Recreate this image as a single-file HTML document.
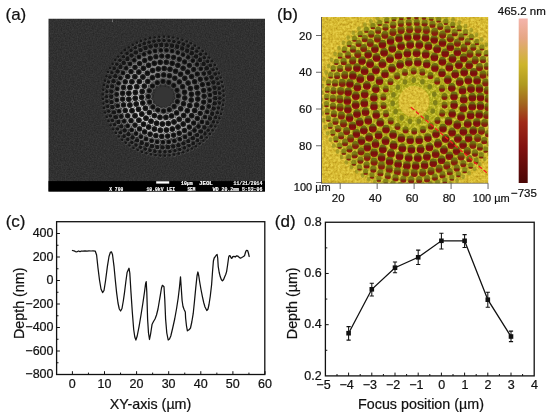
<!DOCTYPE html>
<html><head><meta charset="utf-8"><title>Figure</title>
<style>html,body{margin:0;padding:0;background:#fff;overflow:hidden}svg{display:block}text{font-family:"Liberation Sans",Arial,sans-serif;fill:#111;stroke:#111;stroke-width:0.22px}</style></head><body>
<svg width="550" height="418" viewBox="0 0 550 418">
<defs>
<linearGradient id="cb" x1="0" y1="0" x2="0" y2="1"><stop offset="0" stop-color="#f4b4ac"/><stop offset="0.12" stop-color="#e6a684"/><stop offset="0.28" stop-color="#cdb52c"/><stop offset="0.40" stop-color="#b09a20"/><stop offset="0.52" stop-color="#a2641e"/><stop offset="0.63" stop-color="#a02a18"/><stop offset="0.78" stop-color="#821210"/><stop offset="1" stop-color="#4a0706"/></linearGradient>
<linearGradient id="dot" x1="0" y1="0" x2="0" y2="1"><stop offset="0" stop-color="#6c640e"/><stop offset="0.15" stop-color="#6a3a0a"/><stop offset="0.32" stop-color="#741408"/><stop offset="0.7" stop-color="#820e08"/><stop offset="1" stop-color="#a0200e"/></linearGradient>
<linearGradient id="dot3" x1="0" y1="0" x2="0" y2="1"><stop offset="0" stop-color="#74700f"/><stop offset="0.25" stop-color="#72480c"/><stop offset="0.55" stop-color="#80200a"/><stop offset="1" stop-color="#9c1e0c"/></linearGradient>
<linearGradient id="dot2" x1="0" y1="0" x2="0" y2="1"><stop offset="0" stop-color="#86841a"/><stop offset="0.6" stop-color="#7c6e14"/><stop offset="1" stop-color="#8a5012"/></linearGradient>
<radialGradient id="hole" cx="0.5" cy="0.5" r="0.5"><stop offset="0" stop-color="#0b0b0b"/><stop offset="0.6" stop-color="#141414"/><stop offset="0.85" stop-color="#262626"/><stop offset="1" stop-color="#444"/></radialGradient>
<radialGradient id="afmbg" cx="0.56" cy="0.515" r="0.62"><stop offset="0" stop-color="#d8c450"/><stop offset="0.16" stop-color="#d6c24c"/><stop offset="0.24" stop-color="#bfb030"/><stop offset="0.78" stop-color="#b4a62a"/><stop offset="0.9" stop-color="#cdb840"/><stop offset="1" stop-color="#d9c350"/></radialGradient>
<clipPath id="afmclip"><rect x="321.1" y="17" width="167.1" height="166.3"/></clipPath>
<clipPath id="semclip"><rect x="48.5" y="18.7" width="216.5" height="172.8"/></clipPath>
<filter id="semn" color-interpolation-filters="sRGB" x="0" y="0" width="1" height="1"><feTurbulence type="fractalNoise" baseFrequency="0.75" numOctaves="2" seed="3"/><feColorMatrix type="matrix" values="0.12 0 0 0 0.132  0.12 0 0 0 0.132  0.12 0 0 0 0.132  0 0 0 0 1"/></filter>
<filter id="afml" color-interpolation-filters="sRGB" x="0" y="0" width="1" height="1"><feTurbulence type="fractalNoise" baseFrequency="0.42" numOctaves="2" seed="11"/><feColorMatrix type="matrix" values="0 0 0 0 0.98  0 0 0 0 0.9  0 0 0 0 0.38  3.6 0 0 0 -1.62"/></filter>
<filter id="afmd" color-interpolation-filters="sRGB" x="0" y="0" width="1" height="1"><feTurbulence type="fractalNoise" baseFrequency="0.42" numOctaves="2" seed="11"/><feColorMatrix type="matrix" values="0 0 0 0 0.62  0 0 0 0 0.45  0 0 0 0 0.03  -3.6 0 0 0 1.55"/></filter>
<filter id="b1"><feGaussianBlur stdDeviation="0.45"/></filter>
<filter id="b3"><feGaussianBlur stdDeviation="1.6"/></filter>
<filter id="b2"><feGaussianBlur stdDeviation="0.6"/></filter>
</defs>
<g clip-path="url(#semclip)">
<rect x="48" y="18" width="218" height="175" fill="#3b3b3b" filter="url(#semn)"/>
<g filter="url(#b1)">
<circle cx="163.3" cy="96.2" r="29" fill="none" stroke="#4e4e4e" stroke-width="30" opacity="0.9"/>
<circle cx="161.3" cy="98.2" r="27" fill="none" stroke="#808080" stroke-width="17" opacity="0.4"/>
<circle cx="157.8" cy="110.0" r="3.05" fill="none" stroke="rgb(123,123,123)" stroke-width="1.0"/>
<circle cx="152.9" cy="106.9" r="3.05" fill="none" stroke="rgb(125,125,125)" stroke-width="1.0"/>
<circle cx="149.6" cy="102.1" r="3.05" fill="none" stroke="rgb(124,124,124)" stroke-width="1.0"/>
<circle cx="148.3" cy="96.5" r="3.05" fill="none" stroke="rgb(120,120,120)" stroke-width="1.0"/>
<circle cx="149.3" cy="90.8" r="3.05" fill="none" stroke="rgb(114,114,114)" stroke-width="1.0"/>
<circle cx="152.5" cy="86.0" r="3.05" fill="none" stroke="rgb(107,107,107)" stroke-width="1.0"/>
<circle cx="157.3" cy="82.7" r="3.05" fill="none" stroke="rgb(99,99,99)" stroke-width="1.0"/>
<circle cx="163.0" cy="81.4" r="3.05" fill="none" stroke="rgb(93,93,93)" stroke-width="1.0"/>
<circle cx="168.8" cy="82.4" r="3.05" fill="none" stroke="rgb(89,89,89)" stroke-width="1.0"/>
<circle cx="173.7" cy="85.5" r="3.05" fill="none" stroke="rgb(87,87,87)" stroke-width="1.0"/>
<circle cx="177.0" cy="90.3" r="3.05" fill="none" stroke="rgb(89,89,89)" stroke-width="1.0"/>
<circle cx="178.3" cy="95.9" r="3.05" fill="none" stroke="rgb(93,93,93)" stroke-width="1.0"/>
<circle cx="177.3" cy="101.6" r="3.05" fill="none" stroke="rgb(99,99,99)" stroke-width="1.0"/>
<circle cx="174.1" cy="106.4" r="3.05" fill="none" stroke="rgb(106,106,106)" stroke-width="1.0"/>
<circle cx="169.3" cy="109.7" r="3.05" fill="none" stroke="rgb(113,113,113)" stroke-width="1.0"/>
<circle cx="163.6" cy="111.0" r="3.05" fill="none" stroke="rgb(119,119,119)" stroke-width="1.0"/>
<circle cx="176.6" cy="112.9" r="3.20" fill="none" stroke="rgb(173,173,173)" stroke-width="1.0"/>
<circle cx="171.6" cy="115.9" r="3.20" fill="none" stroke="rgb(186,186,186)" stroke-width="1.0"/>
<circle cx="165.9" cy="117.3" r="3.20" fill="none" stroke="rgb(198,198,198)" stroke-width="1.0"/>
<circle cx="160.0" cy="117.2" r="3.20" fill="none" stroke="rgb(208,208,208)" stroke-width="1.0"/>
<circle cx="154.4" cy="115.6" r="3.20" fill="none" stroke="rgb(214,214,214)" stroke-width="1.0"/>
<circle cx="149.4" cy="112.5" r="3.20" fill="none" stroke="rgb(217,217,217)" stroke-width="1.0"/>
<circle cx="145.4" cy="108.2" r="3.20" fill="none" stroke="rgb(217,217,217)" stroke-width="1.0"/>
<circle cx="142.8" cy="103.0" r="3.20" fill="none" stroke="rgb(212,212,212)" stroke-width="1.0"/>
<circle cx="141.7" cy="97.3" r="3.20" fill="none" stroke="rgb(205,205,205)" stroke-width="1.0"/>
<circle cx="142.2" cy="91.5" r="3.20" fill="none" stroke="rgb(194,194,194)" stroke-width="1.0"/>
<circle cx="144.3" cy="86.1" r="3.20" fill="none" stroke="rgb(182,182,182)" stroke-width="1.0"/>
<circle cx="147.8" cy="81.4" r="3.20" fill="none" stroke="rgb(168,168,168)" stroke-width="1.0"/>
<circle cx="152.4" cy="77.8" r="3.20" fill="none" stroke="rgb(154,154,154)" stroke-width="1.0"/>
<circle cx="157.8" cy="75.6" r="3.20" fill="none" stroke="rgb(142,142,142)" stroke-width="1.0"/>
<circle cx="163.7" cy="74.9" r="3.20" fill="none" stroke="rgb(131,131,131)" stroke-width="1.0"/>
<circle cx="169.5" cy="75.8" r="3.20" fill="none" stroke="rgb(123,123,123)" stroke-width="1.0"/>
<circle cx="174.8" cy="78.2" r="3.20" fill="none" stroke="rgb(118,118,118)" stroke-width="1.0"/>
<circle cx="179.3" cy="81.9" r="3.20" fill="none" stroke="rgb(117,117,117)" stroke-width="1.0"/>
<circle cx="182.6" cy="86.7" r="3.20" fill="none" stroke="rgb(119,119,119)" stroke-width="1.0"/>
<circle cx="184.5" cy="92.2" r="3.20" fill="none" stroke="rgb(126,126,126)" stroke-width="1.0"/>
<circle cx="184.8" cy="98.0" r="3.20" fill="none" stroke="rgb(135,135,135)" stroke-width="1.0"/>
<circle cx="183.5" cy="103.7" r="3.20" fill="none" stroke="rgb(146,146,146)" stroke-width="1.0"/>
<circle cx="180.7" cy="108.8" r="3.20" fill="none" stroke="rgb(159,159,159)" stroke-width="1.0"/>
<circle cx="142.9" cy="77.0" r="3.25" fill="none" stroke="rgb(187,187,187)" stroke-width="1.0"/>
<circle cx="147.4" cy="73.2" r="3.25" fill="none" stroke="rgb(174,174,174)" stroke-width="1.0"/>
<circle cx="152.6" cy="70.5" r="3.25" fill="none" stroke="rgb(162,162,162)" stroke-width="1.0"/>
<circle cx="158.3" cy="68.9" r="3.25" fill="none" stroke="rgb(151,151,151)" stroke-width="1.0"/>
<circle cx="164.2" cy="68.4" r="3.25" fill="none" stroke="rgb(142,142,142)" stroke-width="1.0"/>
<circle cx="170.0" cy="69.2" r="3.25" fill="none" stroke="rgb(134,134,134)" stroke-width="1.0"/>
<circle cx="175.6" cy="71.2" r="3.25" fill="none" stroke="rgb(129,129,129)" stroke-width="1.0"/>
<circle cx="180.6" cy="74.2" r="3.25" fill="none" stroke="rgb(126,126,126)" stroke-width="1.0"/>
<circle cx="184.8" cy="78.3" r="3.25" fill="none" stroke="rgb(126,126,126)" stroke-width="1.0"/>
<circle cx="188.1" cy="83.1" r="3.25" fill="none" stroke="rgb(128,128,128)" stroke-width="1.0"/>
<circle cx="190.4" cy="88.4" r="3.25" fill="none" stroke="rgb(133,133,133)" stroke-width="1.0"/>
<circle cx="191.4" cy="94.2" r="3.25" fill="none" stroke="rgb(140,140,140)" stroke-width="1.0"/>
<circle cx="191.2" cy="100.0" r="3.25" fill="none" stroke="rgb(149,149,149)" stroke-width="1.0"/>
<circle cx="189.8" cy="105.6" r="3.25" fill="none" stroke="rgb(160,160,160)" stroke-width="1.0"/>
<circle cx="187.3" cy="110.8" r="3.25" fill="none" stroke="rgb(172,172,172)" stroke-width="1.0"/>
<circle cx="183.7" cy="115.4" r="3.25" fill="none" stroke="rgb(184,184,184)" stroke-width="1.0"/>
<circle cx="179.2" cy="119.2" r="3.25" fill="none" stroke="rgb(197,197,197)" stroke-width="1.0"/>
<circle cx="174.0" cy="121.9" r="3.25" fill="none" stroke="rgb(209,209,209)" stroke-width="1.0"/>
<circle cx="168.3" cy="123.5" r="3.25" fill="none" stroke="rgb(220,220,220)" stroke-width="1.0"/>
<circle cx="162.4" cy="124.0" r="3.25" fill="none" stroke="rgb(229,229,229)" stroke-width="1.0"/>
<circle cx="156.6" cy="123.2" r="3.25" fill="none" stroke="rgb(237,237,237)" stroke-width="1.0"/>
<circle cx="151.0" cy="121.2" r="3.25" fill="none" stroke="rgb(242,242,242)" stroke-width="1.0"/>
<circle cx="146.0" cy="118.2" r="3.25" fill="none" stroke="rgb(245,245,245)" stroke-width="1.0"/>
<circle cx="141.8" cy="114.1" r="3.25" fill="none" stroke="rgb(245,245,245)" stroke-width="1.0"/>
<circle cx="138.5" cy="109.3" r="3.25" fill="none" stroke="rgb(243,243,243)" stroke-width="1.0"/>
<circle cx="136.2" cy="104.0" r="3.25" fill="none" stroke="rgb(238,238,238)" stroke-width="1.0"/>
<circle cx="135.2" cy="98.2" r="3.25" fill="none" stroke="rgb(231,231,231)" stroke-width="1.0"/>
<circle cx="135.4" cy="92.4" r="3.25" fill="none" stroke="rgb(222,222,222)" stroke-width="1.0"/>
<circle cx="136.8" cy="86.8" r="3.25" fill="none" stroke="rgb(211,211,211)" stroke-width="1.0"/>
<circle cx="139.3" cy="81.6" r="3.25" fill="none" stroke="rgb(199,199,199)" stroke-width="1.0"/>
<circle cx="194.7" cy="110.6" r="3.25" fill="none" stroke="rgb(160,160,160)" stroke-width="1.0"/>
<circle cx="191.7" cy="115.7" r="3.25" fill="none" stroke="rgb(169,169,169)" stroke-width="1.0"/>
<circle cx="187.8" cy="120.3" r="3.25" fill="none" stroke="rgb(179,179,179)" stroke-width="1.0"/>
<circle cx="183.2" cy="124.1" r="3.25" fill="none" stroke="rgb(189,189,189)" stroke-width="1.0"/>
<circle cx="178.0" cy="127.1" r="3.25" fill="none" stroke="rgb(199,199,199)" stroke-width="1.0"/>
<circle cx="172.3" cy="129.1" r="3.25" fill="none" stroke="rgb(208,208,208)" stroke-width="1.0"/>
<circle cx="166.4" cy="130.1" r="3.25" fill="none" stroke="rgb(216,216,216)" stroke-width="1.0"/>
<circle cx="160.3" cy="130.2" r="3.25" fill="none" stroke="rgb(223,223,223)" stroke-width="1.0"/>
<circle cx="154.4" cy="129.1" r="3.25" fill="none" stroke="rgb(228,228,228)" stroke-width="1.0"/>
<circle cx="148.7" cy="127.1" r="3.25" fill="none" stroke="rgb(233,233,233)" stroke-width="1.0"/>
<circle cx="143.5" cy="124.2" r="3.25" fill="none" stroke="rgb(235,235,235)" stroke-width="1.0"/>
<circle cx="138.9" cy="120.3" r="3.25" fill="none" stroke="rgb(236,236,236)" stroke-width="1.0"/>
<circle cx="135.0" cy="115.8" r="3.25" fill="none" stroke="rgb(235,235,235)" stroke-width="1.0"/>
<circle cx="132.0" cy="110.7" r="3.25" fill="none" stroke="rgb(233,233,233)" stroke-width="1.0"/>
<circle cx="129.9" cy="105.1" r="3.25" fill="none" stroke="rgb(228,228,228)" stroke-width="1.0"/>
<circle cx="128.8" cy="99.2" r="3.25" fill="none" stroke="rgb(223,223,223)" stroke-width="1.0"/>
<circle cx="128.8" cy="93.3" r="3.25" fill="none" stroke="rgb(216,216,216)" stroke-width="1.0"/>
<circle cx="129.9" cy="87.4" r="3.25" fill="none" stroke="rgb(208,208,208)" stroke-width="1.0"/>
<circle cx="131.9" cy="81.8" r="3.25" fill="none" stroke="rgb(199,199,199)" stroke-width="1.0"/>
<circle cx="134.9" cy="76.7" r="3.25" fill="none" stroke="rgb(189,189,189)" stroke-width="1.0"/>
<circle cx="138.8" cy="72.1" r="3.25" fill="none" stroke="rgb(179,179,179)" stroke-width="1.0"/>
<circle cx="143.4" cy="68.3" r="3.25" fill="none" stroke="rgb(170,170,170)" stroke-width="1.0"/>
<circle cx="148.6" cy="65.3" r="3.25" fill="none" stroke="rgb(160,160,160)" stroke-width="1.0"/>
<circle cx="154.3" cy="63.3" r="3.25" fill="none" stroke="rgb(151,151,151)" stroke-width="1.0"/>
<circle cx="160.2" cy="62.3" r="3.25" fill="none" stroke="rgb(143,143,143)" stroke-width="1.0"/>
<circle cx="166.3" cy="62.2" r="3.25" fill="none" stroke="rgb(136,136,136)" stroke-width="1.0"/>
<circle cx="172.2" cy="63.3" r="3.25" fill="none" stroke="rgb(130,130,130)" stroke-width="1.0"/>
<circle cx="177.9" cy="65.3" r="3.25" fill="none" stroke="rgb(126,126,126)" stroke-width="1.0"/>
<circle cx="183.1" cy="68.2" r="3.25" fill="none" stroke="rgb(124,124,124)" stroke-width="1.0"/>
<circle cx="187.7" cy="72.1" r="3.25" fill="none" stroke="rgb(123,123,123)" stroke-width="1.0"/>
<circle cx="191.6" cy="76.6" r="3.25" fill="none" stroke="rgb(124,124,124)" stroke-width="1.0"/>
<circle cx="194.6" cy="81.7" r="3.25" fill="none" stroke="rgb(126,126,126)" stroke-width="1.0"/>
<circle cx="196.7" cy="87.3" r="3.25" fill="none" stroke="rgb(130,130,130)" stroke-width="1.0"/>
<circle cx="197.8" cy="93.2" r="3.25" fill="none" stroke="rgb(136,136,136)" stroke-width="1.0"/>
<circle cx="197.8" cy="99.1" r="3.25" fill="none" stroke="rgb(143,143,143)" stroke-width="1.0"/>
<circle cx="196.7" cy="105.0" r="3.25" fill="none" stroke="rgb(151,151,151)" stroke-width="1.0"/>
<circle cx="122.6" cy="93.2" r="3.10" fill="none" stroke="rgb(184,184,184)" stroke-width="1.0"/>
<circle cx="123.5" cy="87.4" r="3.10" fill="none" stroke="rgb(179,179,179)" stroke-width="1.0"/>
<circle cx="125.2" cy="81.8" r="3.10" fill="none" stroke="rgb(173,173,173)" stroke-width="1.0"/>
<circle cx="127.7" cy="76.5" r="3.10" fill="none" stroke="rgb(167,167,167)" stroke-width="1.0"/>
<circle cx="131.0" cy="71.6" r="3.10" fill="none" stroke="rgb(161,161,161)" stroke-width="1.0"/>
<circle cx="135.0" cy="67.3" r="3.10" fill="none" stroke="rgb(154,154,154)" stroke-width="1.0"/>
<circle cx="139.6" cy="63.5" r="3.10" fill="none" stroke="rgb(148,148,148)" stroke-width="1.0"/>
<circle cx="144.7" cy="60.4" r="3.10" fill="none" stroke="rgb(141,141,141)" stroke-width="1.0"/>
<circle cx="150.2" cy="58.2" r="3.10" fill="none" stroke="rgb(136,136,136)" stroke-width="1.0"/>
<circle cx="155.9" cy="56.7" r="3.10" fill="none" stroke="rgb(130,130,130)" stroke-width="1.0"/>
<circle cx="161.8" cy="56.0" r="3.10" fill="none" stroke="rgb(125,125,125)" stroke-width="1.0"/>
<circle cx="167.8" cy="56.3" r="3.10" fill="none" stroke="rgb(121,121,121)" stroke-width="1.0"/>
<circle cx="173.6" cy="57.3" r="3.10" fill="none" stroke="rgb(117,117,117)" stroke-width="1.0"/>
<circle cx="179.3" cy="59.2" r="3.10" fill="none" stroke="rgb(114,114,114)" stroke-width="1.0"/>
<circle cx="184.6" cy="61.9" r="3.10" fill="none" stroke="rgb(112,112,112)" stroke-width="1.0"/>
<circle cx="189.4" cy="65.3" r="3.10" fill="none" stroke="rgb(111,111,111)" stroke-width="1.0"/>
<circle cx="193.7" cy="69.4" r="3.10" fill="none" stroke="rgb(111,111,111)" stroke-width="1.0"/>
<circle cx="197.3" cy="74.0" r="3.10" fill="none" stroke="rgb(112,112,112)" stroke-width="1.0"/>
<circle cx="200.3" cy="79.2" r="3.10" fill="none" stroke="rgb(114,114,114)" stroke-width="1.0"/>
<circle cx="202.4" cy="84.6" r="3.10" fill="none" stroke="rgb(116,116,116)" stroke-width="1.0"/>
<circle cx="203.7" cy="90.4" r="3.10" fill="none" stroke="rgb(120,120,120)" stroke-width="1.0"/>
<circle cx="204.1" cy="96.2" r="3.10" fill="none" stroke="rgb(124,124,124)" stroke-width="1.0"/>
<circle cx="203.7" cy="102.1" r="3.10" fill="none" stroke="rgb(129,129,129)" stroke-width="1.0"/>
<circle cx="202.4" cy="107.8" r="3.10" fill="none" stroke="rgb(134,134,134)" stroke-width="1.0"/>
<circle cx="200.2" cy="113.3" r="3.10" fill="none" stroke="rgb(140,140,140)" stroke-width="1.0"/>
<circle cx="197.3" cy="118.4" r="3.10" fill="none" stroke="rgb(146,146,146)" stroke-width="1.0"/>
<circle cx="193.7" cy="123.0" r="3.10" fill="none" stroke="rgb(153,153,153)" stroke-width="1.0"/>
<circle cx="189.4" cy="127.1" r="3.10" fill="none" stroke="rgb(159,159,159)" stroke-width="1.0"/>
<circle cx="184.5" cy="130.5" r="3.10" fill="none" stroke="rgb(165,165,165)" stroke-width="1.0"/>
<circle cx="179.2" cy="133.2" r="3.10" fill="none" stroke="rgb(171,171,171)" stroke-width="1.0"/>
<circle cx="173.6" cy="135.1" r="3.10" fill="none" stroke="rgb(177,177,177)" stroke-width="1.0"/>
<circle cx="167.7" cy="136.1" r="3.10" fill="none" stroke="rgb(183,183,183)" stroke-width="1.0"/>
<circle cx="161.8" cy="136.4" r="3.10" fill="none" stroke="rgb(187,187,187)" stroke-width="1.0"/>
<circle cx="155.9" cy="135.7" r="3.10" fill="none" stroke="rgb(191,191,191)" stroke-width="1.0"/>
<circle cx="150.1" cy="134.2" r="3.10" fill="none" stroke="rgb(195,195,195)" stroke-width="1.0"/>
<circle cx="144.6" cy="131.9" r="3.10" fill="none" stroke="rgb(197,197,197)" stroke-width="1.0"/>
<circle cx="139.5" cy="128.9" r="3.10" fill="none" stroke="rgb(198,198,198)" stroke-width="1.0"/>
<circle cx="135.0" cy="125.1" r="3.10" fill="none" stroke="rgb(199,199,199)" stroke-width="1.0"/>
<circle cx="131.0" cy="120.7" r="3.10" fill="none" stroke="rgb(199,199,199)" stroke-width="1.0"/>
<circle cx="127.7" cy="115.8" r="3.10" fill="none" stroke="rgb(197,197,197)" stroke-width="1.0"/>
<circle cx="125.2" cy="110.5" r="3.10" fill="none" stroke="rgb(195,195,195)" stroke-width="1.0"/>
<circle cx="123.5" cy="104.9" r="3.10" fill="none" stroke="rgb(192,192,192)" stroke-width="1.0"/>
<circle cx="122.6" cy="99.1" r="3.10" fill="none" stroke="rgb(188,188,188)" stroke-width="1.0"/>
<circle cx="136.5" cy="134.0" r="2.90" fill="rgb(153,153,153)" opacity="0.8"/>
<circle cx="132.0" cy="130.4" r="2.90" fill="rgb(153,153,153)" opacity="0.8"/>
<circle cx="128.1" cy="126.3" r="2.90" fill="rgb(153,153,153)" opacity="0.8"/>
<circle cx="124.6" cy="121.8" r="2.90" fill="rgb(153,153,153)" opacity="0.8"/>
<circle cx="121.8" cy="116.9" r="2.90" fill="rgb(152,152,152)" opacity="0.8"/>
<circle cx="119.6" cy="111.6" r="2.90" fill="rgb(151,151,151)" opacity="0.8"/>
<circle cx="118.1" cy="106.2" r="2.90" fill="rgb(149,149,149)" opacity="0.8"/>
<circle cx="117.2" cy="100.6" r="2.90" fill="rgb(148,148,148)" opacity="0.8"/>
<circle cx="117.1" cy="94.9" r="2.90" fill="rgb(145,145,145)" opacity="0.8"/>
<circle cx="117.7" cy="89.3" r="2.90" fill="rgb(143,143,143)" opacity="0.8"/>
<circle cx="118.9" cy="83.7" r="2.90" fill="rgb(140,140,140)" opacity="0.8"/>
<circle cx="120.9" cy="78.4" r="2.90" fill="rgb(138,138,138)" opacity="0.8"/>
<circle cx="123.5" cy="73.4" r="2.90" fill="rgb(135,135,135)" opacity="0.8"/>
<circle cx="126.7" cy="68.7" r="2.90" fill="rgb(132,132,132)" opacity="0.8"/>
<circle cx="130.5" cy="64.4" r="2.90" fill="rgb(129,129,129)" opacity="0.8"/>
<circle cx="134.7" cy="60.6" r="2.90" fill="rgb(125,125,125)" opacity="0.8"/>
<circle cx="139.5" cy="57.4" r="2.90" fill="rgb(122,122,122)" opacity="0.8"/>
<circle cx="144.5" cy="54.7" r="2.90" fill="rgb(119,119,119)" opacity="0.8"/>
<circle cx="149.9" cy="52.7" r="2.90" fill="rgb(117,117,117)" opacity="0.8"/>
<circle cx="155.5" cy="51.4" r="2.90" fill="rgb(114,114,114)" opacity="0.8"/>
<circle cx="161.2" cy="50.7" r="2.90" fill="rgb(112,112,112)" opacity="0.8"/>
<circle cx="167.0" cy="50.8" r="2.90" fill="rgb(109,109,109)" opacity="0.8"/>
<circle cx="172.7" cy="51.5" r="2.90" fill="rgb(107,107,107)" opacity="0.8"/>
<circle cx="178.2" cy="52.9" r="2.90" fill="rgb(106,106,106)" opacity="0.8"/>
<circle cx="183.6" cy="55.0" r="2.90" fill="rgb(105,105,105)" opacity="0.8"/>
<circle cx="188.6" cy="57.7" r="2.90" fill="rgb(104,104,104)" opacity="0.8"/>
<circle cx="193.3" cy="61.0" r="2.90" fill="rgb(103,103,103)" opacity="0.8"/>
<circle cx="197.5" cy="64.9" r="2.90" fill="rgb(103,103,103)" opacity="0.8"/>
<circle cx="201.2" cy="69.2" r="2.90" fill="rgb(103,103,103)" opacity="0.8"/>
<circle cx="204.4" cy="73.9" r="2.90" fill="rgb(104,104,104)" opacity="0.8"/>
<circle cx="206.9" cy="79.0" r="2.90" fill="rgb(105,105,105)" opacity="0.8"/>
<circle cx="208.8" cy="84.4" r="2.90" fill="rgb(106,106,106)" opacity="0.8"/>
<circle cx="209.9" cy="89.9" r="2.90" fill="rgb(108,108,108)" opacity="0.8"/>
<circle cx="210.4" cy="95.6" r="2.90" fill="rgb(110,110,110)" opacity="0.8"/>
<circle cx="210.2" cy="101.2" r="2.90" fill="rgb(112,112,112)" opacity="0.8"/>
<circle cx="209.3" cy="106.8" r="2.90" fill="rgb(115,115,115)" opacity="0.8"/>
<circle cx="207.7" cy="112.3" r="2.90" fill="rgb(118,118,118)" opacity="0.8"/>
<circle cx="205.4" cy="117.5" r="2.90" fill="rgb(121,121,121)" opacity="0.8"/>
<circle cx="202.5" cy="122.3" r="2.90" fill="rgb(124,124,124)" opacity="0.8"/>
<circle cx="199.0" cy="126.8" r="2.90" fill="rgb(127,127,127)" opacity="0.8"/>
<circle cx="195.0" cy="130.9" r="2.90" fill="rgb(130,130,130)" opacity="0.8"/>
<circle cx="190.5" cy="134.4" r="2.90" fill="rgb(133,133,133)" opacity="0.8"/>
<circle cx="185.5" cy="137.3" r="2.90" fill="rgb(136,136,136)" opacity="0.8"/>
<circle cx="180.3" cy="139.7" r="2.90" fill="rgb(139,139,139)" opacity="0.8"/>
<circle cx="174.8" cy="141.3" r="2.90" fill="rgb(141,141,141)" opacity="0.8"/>
<circle cx="169.1" cy="142.3" r="2.90" fill="rgb(144,144,144)" opacity="0.8"/>
<circle cx="163.4" cy="142.6" r="2.90" fill="rgb(146,146,146)" opacity="0.8"/>
<circle cx="157.7" cy="142.3" r="2.90" fill="rgb(148,148,148)" opacity="0.8"/>
<circle cx="152.0" cy="141.2" r="2.90" fill="rgb(150,150,150)" opacity="0.8"/>
<circle cx="146.6" cy="139.4" r="2.90" fill="rgb(151,151,151)" opacity="0.8"/>
<circle cx="141.4" cy="137.0" r="2.90" fill="rgb(152,152,152)" opacity="0.8"/>
<circle cx="212.6" cy="114.1" r="2.55" fill="rgb(101,101,101)" opacity="0.8"/>
<circle cx="210.6" cy="119.0" r="2.55" fill="rgb(102,102,102)" opacity="0.8"/>
<circle cx="208.0" cy="123.6" r="2.55" fill="rgb(103,103,103)" opacity="0.8"/>
<circle cx="204.9" cy="127.9" r="2.55" fill="rgb(105,105,105)" opacity="0.8"/>
<circle cx="201.4" cy="131.9" r="2.55" fill="rgb(106,106,106)" opacity="0.8"/>
<circle cx="197.6" cy="135.6" r="2.55" fill="rgb(107,107,107)" opacity="0.8"/>
<circle cx="193.3" cy="138.8" r="2.55" fill="rgb(109,109,109)" opacity="0.8"/>
<circle cx="188.8" cy="141.6" r="2.55" fill="rgb(110,110,110)" opacity="0.8"/>
<circle cx="183.9" cy="143.9" r="2.55" fill="rgb(112,112,112)" opacity="0.8"/>
<circle cx="178.9" cy="145.6" r="2.55" fill="rgb(113,113,113)" opacity="0.8"/>
<circle cx="173.7" cy="146.9" r="2.55" fill="rgb(114,114,114)" opacity="0.8"/>
<circle cx="168.4" cy="147.7" r="2.55" fill="rgb(115,115,115)" opacity="0.8"/>
<circle cx="163.1" cy="147.9" r="2.55" fill="rgb(116,116,116)" opacity="0.8"/>
<circle cx="157.7" cy="147.5" r="2.55" fill="rgb(117,117,117)" opacity="0.8"/>
<circle cx="152.4" cy="146.6" r="2.55" fill="rgb(118,118,118)" opacity="0.8"/>
<circle cx="147.3" cy="145.2" r="2.55" fill="rgb(119,119,119)" opacity="0.8"/>
<circle cx="142.3" cy="143.3" r="2.55" fill="rgb(119,119,119)" opacity="0.8"/>
<circle cx="137.5" cy="140.9" r="2.55" fill="rgb(120,120,120)" opacity="0.8"/>
<circle cx="133.1" cy="138.0" r="2.55" fill="rgb(120,120,120)" opacity="0.8"/>
<circle cx="128.9" cy="134.7" r="2.55" fill="rgb(120,120,120)" opacity="0.8"/>
<circle cx="125.1" cy="130.9" r="2.55" fill="rgb(120,120,120)" opacity="0.8"/>
<circle cx="121.7" cy="126.8" r="2.55" fill="rgb(120,120,120)" opacity="0.8"/>
<circle cx="118.8" cy="122.4" r="2.55" fill="rgb(120,120,120)" opacity="0.8"/>
<circle cx="116.4" cy="117.7" r="2.55" fill="rgb(119,119,119)" opacity="0.8"/>
<circle cx="114.4" cy="112.8" r="2.55" fill="rgb(119,119,119)" opacity="0.8"/>
<circle cx="113.0" cy="107.8" r="2.55" fill="rgb(118,118,118)" opacity="0.8"/>
<circle cx="112.1" cy="102.6" r="2.55" fill="rgb(117,117,117)" opacity="0.8"/>
<circle cx="111.8" cy="97.3" r="2.55" fill="rgb(116,116,116)" opacity="0.8"/>
<circle cx="112.0" cy="92.0" r="2.55" fill="rgb(115,115,115)" opacity="0.8"/>
<circle cx="112.7" cy="86.8" r="2.55" fill="rgb(114,114,114)" opacity="0.8"/>
<circle cx="114.0" cy="81.7" r="2.55" fill="rgb(113,113,113)" opacity="0.8"/>
<circle cx="115.8" cy="76.7" r="2.55" fill="rgb(112,112,112)" opacity="0.8"/>
<circle cx="118.2" cy="72.0" r="2.55" fill="rgb(110,110,110)" opacity="0.8"/>
<circle cx="121.0" cy="67.5" r="2.55" fill="rgb(109,109,109)" opacity="0.8"/>
<circle cx="124.3" cy="63.3" r="2.55" fill="rgb(107,107,107)" opacity="0.8"/>
<circle cx="128.0" cy="59.5" r="2.55" fill="rgb(106,106,106)" opacity="0.8"/>
<circle cx="132.0" cy="56.1" r="2.55" fill="rgb(105,105,105)" opacity="0.8"/>
<circle cx="136.4" cy="53.1" r="2.55" fill="rgb(103,103,103)" opacity="0.8"/>
<circle cx="141.1" cy="50.5" r="2.55" fill="rgb(102,102,102)" opacity="0.8"/>
<circle cx="146.1" cy="48.5" r="2.55" fill="rgb(100,100,100)" opacity="0.8"/>
<circle cx="151.2" cy="47.0" r="2.55" fill="rgb(99,99,99)" opacity="0.8"/>
<circle cx="156.4" cy="45.9" r="2.55" fill="rgb(98,98,98)" opacity="0.8"/>
<circle cx="161.8" cy="45.5" r="2.55" fill="rgb(97,97,97)" opacity="0.8"/>
<circle cx="167.1" cy="45.5" r="2.55" fill="rgb(96,96,96)" opacity="0.8"/>
<circle cx="172.4" cy="46.1" r="2.55" fill="rgb(95,95,95)" opacity="0.8"/>
<circle cx="177.7" cy="47.3" r="2.55" fill="rgb(94,94,94)" opacity="0.8"/>
<circle cx="182.7" cy="49.0" r="2.55" fill="rgb(94,94,94)" opacity="0.8"/>
<circle cx="187.6" cy="51.1" r="2.55" fill="rgb(93,93,93)" opacity="0.8"/>
<circle cx="192.2" cy="53.8" r="2.55" fill="rgb(93,93,93)" opacity="0.8"/>
<circle cx="196.6" cy="56.9" r="2.55" fill="rgb(93,93,93)" opacity="0.8"/>
<circle cx="200.5" cy="60.4" r="2.55" fill="rgb(93,93,93)" opacity="0.8"/>
<circle cx="204.1" cy="64.4" r="2.55" fill="rgb(93,93,93)" opacity="0.8"/>
<circle cx="207.3" cy="68.6" r="2.55" fill="rgb(93,93,93)" opacity="0.8"/>
<circle cx="210.0" cy="73.2" r="2.55" fill="rgb(93,93,93)" opacity="0.8"/>
<circle cx="212.2" cy="78.0" r="2.55" fill="rgb(94,94,94)" opacity="0.8"/>
<circle cx="213.9" cy="83.0" r="2.55" fill="rgb(94,94,94)" opacity="0.8"/>
<circle cx="215.0" cy="88.1" r="2.55" fill="rgb(95,95,95)" opacity="0.8"/>
<circle cx="215.6" cy="93.4" r="2.55" fill="rgb(96,96,96)" opacity="0.8"/>
<circle cx="215.7" cy="98.6" r="2.55" fill="rgb(97,97,97)" opacity="0.8"/>
<circle cx="215.2" cy="103.9" r="2.55" fill="rgb(98,98,98)" opacity="0.8"/>
<circle cx="214.2" cy="109.1" r="2.55" fill="rgb(99,99,99)" opacity="0.8"/>
<circle cx="107.4" cy="102.0" r="2.15" fill="rgb(100,100,100)" opacity="0.8"/>
<circle cx="107.2" cy="97.1" r="2.15" fill="rgb(100,100,100)" opacity="0.8"/>
<circle cx="107.3" cy="92.2" r="2.15" fill="rgb(99,99,99)" opacity="0.8"/>
<circle cx="108.0" cy="87.3" r="2.15" fill="rgb(99,99,99)" opacity="0.8"/>
<circle cx="109.0" cy="82.5" r="2.15" fill="rgb(98,98,98)" opacity="0.8"/>
<circle cx="110.5" cy="77.8" r="2.15" fill="rgb(97,97,97)" opacity="0.8"/>
<circle cx="112.4" cy="73.2" r="2.15" fill="rgb(97,97,97)" opacity="0.8"/>
<circle cx="114.7" cy="68.8" r="2.15" fill="rgb(96,96,96)" opacity="0.8"/>
<circle cx="117.4" cy="64.7" r="2.15" fill="rgb(95,95,95)" opacity="0.8"/>
<circle cx="120.4" cy="60.8" r="2.15" fill="rgb(95,95,95)" opacity="0.8"/>
<circle cx="123.8" cy="57.1" r="2.15" fill="rgb(94,94,94)" opacity="0.8"/>
<circle cx="127.5" cy="53.8" r="2.15" fill="rgb(93,93,93)" opacity="0.8"/>
<circle cx="131.5" cy="50.8" r="2.15" fill="rgb(93,93,93)" opacity="0.8"/>
<circle cx="135.8" cy="48.2" r="2.15" fill="rgb(92,92,92)" opacity="0.8"/>
<circle cx="140.2" cy="45.9" r="2.15" fill="rgb(92,92,92)" opacity="0.8"/>
<circle cx="144.9" cy="44.1" r="2.15" fill="rgb(91,91,91)" opacity="0.8"/>
<circle cx="149.6" cy="42.7" r="2.15" fill="rgb(90,90,90)" opacity="0.8"/>
<circle cx="154.5" cy="41.6" r="2.15" fill="rgb(90,90,90)" opacity="0.8"/>
<circle cx="159.5" cy="41.1" r="2.15" fill="rgb(89,89,89)" opacity="0.8"/>
<circle cx="164.5" cy="40.9" r="2.15" fill="rgb(89,89,89)" opacity="0.8"/>
<circle cx="169.5" cy="41.2" r="2.15" fill="rgb(88,88,88)" opacity="0.8"/>
<circle cx="174.5" cy="41.9" r="2.15" fill="rgb(88,88,88)" opacity="0.8"/>
<circle cx="179.3" cy="43.1" r="2.15" fill="rgb(88,88,88)" opacity="0.8"/>
<circle cx="184.1" cy="44.6" r="2.15" fill="rgb(87,87,87)" opacity="0.8"/>
<circle cx="188.7" cy="46.6" r="2.15" fill="rgb(87,87,87)" opacity="0.8"/>
<circle cx="193.1" cy="49.0" r="2.15" fill="rgb(87,87,87)" opacity="0.8"/>
<circle cx="197.2" cy="51.7" r="2.15" fill="rgb(87,87,87)" opacity="0.8"/>
<circle cx="201.1" cy="54.8" r="2.15" fill="rgb(87,87,87)" opacity="0.8"/>
<circle cx="204.7" cy="58.2" r="2.15" fill="rgb(87,87,87)" opacity="0.8"/>
<circle cx="208.0" cy="61.9" r="2.15" fill="rgb(87,87,87)" opacity="0.8"/>
<circle cx="211.0" cy="65.9" r="2.15" fill="rgb(87,87,87)" opacity="0.8"/>
<circle cx="213.6" cy="70.2" r="2.15" fill="rgb(87,87,87)" opacity="0.8"/>
<circle cx="215.7" cy="74.6" r="2.15" fill="rgb(87,87,87)" opacity="0.8"/>
<circle cx="217.5" cy="79.2" r="2.15" fill="rgb(87,87,87)" opacity="0.8"/>
<circle cx="218.9" cy="84.0" r="2.15" fill="rgb(88,88,88)" opacity="0.8"/>
<circle cx="219.8" cy="88.8" r="2.15" fill="rgb(88,88,88)" opacity="0.8"/>
<circle cx="220.3" cy="93.7" r="2.15" fill="rgb(89,89,89)" opacity="0.8"/>
<circle cx="220.3" cy="98.6" r="2.15" fill="rgb(89,89,89)" opacity="0.8"/>
<circle cx="219.9" cy="103.6" r="2.15" fill="rgb(90,90,90)" opacity="0.8"/>
<circle cx="219.1" cy="108.4" r="2.15" fill="rgb(90,90,90)" opacity="0.8"/>
<circle cx="217.8" cy="113.2" r="2.15" fill="rgb(91,91,91)" opacity="0.8"/>
<circle cx="216.1" cy="117.8" r="2.15" fill="rgb(91,91,91)" opacity="0.8"/>
<circle cx="214.0" cy="122.3" r="2.15" fill="rgb(92,92,92)" opacity="0.8"/>
<circle cx="211.5" cy="126.6" r="2.15" fill="rgb(93,93,93)" opacity="0.8"/>
<circle cx="208.6" cy="130.6" r="2.15" fill="rgb(93,93,93)" opacity="0.8"/>
<circle cx="205.4" cy="134.4" r="2.15" fill="rgb(94,94,94)" opacity="0.8"/>
<circle cx="201.9" cy="137.9" r="2.15" fill="rgb(95,95,95)" opacity="0.8"/>
<circle cx="198.0" cy="141.0" r="2.15" fill="rgb(95,95,95)" opacity="0.8"/>
<circle cx="193.9" cy="143.8" r="2.15" fill="rgb(96,96,96)" opacity="0.8"/>
<circle cx="189.5" cy="146.3" r="2.15" fill="rgb(96,96,96)" opacity="0.8"/>
<circle cx="185.0" cy="148.3" r="2.15" fill="rgb(97,97,97)" opacity="0.8"/>
<circle cx="180.3" cy="150.0" r="2.15" fill="rgb(98,98,98)" opacity="0.8"/>
<circle cx="175.4" cy="151.2" r="2.15" fill="rgb(98,98,98)" opacity="0.8"/>
<circle cx="170.5" cy="152.0" r="2.15" fill="rgb(99,99,99)" opacity="0.8"/>
<circle cx="165.5" cy="152.4" r="2.15" fill="rgb(99,99,99)" opacity="0.8"/>
<circle cx="160.5" cy="152.3" r="2.15" fill="rgb(100,100,100)" opacity="0.8"/>
<circle cx="155.5" cy="151.8" r="2.15" fill="rgb(100,100,100)" opacity="0.8"/>
<circle cx="150.6" cy="150.9" r="2.15" fill="rgb(101,101,101)" opacity="0.8"/>
<circle cx="145.8" cy="149.5" r="2.15" fill="rgb(101,101,101)" opacity="0.8"/>
<circle cx="141.1" cy="147.7" r="2.15" fill="rgb(101,101,101)" opacity="0.8"/>
<circle cx="136.6" cy="145.6" r="2.15" fill="rgb(101,101,101)" opacity="0.8"/>
<circle cx="132.3" cy="143.0" r="2.15" fill="rgb(102,102,102)" opacity="0.8"/>
<circle cx="128.3" cy="140.1" r="2.15" fill="rgb(102,102,102)" opacity="0.8"/>
<circle cx="124.5" cy="136.8" r="2.15" fill="rgb(102,102,102)" opacity="0.8"/>
<circle cx="121.1" cy="133.3" r="2.15" fill="rgb(102,102,102)" opacity="0.8"/>
<circle cx="117.9" cy="129.4" r="2.15" fill="rgb(102,102,102)" opacity="0.8"/>
<circle cx="115.2" cy="125.3" r="2.15" fill="rgb(101,101,101)" opacity="0.8"/>
<circle cx="112.8" cy="120.9" r="2.15" fill="rgb(101,101,101)" opacity="0.8"/>
<circle cx="110.8" cy="116.4" r="2.15" fill="rgb(101,101,101)" opacity="0.8"/>
<circle cx="109.3" cy="111.7" r="2.15" fill="rgb(101,101,101)" opacity="0.8"/>
<circle cx="108.1" cy="106.9" r="2.15" fill="rgb(100,100,100)" opacity="0.8"/>
<circle cx="222.6" cy="109.9" r="1.70" fill="rgb(84,84,84)" opacity="0.8"/>
<circle cx="221.4" cy="114.4" r="1.70" fill="rgb(84,84,84)" opacity="0.8"/>
<circle cx="219.8" cy="118.7" r="1.70" fill="rgb(84,84,84)" opacity="0.8"/>
<circle cx="217.9" cy="122.9" r="1.70" fill="rgb(85,85,85)" opacity="0.8"/>
<circle cx="215.7" cy="127.0" r="1.70" fill="rgb(85,85,85)" opacity="0.8"/>
<circle cx="213.2" cy="130.9" r="1.70" fill="rgb(85,85,85)" opacity="0.8"/>
<circle cx="210.3" cy="134.5" r="1.70" fill="rgb(85,85,85)" opacity="0.8"/>
<circle cx="207.2" cy="138.0" r="1.70" fill="rgb(86,86,86)" opacity="0.8"/>
<circle cx="203.8" cy="141.2" r="1.70" fill="rgb(86,86,86)" opacity="0.8"/>
<circle cx="200.2" cy="144.1" r="1.70" fill="rgb(86,86,86)" opacity="0.8"/>
<circle cx="196.3" cy="146.7" r="1.70" fill="rgb(86,86,86)" opacity="0.8"/>
<circle cx="192.3" cy="149.1" r="1.70" fill="rgb(87,87,87)" opacity="0.8"/>
<circle cx="188.1" cy="151.1" r="1.70" fill="rgb(87,87,87)" opacity="0.8"/>
<circle cx="183.7" cy="152.8" r="1.70" fill="rgb(87,87,87)" opacity="0.8"/>
<circle cx="179.3" cy="154.1" r="1.70" fill="rgb(87,87,87)" opacity="0.8"/>
<circle cx="174.7" cy="155.2" r="1.70" fill="rgb(87,87,87)" opacity="0.8"/>
<circle cx="170.1" cy="155.8" r="1.70" fill="rgb(88,88,88)" opacity="0.8"/>
<circle cx="165.4" cy="156.1" r="1.70" fill="rgb(88,88,88)" opacity="0.8"/>
<circle cx="160.7" cy="156.1" r="1.70" fill="rgb(88,88,88)" opacity="0.8"/>
<circle cx="156.0" cy="155.7" r="1.70" fill="rgb(88,88,88)" opacity="0.8"/>
<circle cx="151.4" cy="154.9" r="1.70" fill="rgb(88,88,88)" opacity="0.8"/>
<circle cx="146.9" cy="153.8" r="1.70" fill="rgb(88,88,88)" opacity="0.8"/>
<circle cx="142.4" cy="152.3" r="1.70" fill="rgb(88,88,88)" opacity="0.8"/>
<circle cx="138.1" cy="150.5" r="1.70" fill="rgb(89,89,89)" opacity="0.8"/>
<circle cx="134.0" cy="148.4" r="1.70" fill="rgb(89,89,89)" opacity="0.8"/>
<circle cx="130.0" cy="146.0" r="1.70" fill="rgb(89,89,89)" opacity="0.8"/>
<circle cx="126.2" cy="143.2" r="1.70" fill="rgb(89,89,89)" opacity="0.8"/>
<circle cx="122.6" cy="140.2" r="1.70" fill="rgb(89,89,89)" opacity="0.8"/>
<circle cx="119.3" cy="137.0" r="1.70" fill="rgb(89,89,89)" opacity="0.8"/>
<circle cx="116.3" cy="133.5" r="1.70" fill="rgb(89,89,89)" opacity="0.8"/>
<circle cx="113.5" cy="129.7" r="1.70" fill="rgb(89,89,89)" opacity="0.8"/>
<circle cx="111.1" cy="125.8" r="1.70" fill="rgb(89,89,89)" opacity="0.8"/>
<circle cx="109.0" cy="121.7" r="1.70" fill="rgb(89,89,89)" opacity="0.8"/>
<circle cx="107.2" cy="117.4" r="1.70" fill="rgb(88,88,88)" opacity="0.8"/>
<circle cx="105.7" cy="113.0" r="1.70" fill="rgb(88,88,88)" opacity="0.8"/>
<circle cx="104.6" cy="108.6" r="1.70" fill="rgb(88,88,88)" opacity="0.8"/>
<circle cx="103.8" cy="104.0" r="1.70" fill="rgb(88,88,88)" opacity="0.8"/>
<circle cx="103.4" cy="99.4" r="1.70" fill="rgb(88,88,88)" opacity="0.8"/>
<circle cx="103.4" cy="94.8" r="1.70" fill="rgb(88,88,88)" opacity="0.8"/>
<circle cx="103.7" cy="90.2" r="1.70" fill="rgb(88,88,88)" opacity="0.8"/>
<circle cx="104.4" cy="85.6" r="1.70" fill="rgb(87,87,87)" opacity="0.8"/>
<circle cx="105.4" cy="81.1" r="1.70" fill="rgb(87,87,87)" opacity="0.8"/>
<circle cx="106.8" cy="76.7" r="1.70" fill="rgb(87,87,87)" opacity="0.8"/>
<circle cx="108.6" cy="72.5" r="1.70" fill="rgb(87,87,87)" opacity="0.8"/>
<circle cx="110.6" cy="68.3" r="1.70" fill="rgb(87,87,87)" opacity="0.8"/>
<circle cx="113.0" cy="64.3" r="1.70" fill="rgb(86,86,86)" opacity="0.8"/>
<circle cx="115.7" cy="60.6" r="1.70" fill="rgb(86,86,86)" opacity="0.8"/>
<circle cx="118.7" cy="57.0" r="1.70" fill="rgb(86,86,86)" opacity="0.8"/>
<circle cx="122.0" cy="53.7" r="1.70" fill="rgb(86,86,86)" opacity="0.8"/>
<circle cx="125.5" cy="50.6" r="1.70" fill="rgb(85,85,85)" opacity="0.8"/>
<circle cx="129.2" cy="47.8" r="1.70" fill="rgb(85,85,85)" opacity="0.8"/>
<circle cx="133.1" cy="45.4" r="1.70" fill="rgb(85,85,85)" opacity="0.8"/>
<circle cx="137.3" cy="43.2" r="1.70" fill="rgb(85,85,85)" opacity="0.8"/>
<circle cx="141.6" cy="41.3" r="1.70" fill="rgb(84,84,84)" opacity="0.8"/>
<circle cx="146.0" cy="39.8" r="1.70" fill="rgb(84,84,84)" opacity="0.8"/>
<circle cx="150.5" cy="38.6" r="1.70" fill="rgb(84,84,84)" opacity="0.8"/>
<circle cx="155.1" cy="37.8" r="1.70" fill="rgb(84,84,84)" opacity="0.8"/>
<circle cx="159.8" cy="37.3" r="1.70" fill="rgb(84,84,84)" opacity="0.8"/>
<circle cx="164.5" cy="37.2" r="1.70" fill="rgb(83,83,83)" opacity="0.8"/>
<circle cx="169.1" cy="37.4" r="1.70" fill="rgb(83,83,83)" opacity="0.8"/>
<circle cx="173.8" cy="38.0" r="1.70" fill="rgb(83,83,83)" opacity="0.8"/>
<circle cx="178.4" cy="38.9" r="1.70" fill="rgb(83,83,83)" opacity="0.8"/>
<circle cx="182.9" cy="40.2" r="1.70" fill="rgb(83,83,83)" opacity="0.8"/>
<circle cx="187.2" cy="41.8" r="1.70" fill="rgb(83,83,83)" opacity="0.8"/>
<circle cx="191.5" cy="43.8" r="1.70" fill="rgb(83,83,83)" opacity="0.8"/>
<circle cx="195.6" cy="46.1" r="1.70" fill="rgb(83,83,83)" opacity="0.8"/>
<circle cx="199.4" cy="48.7" r="1.70" fill="rgb(82,82,82)" opacity="0.8"/>
<circle cx="203.1" cy="51.5" r="1.70" fill="rgb(82,82,82)" opacity="0.8"/>
<circle cx="206.5" cy="54.7" r="1.70" fill="rgb(82,82,82)" opacity="0.8"/>
<circle cx="209.7" cy="58.1" r="1.70" fill="rgb(82,82,82)" opacity="0.8"/>
<circle cx="212.6" cy="61.7" r="1.70" fill="rgb(82,82,82)" opacity="0.8"/>
<circle cx="215.2" cy="65.5" r="1.70" fill="rgb(83,83,83)" opacity="0.8"/>
<circle cx="217.5" cy="69.5" r="1.70" fill="rgb(83,83,83)" opacity="0.8"/>
<circle cx="219.5" cy="73.7" r="1.70" fill="rgb(83,83,83)" opacity="0.8"/>
<circle cx="221.1" cy="78.0" r="1.70" fill="rgb(83,83,83)" opacity="0.8"/>
<circle cx="222.4" cy="82.5" r="1.70" fill="rgb(83,83,83)" opacity="0.8"/>
<circle cx="223.4" cy="87.0" r="1.70" fill="rgb(83,83,83)" opacity="0.8"/>
<circle cx="223.9" cy="91.6" r="1.70" fill="rgb(83,83,83)" opacity="0.8"/>
<circle cx="224.1" cy="96.2" r="1.70" fill="rgb(83,83,83)" opacity="0.8"/>
<circle cx="224.0" cy="100.8" r="1.70" fill="rgb(84,84,84)" opacity="0.8"/>
<circle cx="223.5" cy="105.4" r="1.70" fill="rgb(84,84,84)" opacity="0.8"/>
<circle cx="157.8" cy="110.0" r="2.80" fill="url(#hole)"/>
<circle cx="152.9" cy="106.9" r="2.80" fill="url(#hole)"/>
<circle cx="149.6" cy="102.1" r="2.80" fill="url(#hole)"/>
<circle cx="148.3" cy="96.5" r="2.80" fill="url(#hole)"/>
<circle cx="149.3" cy="90.8" r="2.80" fill="url(#hole)"/>
<circle cx="152.5" cy="86.0" r="2.80" fill="url(#hole)"/>
<circle cx="157.3" cy="82.7" r="2.80" fill="url(#hole)"/>
<circle cx="163.0" cy="81.4" r="2.80" fill="url(#hole)"/>
<circle cx="168.8" cy="82.4" r="2.80" fill="url(#hole)"/>
<circle cx="173.7" cy="85.5" r="2.80" fill="url(#hole)"/>
<circle cx="177.0" cy="90.3" r="2.80" fill="url(#hole)"/>
<circle cx="178.3" cy="95.9" r="2.80" fill="url(#hole)"/>
<circle cx="177.3" cy="101.6" r="2.80" fill="url(#hole)"/>
<circle cx="174.1" cy="106.4" r="2.80" fill="url(#hole)"/>
<circle cx="169.3" cy="109.7" r="2.80" fill="url(#hole)"/>
<circle cx="163.6" cy="111.0" r="2.80" fill="url(#hole)"/>
<circle cx="176.6" cy="112.9" r="2.95" fill="url(#hole)"/>
<circle cx="171.6" cy="115.9" r="2.95" fill="url(#hole)"/>
<circle cx="165.9" cy="117.3" r="2.95" fill="url(#hole)"/>
<circle cx="160.0" cy="117.2" r="2.95" fill="url(#hole)"/>
<circle cx="154.4" cy="115.6" r="2.95" fill="url(#hole)"/>
<circle cx="149.4" cy="112.5" r="2.95" fill="url(#hole)"/>
<circle cx="145.4" cy="108.2" r="2.95" fill="url(#hole)"/>
<circle cx="142.8" cy="103.0" r="2.95" fill="url(#hole)"/>
<circle cx="141.7" cy="97.3" r="2.95" fill="url(#hole)"/>
<circle cx="142.2" cy="91.5" r="2.95" fill="url(#hole)"/>
<circle cx="144.3" cy="86.1" r="2.95" fill="url(#hole)"/>
<circle cx="147.8" cy="81.4" r="2.95" fill="url(#hole)"/>
<circle cx="152.4" cy="77.8" r="2.95" fill="url(#hole)"/>
<circle cx="157.8" cy="75.6" r="2.95" fill="url(#hole)"/>
<circle cx="163.7" cy="74.9" r="2.95" fill="url(#hole)"/>
<circle cx="169.5" cy="75.8" r="2.95" fill="url(#hole)"/>
<circle cx="174.8" cy="78.2" r="2.95" fill="url(#hole)"/>
<circle cx="179.3" cy="81.9" r="2.95" fill="url(#hole)"/>
<circle cx="182.6" cy="86.7" r="2.95" fill="url(#hole)"/>
<circle cx="184.5" cy="92.2" r="2.95" fill="url(#hole)"/>
<circle cx="184.8" cy="98.0" r="2.95" fill="url(#hole)"/>
<circle cx="183.5" cy="103.7" r="2.95" fill="url(#hole)"/>
<circle cx="180.7" cy="108.8" r="2.95" fill="url(#hole)"/>
<circle cx="142.9" cy="77.0" r="3.00" fill="url(#hole)"/>
<circle cx="147.4" cy="73.2" r="3.00" fill="url(#hole)"/>
<circle cx="152.6" cy="70.5" r="3.00" fill="url(#hole)"/>
<circle cx="158.3" cy="68.9" r="3.00" fill="url(#hole)"/>
<circle cx="164.2" cy="68.4" r="3.00" fill="url(#hole)"/>
<circle cx="170.0" cy="69.2" r="3.00" fill="url(#hole)"/>
<circle cx="175.6" cy="71.2" r="3.00" fill="url(#hole)"/>
<circle cx="180.6" cy="74.2" r="3.00" fill="url(#hole)"/>
<circle cx="184.8" cy="78.3" r="3.00" fill="url(#hole)"/>
<circle cx="188.1" cy="83.1" r="3.00" fill="url(#hole)"/>
<circle cx="190.4" cy="88.4" r="3.00" fill="url(#hole)"/>
<circle cx="191.4" cy="94.2" r="3.00" fill="url(#hole)"/>
<circle cx="191.2" cy="100.0" r="3.00" fill="url(#hole)"/>
<circle cx="189.8" cy="105.6" r="3.00" fill="url(#hole)"/>
<circle cx="187.3" cy="110.8" r="3.00" fill="url(#hole)"/>
<circle cx="183.7" cy="115.4" r="3.00" fill="url(#hole)"/>
<circle cx="179.2" cy="119.2" r="3.00" fill="url(#hole)"/>
<circle cx="174.0" cy="121.9" r="3.00" fill="url(#hole)"/>
<circle cx="168.3" cy="123.5" r="3.00" fill="url(#hole)"/>
<circle cx="162.4" cy="124.0" r="3.00" fill="url(#hole)"/>
<circle cx="156.6" cy="123.2" r="3.00" fill="url(#hole)"/>
<circle cx="151.0" cy="121.2" r="3.00" fill="url(#hole)"/>
<circle cx="146.0" cy="118.2" r="3.00" fill="url(#hole)"/>
<circle cx="141.8" cy="114.1" r="3.00" fill="url(#hole)"/>
<circle cx="138.5" cy="109.3" r="3.00" fill="url(#hole)"/>
<circle cx="136.2" cy="104.0" r="3.00" fill="url(#hole)"/>
<circle cx="135.2" cy="98.2" r="3.00" fill="url(#hole)"/>
<circle cx="135.4" cy="92.4" r="3.00" fill="url(#hole)"/>
<circle cx="136.8" cy="86.8" r="3.00" fill="url(#hole)"/>
<circle cx="139.3" cy="81.6" r="3.00" fill="url(#hole)"/>
<circle cx="194.7" cy="110.6" r="3.00" fill="url(#hole)"/>
<circle cx="191.7" cy="115.7" r="3.00" fill="url(#hole)"/>
<circle cx="187.8" cy="120.3" r="3.00" fill="url(#hole)"/>
<circle cx="183.2" cy="124.1" r="3.00" fill="url(#hole)"/>
<circle cx="178.0" cy="127.1" r="3.00" fill="url(#hole)"/>
<circle cx="172.3" cy="129.1" r="3.00" fill="url(#hole)"/>
<circle cx="166.4" cy="130.1" r="3.00" fill="url(#hole)"/>
<circle cx="160.3" cy="130.2" r="3.00" fill="url(#hole)"/>
<circle cx="154.4" cy="129.1" r="3.00" fill="url(#hole)"/>
<circle cx="148.7" cy="127.1" r="3.00" fill="url(#hole)"/>
<circle cx="143.5" cy="124.2" r="3.00" fill="url(#hole)"/>
<circle cx="138.9" cy="120.3" r="3.00" fill="url(#hole)"/>
<circle cx="135.0" cy="115.8" r="3.00" fill="url(#hole)"/>
<circle cx="132.0" cy="110.7" r="3.00" fill="url(#hole)"/>
<circle cx="129.9" cy="105.1" r="3.00" fill="url(#hole)"/>
<circle cx="128.8" cy="99.2" r="3.00" fill="url(#hole)"/>
<circle cx="128.8" cy="93.3" r="3.00" fill="url(#hole)"/>
<circle cx="129.9" cy="87.4" r="3.00" fill="url(#hole)"/>
<circle cx="131.9" cy="81.8" r="3.00" fill="url(#hole)"/>
<circle cx="134.9" cy="76.7" r="3.00" fill="url(#hole)"/>
<circle cx="138.8" cy="72.1" r="3.00" fill="url(#hole)"/>
<circle cx="143.4" cy="68.3" r="3.00" fill="url(#hole)"/>
<circle cx="148.6" cy="65.3" r="3.00" fill="url(#hole)"/>
<circle cx="154.3" cy="63.3" r="3.00" fill="url(#hole)"/>
<circle cx="160.2" cy="62.3" r="3.00" fill="url(#hole)"/>
<circle cx="166.3" cy="62.2" r="3.00" fill="url(#hole)"/>
<circle cx="172.2" cy="63.3" r="3.00" fill="url(#hole)"/>
<circle cx="177.9" cy="65.3" r="3.00" fill="url(#hole)"/>
<circle cx="183.1" cy="68.2" r="3.00" fill="url(#hole)"/>
<circle cx="187.7" cy="72.1" r="3.00" fill="url(#hole)"/>
<circle cx="191.6" cy="76.6" r="3.00" fill="url(#hole)"/>
<circle cx="194.6" cy="81.7" r="3.00" fill="url(#hole)"/>
<circle cx="196.7" cy="87.3" r="3.00" fill="url(#hole)"/>
<circle cx="197.8" cy="93.2" r="3.00" fill="url(#hole)"/>
<circle cx="197.8" cy="99.1" r="3.00" fill="url(#hole)"/>
<circle cx="196.7" cy="105.0" r="3.00" fill="url(#hole)"/>
<circle cx="122.6" cy="93.2" r="2.85" fill="url(#hole)"/>
<circle cx="123.5" cy="87.4" r="2.85" fill="url(#hole)"/>
<circle cx="125.2" cy="81.8" r="2.85" fill="url(#hole)"/>
<circle cx="127.7" cy="76.5" r="2.85" fill="url(#hole)"/>
<circle cx="131.0" cy="71.6" r="2.85" fill="url(#hole)"/>
<circle cx="135.0" cy="67.3" r="2.85" fill="url(#hole)"/>
<circle cx="139.6" cy="63.5" r="2.85" fill="url(#hole)"/>
<circle cx="144.7" cy="60.4" r="2.85" fill="url(#hole)"/>
<circle cx="150.2" cy="58.2" r="2.85" fill="url(#hole)"/>
<circle cx="155.9" cy="56.7" r="2.85" fill="url(#hole)"/>
<circle cx="161.8" cy="56.0" r="2.85" fill="url(#hole)"/>
<circle cx="167.8" cy="56.3" r="2.85" fill="url(#hole)"/>
<circle cx="173.6" cy="57.3" r="2.85" fill="url(#hole)"/>
<circle cx="179.3" cy="59.2" r="2.85" fill="url(#hole)"/>
<circle cx="184.6" cy="61.9" r="2.85" fill="url(#hole)"/>
<circle cx="189.4" cy="65.3" r="2.85" fill="url(#hole)"/>
<circle cx="193.7" cy="69.4" r="2.85" fill="url(#hole)"/>
<circle cx="197.3" cy="74.0" r="2.85" fill="url(#hole)"/>
<circle cx="200.3" cy="79.2" r="2.85" fill="url(#hole)"/>
<circle cx="202.4" cy="84.6" r="2.85" fill="url(#hole)"/>
<circle cx="203.7" cy="90.4" r="2.85" fill="url(#hole)"/>
<circle cx="204.1" cy="96.2" r="2.85" fill="url(#hole)"/>
<circle cx="203.7" cy="102.1" r="2.85" fill="url(#hole)"/>
<circle cx="202.4" cy="107.8" r="2.85" fill="url(#hole)"/>
<circle cx="200.2" cy="113.3" r="2.85" fill="url(#hole)"/>
<circle cx="197.3" cy="118.4" r="2.85" fill="url(#hole)"/>
<circle cx="193.7" cy="123.0" r="2.85" fill="url(#hole)"/>
<circle cx="189.4" cy="127.1" r="2.85" fill="url(#hole)"/>
<circle cx="184.5" cy="130.5" r="2.85" fill="url(#hole)"/>
<circle cx="179.2" cy="133.2" r="2.85" fill="url(#hole)"/>
<circle cx="173.6" cy="135.1" r="2.85" fill="url(#hole)"/>
<circle cx="167.7" cy="136.1" r="2.85" fill="url(#hole)"/>
<circle cx="161.8" cy="136.4" r="2.85" fill="url(#hole)"/>
<circle cx="155.9" cy="135.7" r="2.85" fill="url(#hole)"/>
<circle cx="150.1" cy="134.2" r="2.85" fill="url(#hole)"/>
<circle cx="144.6" cy="131.9" r="2.85" fill="url(#hole)"/>
<circle cx="139.5" cy="128.9" r="2.85" fill="url(#hole)"/>
<circle cx="135.0" cy="125.1" r="2.85" fill="url(#hole)"/>
<circle cx="131.0" cy="120.7" r="2.85" fill="url(#hole)"/>
<circle cx="127.7" cy="115.8" r="2.85" fill="url(#hole)"/>
<circle cx="125.2" cy="110.5" r="2.85" fill="url(#hole)"/>
<circle cx="123.5" cy="104.9" r="2.85" fill="url(#hole)"/>
<circle cx="122.6" cy="99.1" r="2.85" fill="url(#hole)"/>
<circle cx="136.0" cy="133.5" r="2.55" fill="url(#hole)"/>
<circle cx="131.6" cy="130.0" r="2.55" fill="url(#hole)"/>
<circle cx="127.6" cy="125.9" r="2.55" fill="url(#hole)"/>
<circle cx="124.2" cy="121.3" r="2.55" fill="url(#hole)"/>
<circle cx="121.3" cy="116.4" r="2.55" fill="url(#hole)"/>
<circle cx="119.1" cy="111.2" r="2.55" fill="url(#hole)"/>
<circle cx="117.6" cy="105.7" r="2.55" fill="url(#hole)"/>
<circle cx="116.8" cy="100.1" r="2.55" fill="url(#hole)"/>
<circle cx="116.6" cy="94.4" r="2.55" fill="url(#hole)"/>
<circle cx="117.2" cy="88.8" r="2.55" fill="url(#hole)"/>
<circle cx="118.5" cy="83.3" r="2.55" fill="url(#hole)"/>
<circle cx="120.4" cy="78.0" r="2.55" fill="url(#hole)"/>
<circle cx="123.0" cy="72.9" r="2.55" fill="url(#hole)"/>
<circle cx="126.2" cy="68.2" r="2.55" fill="url(#hole)"/>
<circle cx="130.0" cy="63.9" r="2.55" fill="url(#hole)"/>
<circle cx="134.3" cy="60.2" r="2.55" fill="url(#hole)"/>
<circle cx="139.0" cy="56.9" r="2.55" fill="url(#hole)"/>
<circle cx="144.1" cy="54.3" r="2.55" fill="url(#hole)"/>
<circle cx="149.5" cy="52.3" r="2.55" fill="url(#hole)"/>
<circle cx="155.1" cy="50.9" r="2.55" fill="url(#hole)"/>
<circle cx="160.8" cy="50.3" r="2.55" fill="url(#hole)"/>
<circle cx="166.5" cy="50.3" r="2.55" fill="url(#hole)"/>
<circle cx="172.2" cy="51.0" r="2.55" fill="url(#hole)"/>
<circle cx="177.8" cy="52.5" r="2.55" fill="url(#hole)"/>
<circle cx="183.1" cy="54.6" r="2.55" fill="url(#hole)"/>
<circle cx="188.2" cy="57.3" r="2.55" fill="url(#hole)"/>
<circle cx="192.8" cy="60.6" r="2.55" fill="url(#hole)"/>
<circle cx="197.1" cy="64.4" r="2.55" fill="url(#hole)"/>
<circle cx="200.8" cy="68.7" r="2.55" fill="url(#hole)"/>
<circle cx="203.9" cy="73.5" r="2.55" fill="url(#hole)"/>
<circle cx="206.4" cy="78.6" r="2.55" fill="url(#hole)"/>
<circle cx="208.3" cy="83.9" r="2.55" fill="url(#hole)"/>
<circle cx="209.5" cy="89.5" r="2.55" fill="url(#hole)"/>
<circle cx="210.0" cy="95.1" r="2.55" fill="url(#hole)"/>
<circle cx="209.8" cy="100.8" r="2.55" fill="url(#hole)"/>
<circle cx="208.8" cy="106.4" r="2.55" fill="url(#hole)"/>
<circle cx="207.2" cy="111.8" r="2.55" fill="url(#hole)"/>
<circle cx="205.0" cy="117.0" r="2.55" fill="url(#hole)"/>
<circle cx="202.0" cy="121.9" r="2.55" fill="url(#hole)"/>
<circle cx="198.5" cy="126.4" r="2.55" fill="url(#hole)"/>
<circle cx="194.5" cy="130.4" r="2.55" fill="url(#hole)"/>
<circle cx="190.0" cy="133.9" r="2.55" fill="url(#hole)"/>
<circle cx="185.1" cy="136.9" r="2.55" fill="url(#hole)"/>
<circle cx="179.8" cy="139.2" r="2.55" fill="url(#hole)"/>
<circle cx="174.4" cy="140.9" r="2.55" fill="url(#hole)"/>
<circle cx="168.7" cy="141.9" r="2.55" fill="url(#hole)"/>
<circle cx="163.0" cy="142.2" r="2.55" fill="url(#hole)"/>
<circle cx="157.2" cy="141.8" r="2.55" fill="url(#hole)"/>
<circle cx="151.6" cy="140.7" r="2.55" fill="url(#hole)"/>
<circle cx="146.1" cy="139.0" r="2.55" fill="url(#hole)"/>
<circle cx="140.9" cy="136.6" r="2.55" fill="url(#hole)"/>
<circle cx="212.2" cy="113.7" r="2.20" fill="rgb(18,18,18)"/>
<circle cx="210.1" cy="118.5" r="2.20" fill="rgb(18,18,18)"/>
<circle cx="207.5" cy="123.1" r="2.20" fill="rgb(18,18,18)"/>
<circle cx="204.5" cy="127.5" r="2.20" fill="rgb(18,18,18)"/>
<circle cx="201.0" cy="131.5" r="2.20" fill="rgb(18,18,18)"/>
<circle cx="197.1" cy="135.1" r="2.20" fill="rgb(18,18,18)"/>
<circle cx="192.9" cy="138.3" r="2.20" fill="rgb(18,18,18)"/>
<circle cx="188.3" cy="141.1" r="2.20" fill="rgb(18,18,18)"/>
<circle cx="183.5" cy="143.4" r="2.20" fill="rgb(18,18,18)"/>
<circle cx="178.5" cy="145.2" r="2.20" fill="rgb(18,18,18)"/>
<circle cx="173.3" cy="146.5" r="2.20" fill="rgb(18,18,18)"/>
<circle cx="168.0" cy="147.2" r="2.20" fill="rgb(18,18,18)"/>
<circle cx="162.6" cy="147.4" r="2.20" fill="rgb(18,18,18)"/>
<circle cx="157.3" cy="147.1" r="2.20" fill="rgb(18,18,18)"/>
<circle cx="152.0" cy="146.2" r="2.20" fill="rgb(18,18,18)"/>
<circle cx="146.8" cy="144.8" r="2.20" fill="rgb(18,18,18)"/>
<circle cx="141.8" cy="142.9" r="2.20" fill="rgb(18,18,18)"/>
<circle cx="137.1" cy="140.4" r="2.20" fill="rgb(18,18,18)"/>
<circle cx="132.6" cy="137.5" r="2.20" fill="rgb(18,18,18)"/>
<circle cx="128.5" cy="134.2" r="2.20" fill="rgb(18,18,18)"/>
<circle cx="124.7" cy="130.5" r="2.20" fill="rgb(18,18,18)"/>
<circle cx="121.3" cy="126.4" r="2.20" fill="rgb(18,18,18)"/>
<circle cx="118.4" cy="122.0" r="2.20" fill="rgb(18,18,18)"/>
<circle cx="115.9" cy="117.3" r="2.20" fill="rgb(18,18,18)"/>
<circle cx="114.0" cy="112.4" r="2.20" fill="rgb(18,18,18)"/>
<circle cx="112.5" cy="107.3" r="2.20" fill="rgb(18,18,18)"/>
<circle cx="111.6" cy="102.1" r="2.20" fill="rgb(18,18,18)"/>
<circle cx="111.3" cy="96.8" r="2.20" fill="rgb(18,18,18)"/>
<circle cx="111.5" cy="91.6" r="2.20" fill="rgb(18,18,18)"/>
<circle cx="112.3" cy="86.4" r="2.20" fill="rgb(18,18,18)"/>
<circle cx="113.6" cy="81.2" r="2.20" fill="rgb(18,18,18)"/>
<circle cx="115.4" cy="76.3" r="2.20" fill="rgb(18,18,18)"/>
<circle cx="117.7" cy="71.5" r="2.20" fill="rgb(18,18,18)"/>
<circle cx="120.5" cy="67.0" r="2.20" fill="rgb(18,18,18)"/>
<circle cx="123.8" cy="62.9" r="2.20" fill="rgb(18,18,18)"/>
<circle cx="127.5" cy="59.0" r="2.20" fill="rgb(18,18,18)"/>
<circle cx="131.6" cy="55.6" r="2.20" fill="rgb(18,18,18)"/>
<circle cx="136.0" cy="52.6" r="2.20" fill="rgb(18,18,18)"/>
<circle cx="140.7" cy="50.1" r="2.20" fill="rgb(18,18,18)"/>
<circle cx="145.6" cy="48.0" r="2.20" fill="rgb(18,18,18)"/>
<circle cx="150.7" cy="46.5" r="2.20" fill="rgb(18,18,18)"/>
<circle cx="156.0" cy="45.5" r="2.20" fill="rgb(18,18,18)"/>
<circle cx="161.3" cy="45.0" r="2.20" fill="rgb(18,18,18)"/>
<circle cx="166.7" cy="45.1" r="2.20" fill="rgb(18,18,18)"/>
<circle cx="172.0" cy="45.7" r="2.20" fill="rgb(18,18,18)"/>
<circle cx="177.2" cy="46.8" r="2.20" fill="rgb(18,18,18)"/>
<circle cx="182.3" cy="48.5" r="2.20" fill="rgb(18,18,18)"/>
<circle cx="187.2" cy="50.7" r="2.20" fill="rgb(18,18,18)"/>
<circle cx="191.8" cy="53.3" r="2.20" fill="rgb(18,18,18)"/>
<circle cx="196.1" cy="56.5" r="2.20" fill="rgb(18,18,18)"/>
<circle cx="200.1" cy="60.0" r="2.20" fill="rgb(18,18,18)"/>
<circle cx="203.7" cy="63.9" r="2.20" fill="rgb(18,18,18)"/>
<circle cx="206.8" cy="68.2" r="2.20" fill="rgb(18,18,18)"/>
<circle cx="209.5" cy="72.7" r="2.20" fill="rgb(18,18,18)"/>
<circle cx="211.7" cy="77.5" r="2.20" fill="rgb(18,18,18)"/>
<circle cx="213.4" cy="82.5" r="2.20" fill="rgb(18,18,18)"/>
<circle cx="214.6" cy="87.7" r="2.20" fill="rgb(18,18,18)"/>
<circle cx="215.2" cy="92.9" r="2.20" fill="rgb(18,18,18)"/>
<circle cx="215.3" cy="98.2" r="2.20" fill="rgb(18,18,18)"/>
<circle cx="214.8" cy="103.4" r="2.20" fill="rgb(18,18,18)"/>
<circle cx="213.7" cy="108.6" r="2.20" fill="rgb(18,18,18)"/>
<circle cx="107.0" cy="101.6" r="1.80" fill="rgb(20,20,20)"/>
<circle cx="106.7" cy="96.7" r="1.80" fill="rgb(20,20,20)"/>
<circle cx="106.9" cy="91.7" r="1.80" fill="rgb(20,20,20)"/>
<circle cx="107.5" cy="86.8" r="1.80" fill="rgb(20,20,20)"/>
<circle cx="108.6" cy="82.0" r="1.80" fill="rgb(20,20,20)"/>
<circle cx="110.0" cy="77.3" r="1.80" fill="rgb(20,20,20)"/>
<circle cx="111.9" cy="72.8" r="1.80" fill="rgb(20,20,20)"/>
<circle cx="114.3" cy="68.4" r="1.80" fill="rgb(20,20,20)"/>
<circle cx="116.9" cy="64.2" r="1.80" fill="rgb(20,20,20)"/>
<circle cx="120.0" cy="60.3" r="1.80" fill="rgb(20,20,20)"/>
<circle cx="123.4" cy="56.7" r="1.80" fill="rgb(20,20,20)"/>
<circle cx="127.1" cy="53.4" r="1.80" fill="rgb(20,20,20)"/>
<circle cx="131.1" cy="50.4" r="1.80" fill="rgb(20,20,20)"/>
<circle cx="135.3" cy="47.7" r="1.80" fill="rgb(20,20,20)"/>
<circle cx="139.8" cy="45.5" r="1.80" fill="rgb(20,20,20)"/>
<circle cx="144.4" cy="43.6" r="1.80" fill="rgb(20,20,20)"/>
<circle cx="149.2" cy="42.2" r="1.80" fill="rgb(20,20,20)"/>
<circle cx="154.1" cy="41.2" r="1.80" fill="rgb(20,20,20)"/>
<circle cx="159.1" cy="40.6" r="1.80" fill="rgb(20,20,20)"/>
<circle cx="164.1" cy="40.5" r="1.80" fill="rgb(20,20,20)"/>
<circle cx="169.1" cy="40.7" r="1.80" fill="rgb(20,20,20)"/>
<circle cx="174.0" cy="41.5" r="1.80" fill="rgb(20,20,20)"/>
<circle cx="178.9" cy="42.6" r="1.80" fill="rgb(20,20,20)"/>
<circle cx="183.6" cy="44.2" r="1.80" fill="rgb(20,20,20)"/>
<circle cx="188.2" cy="46.1" r="1.80" fill="rgb(20,20,20)"/>
<circle cx="192.6" cy="48.5" r="1.80" fill="rgb(20,20,20)"/>
<circle cx="196.8" cy="51.3" r="1.80" fill="rgb(20,20,20)"/>
<circle cx="200.7" cy="54.3" r="1.80" fill="rgb(20,20,20)"/>
<circle cx="204.3" cy="57.8" r="1.80" fill="rgb(20,20,20)"/>
<circle cx="207.6" cy="61.5" r="1.80" fill="rgb(20,20,20)"/>
<circle cx="210.5" cy="65.5" r="1.80" fill="rgb(20,20,20)"/>
<circle cx="213.1" cy="69.7" r="1.80" fill="rgb(20,20,20)"/>
<circle cx="215.3" cy="74.1" r="1.80" fill="rgb(20,20,20)"/>
<circle cx="217.1" cy="78.8" r="1.80" fill="rgb(20,20,20)"/>
<circle cx="218.4" cy="83.5" r="1.80" fill="rgb(20,20,20)"/>
<circle cx="219.3" cy="88.4" r="1.80" fill="rgb(20,20,20)"/>
<circle cx="219.8" cy="93.3" r="1.80" fill="rgb(20,20,20)"/>
<circle cx="219.9" cy="98.2" r="1.80" fill="rgb(20,20,20)"/>
<circle cx="219.5" cy="103.1" r="1.80" fill="rgb(20,20,20)"/>
<circle cx="218.6" cy="108.0" r="1.80" fill="rgb(20,20,20)"/>
<circle cx="217.4" cy="112.7" r="1.80" fill="rgb(20,20,20)"/>
<circle cx="215.7" cy="117.4" r="1.80" fill="rgb(20,20,20)"/>
<circle cx="213.5" cy="121.9" r="1.80" fill="rgb(20,20,20)"/>
<circle cx="211.1" cy="126.1" r="1.80" fill="rgb(20,20,20)"/>
<circle cx="208.2" cy="130.2" r="1.80" fill="rgb(20,20,20)"/>
<circle cx="205.0" cy="133.9" r="1.80" fill="rgb(20,20,20)"/>
<circle cx="201.4" cy="137.4" r="1.80" fill="rgb(20,20,20)"/>
<circle cx="197.6" cy="140.6" r="1.80" fill="rgb(20,20,20)"/>
<circle cx="193.4" cy="143.4" r="1.80" fill="rgb(20,20,20)"/>
<circle cx="189.1" cy="145.8" r="1.80" fill="rgb(20,20,20)"/>
<circle cx="184.5" cy="147.9" r="1.80" fill="rgb(20,20,20)"/>
<circle cx="179.8" cy="149.5" r="1.80" fill="rgb(20,20,20)"/>
<circle cx="175.0" cy="150.8" r="1.80" fill="rgb(20,20,20)"/>
<circle cx="170.0" cy="151.6" r="1.80" fill="rgb(20,20,20)"/>
<circle cx="165.0" cy="151.9" r="1.80" fill="rgb(20,20,20)"/>
<circle cx="160.0" cy="151.9" r="1.80" fill="rgb(20,20,20)"/>
<circle cx="155.0" cy="151.4" r="1.80" fill="rgb(20,20,20)"/>
<circle cx="150.1" cy="150.4" r="1.80" fill="rgb(20,20,20)"/>
<circle cx="145.3" cy="149.1" r="1.80" fill="rgb(20,20,20)"/>
<circle cx="140.6" cy="147.3" r="1.80" fill="rgb(20,20,20)"/>
<circle cx="136.1" cy="145.1" r="1.80" fill="rgb(20,20,20)"/>
<circle cx="131.9" cy="142.6" r="1.80" fill="rgb(20,20,20)"/>
<circle cx="127.8" cy="139.6" r="1.80" fill="rgb(20,20,20)"/>
<circle cx="124.1" cy="136.4" r="1.80" fill="rgb(20,20,20)"/>
<circle cx="120.6" cy="132.8" r="1.80" fill="rgb(20,20,20)"/>
<circle cx="117.5" cy="129.0" r="1.80" fill="rgb(20,20,20)"/>
<circle cx="114.7" cy="124.8" r="1.80" fill="rgb(20,20,20)"/>
<circle cx="112.4" cy="120.5" r="1.80" fill="rgb(20,20,20)"/>
<circle cx="110.4" cy="116.0" r="1.80" fill="rgb(20,20,20)"/>
<circle cx="108.8" cy="111.3" r="1.80" fill="rgb(20,20,20)"/>
<circle cx="107.7" cy="106.5" r="1.80" fill="rgb(20,20,20)"/>
<circle cx="222.2" cy="109.5" r="1.35" fill="rgb(24,24,24)"/>
<circle cx="221.0" cy="113.9" r="1.35" fill="rgb(24,24,24)"/>
<circle cx="219.4" cy="118.3" r="1.35" fill="rgb(24,24,24)"/>
<circle cx="217.5" cy="122.5" r="1.35" fill="rgb(24,24,24)"/>
<circle cx="215.3" cy="126.5" r="1.35" fill="rgb(24,24,24)"/>
<circle cx="212.7" cy="130.4" r="1.35" fill="rgb(24,24,24)"/>
<circle cx="209.9" cy="134.1" r="1.35" fill="rgb(24,24,24)"/>
<circle cx="206.7" cy="137.5" r="1.35" fill="rgb(24,24,24)"/>
<circle cx="203.4" cy="140.7" r="1.35" fill="rgb(24,24,24)"/>
<circle cx="199.7" cy="143.6" r="1.35" fill="rgb(24,24,24)"/>
<circle cx="195.9" cy="146.3" r="1.35" fill="rgb(24,24,24)"/>
<circle cx="191.9" cy="148.6" r="1.35" fill="rgb(24,24,24)"/>
<circle cx="187.7" cy="150.6" r="1.35" fill="rgb(24,24,24)"/>
<circle cx="183.3" cy="152.3" r="1.35" fill="rgb(24,24,24)"/>
<circle cx="178.8" cy="153.7" r="1.35" fill="rgb(24,24,24)"/>
<circle cx="174.2" cy="154.7" r="1.35" fill="rgb(24,24,24)"/>
<circle cx="169.6" cy="155.4" r="1.35" fill="rgb(24,24,24)"/>
<circle cx="164.9" cy="155.7" r="1.35" fill="rgb(24,24,24)"/>
<circle cx="160.3" cy="155.6" r="1.35" fill="rgb(24,24,24)"/>
<circle cx="155.6" cy="155.2" r="1.35" fill="rgb(24,24,24)"/>
<circle cx="151.0" cy="154.4" r="1.35" fill="rgb(24,24,24)"/>
<circle cx="146.4" cy="153.3" r="1.35" fill="rgb(24,24,24)"/>
<circle cx="142.0" cy="151.9" r="1.35" fill="rgb(24,24,24)"/>
<circle cx="137.7" cy="150.1" r="1.35" fill="rgb(24,24,24)"/>
<circle cx="133.5" cy="148.0" r="1.35" fill="rgb(24,24,24)"/>
<circle cx="129.5" cy="145.5" r="1.35" fill="rgb(24,24,24)"/>
<circle cx="125.7" cy="142.8" r="1.35" fill="rgb(24,24,24)"/>
<circle cx="122.2" cy="139.8" r="1.35" fill="rgb(24,24,24)"/>
<circle cx="118.9" cy="136.5" r="1.35" fill="rgb(24,24,24)"/>
<circle cx="115.8" cy="133.0" r="1.35" fill="rgb(24,24,24)"/>
<circle cx="113.1" cy="129.3" r="1.35" fill="rgb(24,24,24)"/>
<circle cx="110.6" cy="125.3" r="1.35" fill="rgb(24,24,24)"/>
<circle cx="108.5" cy="121.2" r="1.35" fill="rgb(24,24,24)"/>
<circle cx="106.7" cy="117.0" r="1.35" fill="rgb(24,24,24)"/>
<circle cx="105.2" cy="112.6" r="1.35" fill="rgb(24,24,24)"/>
<circle cx="104.1" cy="108.1" r="1.35" fill="rgb(24,24,24)"/>
<circle cx="103.4" cy="103.6" r="1.35" fill="rgb(24,24,24)"/>
<circle cx="103.0" cy="99.0" r="1.35" fill="rgb(24,24,24)"/>
<circle cx="102.9" cy="94.4" r="1.35" fill="rgb(24,24,24)"/>
<circle cx="103.3" cy="89.8" r="1.35" fill="rgb(24,24,24)"/>
<circle cx="103.9" cy="85.2" r="1.35" fill="rgb(24,24,24)"/>
<circle cx="105.0" cy="80.7" r="1.35" fill="rgb(24,24,24)"/>
<circle cx="106.4" cy="76.3" r="1.35" fill="rgb(24,24,24)"/>
<circle cx="108.1" cy="72.0" r="1.35" fill="rgb(24,24,24)"/>
<circle cx="110.2" cy="67.9" r="1.35" fill="rgb(24,24,24)"/>
<circle cx="112.6" cy="63.9" r="1.35" fill="rgb(24,24,24)"/>
<circle cx="115.3" cy="60.1" r="1.35" fill="rgb(24,24,24)"/>
<circle cx="118.3" cy="56.6" r="1.35" fill="rgb(24,24,24)"/>
<circle cx="121.5" cy="53.2" r="1.35" fill="rgb(24,24,24)"/>
<circle cx="125.0" cy="50.2" r="1.35" fill="rgb(24,24,24)"/>
<circle cx="128.8" cy="47.4" r="1.35" fill="rgb(24,24,24)"/>
<circle cx="132.7" cy="44.9" r="1.35" fill="rgb(24,24,24)"/>
<circle cx="136.8" cy="42.7" r="1.35" fill="rgb(24,24,24)"/>
<circle cx="141.1" cy="40.9" r="1.35" fill="rgb(24,24,24)"/>
<circle cx="145.5" cy="39.3" r="1.35" fill="rgb(24,24,24)"/>
<circle cx="150.1" cy="38.2" r="1.35" fill="rgb(24,24,24)"/>
<circle cx="154.7" cy="37.3" r="1.35" fill="rgb(24,24,24)"/>
<circle cx="159.3" cy="36.8" r="1.35" fill="rgb(24,24,24)"/>
<circle cx="164.0" cy="36.7" r="1.35" fill="rgb(24,24,24)"/>
<circle cx="168.7" cy="36.9" r="1.35" fill="rgb(24,24,24)"/>
<circle cx="173.3" cy="37.5" r="1.35" fill="rgb(24,24,24)"/>
<circle cx="177.9" cy="38.5" r="1.35" fill="rgb(24,24,24)"/>
<circle cx="182.4" cy="39.8" r="1.35" fill="rgb(24,24,24)"/>
<circle cx="186.8" cy="41.4" r="1.35" fill="rgb(24,24,24)"/>
<circle cx="191.0" cy="43.3" r="1.35" fill="rgb(24,24,24)"/>
<circle cx="195.1" cy="45.6" r="1.35" fill="rgb(24,24,24)"/>
<circle cx="199.0" cy="48.2" r="1.35" fill="rgb(24,24,24)"/>
<circle cx="202.7" cy="51.1" r="1.35" fill="rgb(24,24,24)"/>
<circle cx="206.1" cy="54.2" r="1.35" fill="rgb(24,24,24)"/>
<circle cx="209.3" cy="57.6" r="1.35" fill="rgb(24,24,24)"/>
<circle cx="212.2" cy="61.2" r="1.35" fill="rgb(24,24,24)"/>
<circle cx="214.8" cy="65.1" r="1.35" fill="rgb(24,24,24)"/>
<circle cx="217.1" cy="69.1" r="1.35" fill="rgb(24,24,24)"/>
<circle cx="219.0" cy="73.3" r="1.35" fill="rgb(24,24,24)"/>
<circle cx="220.7" cy="77.6" r="1.35" fill="rgb(24,24,24)"/>
<circle cx="222.0" cy="82.0" r="1.35" fill="rgb(24,24,24)"/>
<circle cx="222.9" cy="86.6" r="1.35" fill="rgb(24,24,24)"/>
<circle cx="223.5" cy="91.1" r="1.35" fill="rgb(24,24,24)"/>
<circle cx="223.7" cy="95.7" r="1.35" fill="rgb(24,24,24)"/>
<circle cx="223.6" cy="100.4" r="1.35" fill="rgb(24,24,24)"/>
<circle cx="223.0" cy="104.9" r="1.35" fill="rgb(24,24,24)"/>
</g>
<path d="M112.3 19.5q0.8 1.2 0.3 2.6" stroke="#8a8a8a" stroke-width="0.9" fill="none" filter="url(#b1)"/>
<path d="M153.70000000000002 96.7c0.3-4 2.5-7.5 6-9.2c3.2-1.5 7.2-1 9.8 1c2.6 2.2 3.9 5.2 3.6 8.6c-0.3 3.6-2.4 6.6-5.6 8.2c-3.2 1.5-7.2 1.2-10-0.9c-2.6-1.9-4-4.6-3.8-7.7z" fill="#343434" filter="url(#b1)"/>
<rect x="48" y="181.1" width="218" height="11" fill="#000"/>
<rect x="156.2" y="181.3" width="13" height="2.3" fill="#fff"/>
<text x="181" y="185.3" textLength="11.7" lengthAdjust="spacingAndGlyphs" style="font-family:'Liberation Mono',monospace;font-size:5.2px;font-weight:bold;fill:#fff;stroke:#fff;stroke-width:0.15px" xml:space="preserve">10µm</text>
<text x="199" y="185.3" textLength="13.8" lengthAdjust="spacingAndGlyphs" style="font-family:'Liberation Mono',monospace;font-size:5.2px;font-weight:bold;fill:#fff;stroke:#fff;stroke-width:0.15px" xml:space="preserve">JEOL</text>
<text x="233.5" y="185.3" textLength="28.8" lengthAdjust="spacingAndGlyphs" style="font-family:'Liberation Mono',monospace;font-size:5.2px;font-weight:bold;fill:#fff;stroke:#fff;stroke-width:0.15px" xml:space="preserve">11/21/2014</text>
<text x="109.3" y="190.5" textLength="13.9" lengthAdjust="spacingAndGlyphs" style="font-family:'Liberation Mono',monospace;font-size:5.2px;font-weight:bold;fill:#fff;stroke:#fff;stroke-width:0.15px" xml:space="preserve">X 700</text>
<text x="146.4" y="190.5" textLength="28.7" lengthAdjust="spacingAndGlyphs" style="font-family:'Liberation Mono',monospace;font-size:5.2px;font-weight:bold;fill:#fff;stroke:#fff;stroke-width:0.15px" xml:space="preserve">10.0kV LEI</text>
<text x="187.5" y="190.5" textLength="7.7" lengthAdjust="spacingAndGlyphs" style="font-family:'Liberation Mono',monospace;font-size:5.2px;font-weight:bold;fill:#fff;stroke:#fff;stroke-width:0.15px" xml:space="preserve">SEM</text>
<text x="212.8" y="190.5" textLength="49.5" lengthAdjust="spacingAndGlyphs" style="font-family:'Liberation Mono',monospace;font-size:5.2px;font-weight:bold;fill:#fff;stroke:#fff;stroke-width:0.15px" xml:space="preserve">WD 20.2mm 5:53:06</text>
</g>
<text x="5.5" y="19.5" font-size="17">(a)</text>
<g clip-path="url(#afmclip)">
<rect x="321" y="17" width="168" height="167" fill="#d4b62e"/>
<circle cx="414.0" cy="101.5" r="89" fill="#bcb42a" filter="url(#b3)"/>
<circle cx="414.0" cy="101.5" r="76" fill="#adab1e" filter="url(#b3)"/>
<circle cx="414.0" cy="101.5" r="15.5" fill="#d6b932" filter="url(#b2)"/>
<rect x="321" y="17" width="167" height="166" fill="#fff" filter="url(#afml)" opacity="0.55"/>
<rect x="321" y="17" width="167" height="166" fill="#fff" filter="url(#afmd)" opacity="0.5"/>
<g filter="url(#b1)">
<ellipse cx="395.6" cy="111.6" rx="2.30" ry="2.80" fill="#7a7a16" opacity="0.9"/>
<ellipse cx="392.7" cy="103.4" rx="2.30" ry="2.80" fill="#7a7a16" opacity="0.9"/>
<ellipse cx="393.5" cy="94.8" rx="2.30" ry="2.80" fill="#7a7a16" opacity="0.9"/>
<ellipse cx="397.9" cy="87.2" rx="2.30" ry="2.80" fill="#7a7a16" opacity="0.9"/>
<ellipse cx="405.0" cy="82.0" rx="2.30" ry="2.80" fill="#7a7a16" opacity="0.9"/>
<ellipse cx="413.7" cy="80.1" rx="2.30" ry="2.80" fill="#7a7a16" opacity="0.9"/>
<ellipse cx="422.4" cy="81.8" rx="2.30" ry="2.80" fill="#7a7a16" opacity="0.9"/>
<ellipse cx="429.7" cy="86.7" rx="2.30" ry="2.80" fill="#7a7a16" opacity="0.9"/>
<ellipse cx="434.3" cy="94.2" rx="2.30" ry="2.80" fill="#7a7a16" opacity="0.9"/>
<ellipse cx="435.3" cy="102.7" rx="2.30" ry="2.80" fill="#7a7a16" opacity="0.9"/>
<ellipse cx="432.7" cy="111.0" rx="2.30" ry="2.80" fill="#7a7a16" opacity="0.9"/>
<ellipse cx="426.9" cy="117.5" rx="2.30" ry="2.80" fill="#7a7a16" opacity="0.9"/>
<ellipse cx="418.8" cy="121.2" rx="2.30" ry="2.80" fill="#7a7a16" opacity="0.9"/>
<ellipse cx="409.9" cy="121.3" rx="2.30" ry="2.80" fill="#7a7a16" opacity="0.9"/>
<ellipse cx="401.7" cy="117.9" rx="2.30" ry="2.80" fill="#7a7a16" opacity="0.9"/>
<ellipse cx="442.2" cy="113.1" rx="3.00" ry="3.50" fill="#6c6c10" opacity="0.85"/>
<ellipse cx="442.2" cy="114.3" rx="2.81" ry="2.40" fill="url(#dot3)"/>
<ellipse cx="437.5" cy="120.3" rx="3.00" ry="3.50" fill="#6c6c10" opacity="0.85"/>
<ellipse cx="437.5" cy="121.5" rx="2.81" ry="2.40" fill="url(#dot3)"/>
<ellipse cx="430.9" cy="126.0" rx="3.00" ry="3.50" fill="#6c6c10" opacity="0.85"/>
<ellipse cx="430.9" cy="127.2" rx="2.81" ry="2.40" fill="url(#dot3)"/>
<ellipse cx="423.0" cy="129.6" rx="3.00" ry="3.50" fill="#6c6c10" opacity="0.85"/>
<ellipse cx="423.0" cy="130.8" rx="2.81" ry="2.40" fill="url(#dot3)"/>
<ellipse cx="414.3" cy="130.9" rx="3.00" ry="3.50" fill="#6c6c10" opacity="0.85"/>
<ellipse cx="414.3" cy="132.1" rx="2.81" ry="2.40" fill="url(#dot3)"/>
<ellipse cx="405.6" cy="129.8" rx="3.00" ry="3.50" fill="#6c6c10" opacity="0.85"/>
<ellipse cx="405.6" cy="131.0" rx="2.81" ry="2.40" fill="url(#dot3)"/>
<ellipse cx="397.5" cy="126.3" rx="3.00" ry="3.50" fill="#6c6c10" opacity="0.85"/>
<ellipse cx="397.5" cy="127.5" rx="2.81" ry="2.40" fill="url(#dot3)"/>
<ellipse cx="390.8" cy="120.8" rx="3.00" ry="3.50" fill="#6c6c10" opacity="0.85"/>
<ellipse cx="390.8" cy="122.0" rx="2.81" ry="2.40" fill="url(#dot3)"/>
<ellipse cx="386.0" cy="113.6" rx="3.00" ry="3.50" fill="#6c6c10" opacity="0.85"/>
<ellipse cx="386.0" cy="114.8" rx="2.81" ry="2.40" fill="url(#dot3)"/>
<ellipse cx="383.5" cy="105.4" rx="3.00" ry="3.50" fill="#6c6c10" opacity="0.85"/>
<ellipse cx="383.5" cy="106.6" rx="2.81" ry="2.40" fill="url(#dot3)"/>
<ellipse cx="383.4" cy="96.9" rx="3.00" ry="3.50" fill="#6c6c10" opacity="0.85"/>
<ellipse cx="383.4" cy="98.1" rx="2.81" ry="2.40" fill="url(#dot3)"/>
<ellipse cx="385.8" cy="88.7" rx="3.00" ry="3.50" fill="#6c6c10" opacity="0.85"/>
<ellipse cx="385.8" cy="89.9" rx="2.81" ry="2.40" fill="url(#dot3)"/>
<ellipse cx="390.5" cy="81.5" rx="3.00" ry="3.50" fill="#6c6c10" opacity="0.85"/>
<ellipse cx="390.5" cy="82.7" rx="2.81" ry="2.40" fill="url(#dot3)"/>
<ellipse cx="397.1" cy="75.8" rx="3.00" ry="3.50" fill="#6c6c10" opacity="0.85"/>
<ellipse cx="397.1" cy="77.0" rx="2.81" ry="2.40" fill="url(#dot3)"/>
<ellipse cx="405.0" cy="72.2" rx="3.00" ry="3.50" fill="#6c6c10" opacity="0.85"/>
<ellipse cx="405.0" cy="73.4" rx="2.81" ry="2.40" fill="url(#dot3)"/>
<ellipse cx="413.7" cy="70.9" rx="3.00" ry="3.50" fill="#6c6c10" opacity="0.85"/>
<ellipse cx="413.7" cy="72.1" rx="2.81" ry="2.40" fill="url(#dot3)"/>
<ellipse cx="422.4" cy="72.0" rx="3.00" ry="3.50" fill="#6c6c10" opacity="0.85"/>
<ellipse cx="422.4" cy="73.2" rx="2.81" ry="2.40" fill="url(#dot3)"/>
<ellipse cx="430.5" cy="75.5" rx="3.00" ry="3.50" fill="#6c6c10" opacity="0.85"/>
<ellipse cx="430.5" cy="76.7" rx="2.81" ry="2.40" fill="url(#dot3)"/>
<ellipse cx="437.2" cy="81.0" rx="3.00" ry="3.50" fill="#6c6c10" opacity="0.85"/>
<ellipse cx="437.2" cy="82.2" rx="2.81" ry="2.40" fill="url(#dot3)"/>
<ellipse cx="442.0" cy="88.2" rx="3.00" ry="3.50" fill="#6c6c10" opacity="0.85"/>
<ellipse cx="442.0" cy="89.4" rx="2.81" ry="2.40" fill="url(#dot3)"/>
<ellipse cx="444.5" cy="96.4" rx="3.00" ry="3.50" fill="#6c6c10" opacity="0.85"/>
<ellipse cx="444.5" cy="97.6" rx="2.81" ry="2.40" fill="url(#dot3)"/>
<ellipse cx="444.6" cy="104.9" rx="3.00" ry="3.50" fill="#6c6c10" opacity="0.85"/>
<ellipse cx="444.6" cy="106.1" rx="2.81" ry="2.40" fill="url(#dot3)"/>
<ellipse cx="448.5" cy="121.1" rx="3.80" ry="4.30" fill="#5e600a" opacity="0.85"/>
<ellipse cx="448.5" cy="122.1" rx="3.62" ry="3.42" fill="url(#dot)"/>
<ellipse cx="443.0" cy="128.1" rx="3.80" ry="4.30" fill="#5e600a" opacity="0.85"/>
<ellipse cx="443.0" cy="129.1" rx="3.62" ry="3.42" fill="url(#dot)"/>
<ellipse cx="436.0" cy="133.7" rx="3.80" ry="4.30" fill="#5e600a" opacity="0.85"/>
<ellipse cx="436.0" cy="134.6" rx="3.62" ry="3.42" fill="url(#dot)"/>
<ellipse cx="427.9" cy="137.6" rx="3.80" ry="4.30" fill="#5e600a" opacity="0.85"/>
<ellipse cx="427.9" cy="138.6" rx="3.62" ry="3.42" fill="url(#dot)"/>
<ellipse cx="419.2" cy="139.7" rx="3.80" ry="4.30" fill="#5e600a" opacity="0.85"/>
<ellipse cx="419.2" cy="140.7" rx="3.62" ry="3.42" fill="url(#dot)"/>
<ellipse cx="410.2" cy="139.8" rx="3.80" ry="4.30" fill="#5e600a" opacity="0.85"/>
<ellipse cx="410.2" cy="140.8" rx="3.62" ry="3.42" fill="url(#dot)"/>
<ellipse cx="401.3" cy="138.0" rx="3.80" ry="4.30" fill="#5e600a" opacity="0.85"/>
<ellipse cx="401.3" cy="139.0" rx="3.62" ry="3.42" fill="url(#dot)"/>
<ellipse cx="393.1" cy="134.4" rx="3.80" ry="4.30" fill="#5e600a" opacity="0.85"/>
<ellipse cx="393.1" cy="135.3" rx="3.62" ry="3.42" fill="url(#dot)"/>
<ellipse cx="386.0" cy="129.0" rx="3.80" ry="4.30" fill="#5e600a" opacity="0.85"/>
<ellipse cx="386.0" cy="130.0" rx="3.62" ry="3.42" fill="url(#dot)"/>
<ellipse cx="380.2" cy="122.3" rx="3.80" ry="4.30" fill="#5e600a" opacity="0.85"/>
<ellipse cx="380.2" cy="123.2" rx="3.62" ry="3.42" fill="url(#dot)"/>
<ellipse cx="376.2" cy="114.4" rx="3.80" ry="4.30" fill="#5e600a" opacity="0.85"/>
<ellipse cx="376.2" cy="115.4" rx="3.62" ry="3.42" fill="url(#dot)"/>
<ellipse cx="374.0" cy="105.9" rx="3.80" ry="4.30" fill="#5e600a" opacity="0.85"/>
<ellipse cx="374.0" cy="106.9" rx="3.62" ry="3.42" fill="url(#dot)"/>
<ellipse cx="373.9" cy="97.2" rx="3.80" ry="4.30" fill="#5e600a" opacity="0.85"/>
<ellipse cx="373.9" cy="98.2" rx="3.62" ry="3.42" fill="url(#dot)"/>
<ellipse cx="375.8" cy="88.6" rx="3.80" ry="4.30" fill="#5e600a" opacity="0.85"/>
<ellipse cx="375.8" cy="89.6" rx="3.62" ry="3.42" fill="url(#dot)"/>
<ellipse cx="379.5" cy="80.7" rx="3.80" ry="4.30" fill="#5e600a" opacity="0.85"/>
<ellipse cx="379.5" cy="81.6" rx="3.62" ry="3.42" fill="url(#dot)"/>
<ellipse cx="385.0" cy="73.7" rx="3.80" ry="4.30" fill="#5e600a" opacity="0.85"/>
<ellipse cx="385.0" cy="74.7" rx="3.62" ry="3.42" fill="url(#dot)"/>
<ellipse cx="392.0" cy="68.1" rx="3.80" ry="4.30" fill="#5e600a" opacity="0.85"/>
<ellipse cx="392.0" cy="69.1" rx="3.62" ry="3.42" fill="url(#dot)"/>
<ellipse cx="400.1" cy="64.2" rx="3.80" ry="4.30" fill="#5e600a" opacity="0.85"/>
<ellipse cx="400.1" cy="65.2" rx="3.62" ry="3.42" fill="url(#dot)"/>
<ellipse cx="408.8" cy="62.1" rx="3.80" ry="4.30" fill="#5e600a" opacity="0.85"/>
<ellipse cx="408.8" cy="63.1" rx="3.62" ry="3.42" fill="url(#dot)"/>
<ellipse cx="417.8" cy="62.0" rx="3.80" ry="4.30" fill="#5e600a" opacity="0.85"/>
<ellipse cx="417.8" cy="63.0" rx="3.62" ry="3.42" fill="url(#dot)"/>
<ellipse cx="426.7" cy="63.8" rx="3.80" ry="4.30" fill="#5e600a" opacity="0.85"/>
<ellipse cx="426.7" cy="64.8" rx="3.62" ry="3.42" fill="url(#dot)"/>
<ellipse cx="434.9" cy="67.4" rx="3.80" ry="4.30" fill="#5e600a" opacity="0.85"/>
<ellipse cx="434.9" cy="68.4" rx="3.62" ry="3.42" fill="url(#dot)"/>
<ellipse cx="442.0" cy="72.8" rx="3.80" ry="4.30" fill="#5e600a" opacity="0.85"/>
<ellipse cx="442.0" cy="73.8" rx="3.62" ry="3.42" fill="url(#dot)"/>
<ellipse cx="447.8" cy="79.5" rx="3.80" ry="4.30" fill="#5e600a" opacity="0.85"/>
<ellipse cx="447.8" cy="80.5" rx="3.62" ry="3.42" fill="url(#dot)"/>
<ellipse cx="451.8" cy="87.4" rx="3.80" ry="4.30" fill="#5e600a" opacity="0.85"/>
<ellipse cx="451.8" cy="88.3" rx="3.62" ry="3.42" fill="url(#dot)"/>
<ellipse cx="454.0" cy="95.9" rx="3.80" ry="4.30" fill="#5e600a" opacity="0.85"/>
<ellipse cx="454.0" cy="96.9" rx="3.62" ry="3.42" fill="url(#dot)"/>
<ellipse cx="454.1" cy="104.6" rx="3.80" ry="4.30" fill="#5e600a" opacity="0.85"/>
<ellipse cx="454.1" cy="105.6" rx="3.62" ry="3.42" fill="url(#dot)"/>
<ellipse cx="452.2" cy="113.2" rx="3.80" ry="4.30" fill="#5e600a" opacity="0.85"/>
<ellipse cx="452.2" cy="114.2" rx="3.62" ry="3.42" fill="url(#dot)"/>
<ellipse cx="372.8" cy="128.0" rx="3.90" ry="4.40" fill="#5c5e0a" opacity="0.85"/>
<ellipse cx="372.8" cy="128.9" rx="3.73" ry="3.59" fill="url(#dot)"/>
<ellipse cx="368.3" cy="120.1" rx="3.90" ry="4.40" fill="#5c5e0a" opacity="0.85"/>
<ellipse cx="368.3" cy="121.1" rx="3.73" ry="3.59" fill="url(#dot)"/>
<ellipse cx="365.5" cy="111.7" rx="3.90" ry="4.40" fill="#5c5e0a" opacity="0.85"/>
<ellipse cx="365.5" cy="112.6" rx="3.73" ry="3.59" fill="url(#dot)"/>
<ellipse cx="364.3" cy="102.8" rx="3.90" ry="4.40" fill="#5c5e0a" opacity="0.85"/>
<ellipse cx="364.3" cy="103.7" rx="3.73" ry="3.59" fill="url(#dot)"/>
<ellipse cx="364.7" cy="93.9" rx="3.90" ry="4.40" fill="#5c5e0a" opacity="0.85"/>
<ellipse cx="364.7" cy="94.8" rx="3.73" ry="3.59" fill="url(#dot)"/>
<ellipse cx="366.9" cy="85.3" rx="3.90" ry="4.40" fill="#5c5e0a" opacity="0.85"/>
<ellipse cx="366.9" cy="86.2" rx="3.73" ry="3.59" fill="url(#dot)"/>
<ellipse cx="370.7" cy="77.1" rx="3.90" ry="4.40" fill="#5c5e0a" opacity="0.85"/>
<ellipse cx="370.7" cy="78.0" rx="3.73" ry="3.59" fill="url(#dot)"/>
<ellipse cx="375.9" cy="69.8" rx="3.90" ry="4.40" fill="#5c5e0a" opacity="0.85"/>
<ellipse cx="375.9" cy="70.7" rx="3.73" ry="3.59" fill="url(#dot)"/>
<ellipse cx="382.4" cy="63.5" rx="3.90" ry="4.40" fill="#5c5e0a" opacity="0.85"/>
<ellipse cx="382.4" cy="64.5" rx="3.73" ry="3.59" fill="url(#dot)"/>
<ellipse cx="390.0" cy="58.6" rx="3.90" ry="4.40" fill="#5c5e0a" opacity="0.85"/>
<ellipse cx="390.0" cy="59.5" rx="3.73" ry="3.59" fill="url(#dot)"/>
<ellipse cx="398.5" cy="55.0" rx="3.90" ry="4.40" fill="#5c5e0a" opacity="0.85"/>
<ellipse cx="398.5" cy="55.9" rx="3.73" ry="3.59" fill="url(#dot)"/>
<ellipse cx="407.4" cy="53.0" rx="3.90" ry="4.40" fill="#5c5e0a" opacity="0.85"/>
<ellipse cx="407.4" cy="53.9" rx="3.73" ry="3.59" fill="url(#dot)"/>
<ellipse cx="416.6" cy="52.7" rx="3.90" ry="4.40" fill="#5c5e0a" opacity="0.85"/>
<ellipse cx="416.6" cy="53.6" rx="3.73" ry="3.59" fill="url(#dot)"/>
<ellipse cx="425.7" cy="53.9" rx="3.90" ry="4.40" fill="#5c5e0a" opacity="0.85"/>
<ellipse cx="425.7" cy="54.9" rx="3.73" ry="3.59" fill="url(#dot)"/>
<ellipse cx="434.4" cy="56.8" rx="3.90" ry="4.40" fill="#5c5e0a" opacity="0.85"/>
<ellipse cx="434.4" cy="57.7" rx="3.73" ry="3.59" fill="url(#dot)"/>
<ellipse cx="442.4" cy="61.2" rx="3.90" ry="4.40" fill="#5c5e0a" opacity="0.85"/>
<ellipse cx="442.4" cy="62.1" rx="3.73" ry="3.59" fill="url(#dot)"/>
<ellipse cx="449.4" cy="66.9" rx="3.90" ry="4.40" fill="#5c5e0a" opacity="0.85"/>
<ellipse cx="449.4" cy="67.9" rx="3.73" ry="3.59" fill="url(#dot)"/>
<ellipse cx="455.2" cy="73.8" rx="3.90" ry="4.40" fill="#5c5e0a" opacity="0.85"/>
<ellipse cx="455.2" cy="74.8" rx="3.73" ry="3.59" fill="url(#dot)"/>
<ellipse cx="459.7" cy="81.7" rx="3.90" ry="4.40" fill="#5c5e0a" opacity="0.85"/>
<ellipse cx="459.7" cy="82.6" rx="3.73" ry="3.59" fill="url(#dot)"/>
<ellipse cx="462.5" cy="90.1" rx="3.90" ry="4.40" fill="#5c5e0a" opacity="0.85"/>
<ellipse cx="462.5" cy="91.0" rx="3.73" ry="3.59" fill="url(#dot)"/>
<ellipse cx="463.7" cy="99.0" rx="3.90" ry="4.40" fill="#5c5e0a" opacity="0.85"/>
<ellipse cx="463.7" cy="99.9" rx="3.73" ry="3.59" fill="url(#dot)"/>
<ellipse cx="463.3" cy="107.9" rx="3.90" ry="4.40" fill="#5c5e0a" opacity="0.85"/>
<ellipse cx="463.3" cy="108.8" rx="3.73" ry="3.59" fill="url(#dot)"/>
<ellipse cx="461.1" cy="116.5" rx="3.90" ry="4.40" fill="#5c5e0a" opacity="0.85"/>
<ellipse cx="461.1" cy="117.4" rx="3.73" ry="3.59" fill="url(#dot)"/>
<ellipse cx="457.3" cy="124.7" rx="3.90" ry="4.40" fill="#5c5e0a" opacity="0.85"/>
<ellipse cx="457.3" cy="125.6" rx="3.73" ry="3.59" fill="url(#dot)"/>
<ellipse cx="452.1" cy="132.0" rx="3.90" ry="4.40" fill="#5c5e0a" opacity="0.85"/>
<ellipse cx="452.1" cy="132.9" rx="3.73" ry="3.59" fill="url(#dot)"/>
<ellipse cx="445.6" cy="138.3" rx="3.90" ry="4.40" fill="#5c5e0a" opacity="0.85"/>
<ellipse cx="445.6" cy="139.2" rx="3.73" ry="3.59" fill="url(#dot)"/>
<ellipse cx="438.0" cy="143.2" rx="3.90" ry="4.40" fill="#5c5e0a" opacity="0.85"/>
<ellipse cx="438.0" cy="144.2" rx="3.73" ry="3.59" fill="url(#dot)"/>
<ellipse cx="429.5" cy="146.8" rx="3.90" ry="4.40" fill="#5c5e0a" opacity="0.85"/>
<ellipse cx="429.5" cy="147.7" rx="3.73" ry="3.59" fill="url(#dot)"/>
<ellipse cx="420.6" cy="148.8" rx="3.90" ry="4.40" fill="#5c5e0a" opacity="0.85"/>
<ellipse cx="420.6" cy="149.7" rx="3.73" ry="3.59" fill="url(#dot)"/>
<ellipse cx="411.4" cy="149.1" rx="3.90" ry="4.40" fill="#5c5e0a" opacity="0.85"/>
<ellipse cx="411.4" cy="150.1" rx="3.73" ry="3.59" fill="url(#dot)"/>
<ellipse cx="402.3" cy="147.9" rx="3.90" ry="4.40" fill="#5c5e0a" opacity="0.85"/>
<ellipse cx="402.3" cy="148.8" rx="3.73" ry="3.59" fill="url(#dot)"/>
<ellipse cx="393.6" cy="145.0" rx="3.90" ry="4.40" fill="#5c5e0a" opacity="0.85"/>
<ellipse cx="393.6" cy="145.9" rx="3.73" ry="3.59" fill="url(#dot)"/>
<ellipse cx="385.6" cy="140.6" rx="3.90" ry="4.40" fill="#5c5e0a" opacity="0.85"/>
<ellipse cx="385.6" cy="141.5" rx="3.73" ry="3.59" fill="url(#dot)"/>
<ellipse cx="378.6" cy="134.9" rx="3.90" ry="4.40" fill="#5c5e0a" opacity="0.85"/>
<ellipse cx="378.6" cy="135.8" rx="3.73" ry="3.59" fill="url(#dot)"/>
<ellipse cx="428.4" cy="45.9" rx="3.90" ry="4.40" fill="#5c5e0a" opacity="0.85"/>
<ellipse cx="428.4" cy="46.8" rx="3.73" ry="3.59" fill="url(#dot)"/>
<ellipse cx="437.1" cy="48.8" rx="3.90" ry="4.40" fill="#5c5e0a" opacity="0.85"/>
<ellipse cx="437.1" cy="49.7" rx="3.73" ry="3.59" fill="url(#dot)"/>
<ellipse cx="445.2" cy="52.9" rx="3.90" ry="4.40" fill="#5c5e0a" opacity="0.85"/>
<ellipse cx="445.2" cy="53.8" rx="3.73" ry="3.59" fill="url(#dot)"/>
<ellipse cx="452.5" cy="58.3" rx="3.90" ry="4.40" fill="#5c5e0a" opacity="0.85"/>
<ellipse cx="452.5" cy="59.2" rx="3.73" ry="3.59" fill="url(#dot)"/>
<ellipse cx="458.9" cy="64.6" rx="3.90" ry="4.40" fill="#5c5e0a" opacity="0.85"/>
<ellipse cx="458.9" cy="65.5" rx="3.73" ry="3.59" fill="url(#dot)"/>
<ellipse cx="464.2" cy="71.9" rx="3.90" ry="4.40" fill="#5c5e0a" opacity="0.85"/>
<ellipse cx="464.2" cy="72.8" rx="3.73" ry="3.59" fill="url(#dot)"/>
<ellipse cx="468.3" cy="79.9" rx="3.90" ry="4.40" fill="#5c5e0a" opacity="0.85"/>
<ellipse cx="468.3" cy="80.8" rx="3.73" ry="3.59" fill="url(#dot)"/>
<ellipse cx="471.0" cy="88.4" rx="3.90" ry="4.40" fill="#5c5e0a" opacity="0.85"/>
<ellipse cx="471.0" cy="89.3" rx="3.73" ry="3.59" fill="url(#dot)"/>
<ellipse cx="472.3" cy="97.2" rx="3.90" ry="4.40" fill="#5c5e0a" opacity="0.85"/>
<ellipse cx="472.3" cy="98.1" rx="3.73" ry="3.59" fill="url(#dot)"/>
<ellipse cx="472.2" cy="106.1" rx="3.90" ry="4.40" fill="#5c5e0a" opacity="0.85"/>
<ellipse cx="472.2" cy="107.0" rx="3.73" ry="3.59" fill="url(#dot)"/>
<ellipse cx="470.6" cy="114.9" rx="3.90" ry="4.40" fill="#5c5e0a" opacity="0.85"/>
<ellipse cx="470.6" cy="115.8" rx="3.73" ry="3.59" fill="url(#dot)"/>
<ellipse cx="467.7" cy="123.3" rx="3.90" ry="4.40" fill="#5c5e0a" opacity="0.85"/>
<ellipse cx="467.7" cy="124.2" rx="3.73" ry="3.59" fill="url(#dot)"/>
<ellipse cx="463.4" cy="131.2" rx="3.90" ry="4.40" fill="#5c5e0a" opacity="0.85"/>
<ellipse cx="463.4" cy="132.1" rx="3.73" ry="3.59" fill="url(#dot)"/>
<ellipse cx="457.9" cy="138.3" rx="3.90" ry="4.40" fill="#5c5e0a" opacity="0.85"/>
<ellipse cx="457.9" cy="139.2" rx="3.73" ry="3.59" fill="url(#dot)"/>
<ellipse cx="451.4" cy="144.5" rx="3.90" ry="4.40" fill="#5c5e0a" opacity="0.85"/>
<ellipse cx="451.4" cy="145.4" rx="3.73" ry="3.59" fill="url(#dot)"/>
<ellipse cx="443.9" cy="149.7" rx="3.90" ry="4.40" fill="#5c5e0a" opacity="0.85"/>
<ellipse cx="443.9" cy="150.6" rx="3.73" ry="3.59" fill="url(#dot)"/>
<ellipse cx="435.7" cy="153.6" rx="3.90" ry="4.40" fill="#5c5e0a" opacity="0.85"/>
<ellipse cx="435.7" cy="154.5" rx="3.73" ry="3.59" fill="url(#dot)"/>
<ellipse cx="426.9" cy="156.2" rx="3.90" ry="4.40" fill="#5c5e0a" opacity="0.85"/>
<ellipse cx="426.9" cy="157.1" rx="3.73" ry="3.59" fill="url(#dot)"/>
<ellipse cx="417.8" cy="157.5" rx="3.90" ry="4.40" fill="#5c5e0a" opacity="0.85"/>
<ellipse cx="417.8" cy="158.4" rx="3.73" ry="3.59" fill="url(#dot)"/>
<ellipse cx="408.7" cy="157.4" rx="3.90" ry="4.40" fill="#5c5e0a" opacity="0.85"/>
<ellipse cx="408.7" cy="158.3" rx="3.73" ry="3.59" fill="url(#dot)"/>
<ellipse cx="399.6" cy="155.9" rx="3.90" ry="4.40" fill="#5c5e0a" opacity="0.85"/>
<ellipse cx="399.6" cy="156.8" rx="3.73" ry="3.59" fill="url(#dot)"/>
<ellipse cx="390.9" cy="153.0" rx="3.90" ry="4.40" fill="#5c5e0a" opacity="0.85"/>
<ellipse cx="390.9" cy="153.9" rx="3.73" ry="3.59" fill="url(#dot)"/>
<ellipse cx="382.8" cy="148.9" rx="3.90" ry="4.40" fill="#5c5e0a" opacity="0.85"/>
<ellipse cx="382.8" cy="149.8" rx="3.73" ry="3.59" fill="url(#dot)"/>
<ellipse cx="375.5" cy="143.5" rx="3.90" ry="4.40" fill="#5c5e0a" opacity="0.85"/>
<ellipse cx="375.5" cy="144.5" rx="3.73" ry="3.59" fill="url(#dot)"/>
<ellipse cx="369.1" cy="137.2" rx="3.90" ry="4.40" fill="#5c5e0a" opacity="0.85"/>
<ellipse cx="369.1" cy="138.1" rx="3.73" ry="3.59" fill="url(#dot)"/>
<ellipse cx="363.8" cy="129.9" rx="3.90" ry="4.40" fill="#5c5e0a" opacity="0.85"/>
<ellipse cx="363.8" cy="130.8" rx="3.73" ry="3.59" fill="url(#dot)"/>
<ellipse cx="359.7" cy="121.9" rx="3.90" ry="4.40" fill="#5c5e0a" opacity="0.85"/>
<ellipse cx="359.7" cy="122.8" rx="3.73" ry="3.59" fill="url(#dot)"/>
<ellipse cx="357.0" cy="113.4" rx="3.90" ry="4.40" fill="#5c5e0a" opacity="0.85"/>
<ellipse cx="357.0" cy="114.3" rx="3.73" ry="3.59" fill="url(#dot)"/>
<ellipse cx="355.7" cy="104.6" rx="3.90" ry="4.40" fill="#5c5e0a" opacity="0.85"/>
<ellipse cx="355.7" cy="105.5" rx="3.73" ry="3.59" fill="url(#dot)"/>
<ellipse cx="355.8" cy="95.7" rx="3.90" ry="4.40" fill="#5c5e0a" opacity="0.85"/>
<ellipse cx="355.8" cy="96.6" rx="3.73" ry="3.59" fill="url(#dot)"/>
<ellipse cx="357.4" cy="86.9" rx="3.90" ry="4.40" fill="#5c5e0a" opacity="0.85"/>
<ellipse cx="357.4" cy="87.8" rx="3.73" ry="3.59" fill="url(#dot)"/>
<ellipse cx="360.3" cy="78.5" rx="3.90" ry="4.40" fill="#5c5e0a" opacity="0.85"/>
<ellipse cx="360.3" cy="79.4" rx="3.73" ry="3.59" fill="url(#dot)"/>
<ellipse cx="364.6" cy="70.6" rx="3.90" ry="4.40" fill="#5c5e0a" opacity="0.85"/>
<ellipse cx="364.6" cy="71.5" rx="3.73" ry="3.59" fill="url(#dot)"/>
<ellipse cx="370.1" cy="63.5" rx="3.90" ry="4.40" fill="#5c5e0a" opacity="0.85"/>
<ellipse cx="370.1" cy="64.4" rx="3.73" ry="3.59" fill="url(#dot)"/>
<ellipse cx="376.6" cy="57.3" rx="3.90" ry="4.40" fill="#5c5e0a" opacity="0.85"/>
<ellipse cx="376.6" cy="58.2" rx="3.73" ry="3.59" fill="url(#dot)"/>
<ellipse cx="384.1" cy="52.1" rx="3.90" ry="4.40" fill="#5c5e0a" opacity="0.85"/>
<ellipse cx="384.1" cy="53.1" rx="3.73" ry="3.59" fill="url(#dot)"/>
<ellipse cx="392.3" cy="48.2" rx="3.90" ry="4.40" fill="#5c5e0a" opacity="0.85"/>
<ellipse cx="392.3" cy="49.1" rx="3.73" ry="3.59" fill="url(#dot)"/>
<ellipse cx="401.1" cy="45.6" rx="3.90" ry="4.40" fill="#5c5e0a" opacity="0.85"/>
<ellipse cx="401.1" cy="46.5" rx="3.73" ry="3.59" fill="url(#dot)"/>
<ellipse cx="410.2" cy="44.3" rx="3.90" ry="4.40" fill="#5c5e0a" opacity="0.85"/>
<ellipse cx="410.2" cy="45.2" rx="3.73" ry="3.59" fill="url(#dot)"/>
<ellipse cx="419.3" cy="44.4" rx="3.90" ry="4.40" fill="#5c5e0a" opacity="0.85"/>
<ellipse cx="419.3" cy="45.3" rx="3.73" ry="3.59" fill="url(#dot)"/>
<ellipse cx="463.1" cy="144.6" rx="3.80" ry="4.30" fill="#5e600a" opacity="0.85"/>
<ellipse cx="463.1" cy="145.6" rx="3.62" ry="3.42" fill="url(#dot)"/>
<ellipse cx="456.6" cy="150.6" rx="3.80" ry="4.30" fill="#5e600a" opacity="0.85"/>
<ellipse cx="456.6" cy="151.6" rx="3.62" ry="3.42" fill="url(#dot)"/>
<ellipse cx="449.4" cy="155.7" rx="3.80" ry="4.30" fill="#5e600a" opacity="0.85"/>
<ellipse cx="449.4" cy="156.6" rx="3.62" ry="3.42" fill="url(#dot)"/>
<ellipse cx="441.6" cy="159.7" rx="3.80" ry="4.30" fill="#5e600a" opacity="0.85"/>
<ellipse cx="441.6" cy="160.7" rx="3.62" ry="3.42" fill="url(#dot)"/>
<ellipse cx="433.3" cy="162.8" rx="3.80" ry="4.30" fill="#5e600a" opacity="0.85"/>
<ellipse cx="433.3" cy="163.8" rx="3.62" ry="3.42" fill="url(#dot)"/>
<ellipse cx="424.6" cy="164.7" rx="3.80" ry="4.30" fill="#5e600a" opacity="0.85"/>
<ellipse cx="424.6" cy="165.7" rx="3.62" ry="3.42" fill="url(#dot)"/>
<ellipse cx="415.7" cy="165.5" rx="3.80" ry="4.30" fill="#5e600a" opacity="0.85"/>
<ellipse cx="415.7" cy="166.5" rx="3.62" ry="3.42" fill="url(#dot)"/>
<ellipse cx="406.8" cy="165.2" rx="3.80" ry="4.30" fill="#5e600a" opacity="0.85"/>
<ellipse cx="406.8" cy="166.2" rx="3.62" ry="3.42" fill="url(#dot)"/>
<ellipse cx="398.1" cy="163.7" rx="3.80" ry="4.30" fill="#5e600a" opacity="0.85"/>
<ellipse cx="398.1" cy="164.7" rx="3.62" ry="3.42" fill="url(#dot)"/>
<ellipse cx="389.6" cy="161.1" rx="3.80" ry="4.30" fill="#5e600a" opacity="0.85"/>
<ellipse cx="389.6" cy="162.0" rx="3.62" ry="3.42" fill="url(#dot)"/>
<ellipse cx="381.6" cy="157.4" rx="3.80" ry="4.30" fill="#5e600a" opacity="0.85"/>
<ellipse cx="381.6" cy="158.3" rx="3.62" ry="3.42" fill="url(#dot)"/>
<ellipse cx="374.1" cy="152.7" rx="3.80" ry="4.30" fill="#5e600a" opacity="0.85"/>
<ellipse cx="374.1" cy="153.6" rx="3.62" ry="3.42" fill="url(#dot)"/>
<ellipse cx="367.3" cy="147.0" rx="3.80" ry="4.30" fill="#5e600a" opacity="0.85"/>
<ellipse cx="367.3" cy="148.0" rx="3.62" ry="3.42" fill="url(#dot)"/>
<ellipse cx="361.4" cy="140.6" rx="3.80" ry="4.30" fill="#5e600a" opacity="0.85"/>
<ellipse cx="361.4" cy="141.6" rx="3.62" ry="3.42" fill="url(#dot)"/>
<ellipse cx="356.4" cy="133.4" rx="3.80" ry="4.30" fill="#5e600a" opacity="0.85"/>
<ellipse cx="356.4" cy="134.4" rx="3.62" ry="3.42" fill="url(#dot)"/>
<ellipse cx="352.5" cy="125.7" rx="3.80" ry="4.30" fill="#5e600a" opacity="0.85"/>
<ellipse cx="352.5" cy="126.7" rx="3.62" ry="3.42" fill="url(#dot)"/>
<ellipse cx="349.6" cy="117.5" rx="3.80" ry="4.30" fill="#5e600a" opacity="0.85"/>
<ellipse cx="349.6" cy="118.5" rx="3.62" ry="3.42" fill="url(#dot)"/>
<ellipse cx="347.9" cy="109.0" rx="3.80" ry="4.30" fill="#5e600a" opacity="0.85"/>
<ellipse cx="347.9" cy="110.0" rx="3.62" ry="3.42" fill="url(#dot)"/>
<ellipse cx="347.4" cy="100.4" rx="3.80" ry="4.30" fill="#5e600a" opacity="0.85"/>
<ellipse cx="347.4" cy="101.4" rx="3.62" ry="3.42" fill="url(#dot)"/>
<ellipse cx="348.1" cy="91.8" rx="3.80" ry="4.30" fill="#5e600a" opacity="0.85"/>
<ellipse cx="348.1" cy="92.8" rx="3.62" ry="3.42" fill="url(#dot)"/>
<ellipse cx="349.9" cy="83.4" rx="3.80" ry="4.30" fill="#5e600a" opacity="0.85"/>
<ellipse cx="349.9" cy="84.3" rx="3.62" ry="3.42" fill="url(#dot)"/>
<ellipse cx="352.9" cy="75.2" rx="3.80" ry="4.30" fill="#5e600a" opacity="0.85"/>
<ellipse cx="352.9" cy="76.2" rx="3.62" ry="3.42" fill="url(#dot)"/>
<ellipse cx="356.9" cy="67.5" rx="3.80" ry="4.30" fill="#5e600a" opacity="0.85"/>
<ellipse cx="356.9" cy="68.5" rx="3.62" ry="3.42" fill="url(#dot)"/>
<ellipse cx="362.0" cy="60.5" rx="3.80" ry="4.30" fill="#5e600a" opacity="0.85"/>
<ellipse cx="362.0" cy="61.4" rx="3.62" ry="3.42" fill="url(#dot)"/>
<ellipse cx="368.1" cy="54.1" rx="3.80" ry="4.30" fill="#5e600a" opacity="0.85"/>
<ellipse cx="368.1" cy="55.1" rx="3.62" ry="3.42" fill="url(#dot)"/>
<ellipse cx="374.9" cy="48.6" rx="3.80" ry="4.30" fill="#5e600a" opacity="0.85"/>
<ellipse cx="374.9" cy="49.5" rx="3.62" ry="3.42" fill="url(#dot)"/>
<ellipse cx="382.4" cy="44.0" rx="3.80" ry="4.30" fill="#5e600a" opacity="0.85"/>
<ellipse cx="382.4" cy="45.0" rx="3.62" ry="3.42" fill="url(#dot)"/>
<ellipse cx="390.5" cy="40.4" rx="3.80" ry="4.30" fill="#5e600a" opacity="0.85"/>
<ellipse cx="390.5" cy="41.4" rx="3.62" ry="3.42" fill="url(#dot)"/>
<ellipse cx="399.0" cy="37.9" rx="3.80" ry="4.30" fill="#5e600a" opacity="0.85"/>
<ellipse cx="399.0" cy="38.9" rx="3.62" ry="3.42" fill="url(#dot)"/>
<ellipse cx="407.8" cy="36.5" rx="3.80" ry="4.30" fill="#5e600a" opacity="0.85"/>
<ellipse cx="407.8" cy="37.5" rx="3.62" ry="3.42" fill="url(#dot)"/>
<ellipse cx="416.7" cy="36.3" rx="3.80" ry="4.30" fill="#5e600a" opacity="0.85"/>
<ellipse cx="416.7" cy="37.3" rx="3.62" ry="3.42" fill="url(#dot)"/>
<ellipse cx="425.6" cy="37.2" rx="3.80" ry="4.30" fill="#5e600a" opacity="0.85"/>
<ellipse cx="425.6" cy="38.2" rx="3.62" ry="3.42" fill="url(#dot)"/>
<ellipse cx="434.2" cy="39.3" rx="3.80" ry="4.30" fill="#5e600a" opacity="0.85"/>
<ellipse cx="434.2" cy="40.3" rx="3.62" ry="3.42" fill="url(#dot)"/>
<ellipse cx="442.5" cy="42.5" rx="3.80" ry="4.30" fill="#5e600a" opacity="0.85"/>
<ellipse cx="442.5" cy="43.4" rx="3.62" ry="3.42" fill="url(#dot)"/>
<ellipse cx="450.3" cy="46.7" rx="3.80" ry="4.30" fill="#5e600a" opacity="0.85"/>
<ellipse cx="450.3" cy="47.7" rx="3.62" ry="3.42" fill="url(#dot)"/>
<ellipse cx="457.4" cy="51.8" rx="3.80" ry="4.30" fill="#5e600a" opacity="0.85"/>
<ellipse cx="457.4" cy="52.8" rx="3.62" ry="3.42" fill="url(#dot)"/>
<ellipse cx="463.7" cy="57.9" rx="3.80" ry="4.30" fill="#5e600a" opacity="0.85"/>
<ellipse cx="463.7" cy="58.9" rx="3.62" ry="3.42" fill="url(#dot)"/>
<ellipse cx="469.2" cy="64.7" rx="3.80" ry="4.30" fill="#5e600a" opacity="0.85"/>
<ellipse cx="469.2" cy="65.7" rx="3.62" ry="3.42" fill="url(#dot)"/>
<ellipse cx="473.7" cy="72.2" rx="3.80" ry="4.30" fill="#5e600a" opacity="0.85"/>
<ellipse cx="473.7" cy="73.2" rx="3.62" ry="3.42" fill="url(#dot)"/>
<ellipse cx="477.1" cy="80.2" rx="3.80" ry="4.30" fill="#5e600a" opacity="0.85"/>
<ellipse cx="477.1" cy="81.1" rx="3.62" ry="3.42" fill="url(#dot)"/>
<ellipse cx="479.4" cy="88.5" rx="3.80" ry="4.30" fill="#5e600a" opacity="0.85"/>
<ellipse cx="479.4" cy="89.5" rx="3.62" ry="3.42" fill="url(#dot)"/>
<ellipse cx="480.5" cy="97.1" rx="3.80" ry="4.30" fill="#5e600a" opacity="0.85"/>
<ellipse cx="480.5" cy="98.0" rx="3.62" ry="3.42" fill="url(#dot)"/>
<ellipse cx="480.4" cy="105.7" rx="3.80" ry="4.30" fill="#5e600a" opacity="0.85"/>
<ellipse cx="480.4" cy="106.7" rx="3.62" ry="3.42" fill="url(#dot)"/>
<ellipse cx="479.2" cy="114.3" rx="3.80" ry="4.30" fill="#5e600a" opacity="0.85"/>
<ellipse cx="479.2" cy="115.2" rx="3.62" ry="3.42" fill="url(#dot)"/>
<ellipse cx="476.8" cy="122.6" rx="3.80" ry="4.30" fill="#5e600a" opacity="0.85"/>
<ellipse cx="476.8" cy="123.5" rx="3.62" ry="3.42" fill="url(#dot)"/>
<ellipse cx="473.2" cy="130.5" rx="3.80" ry="4.30" fill="#5e600a" opacity="0.85"/>
<ellipse cx="473.2" cy="131.5" rx="3.62" ry="3.42" fill="url(#dot)"/>
<ellipse cx="468.6" cy="137.9" rx="3.80" ry="4.30" fill="#5e600a" opacity="0.85"/>
<ellipse cx="468.6" cy="138.9" rx="3.62" ry="3.42" fill="url(#dot)"/>
<ellipse cx="431.0" cy="171.0" rx="3.50" ry="4.00" fill="#64660c" opacity="0.85"/>
<ellipse cx="431.0" cy="172.1" rx="3.31" ry="2.98" fill="url(#dot3)"/>
<ellipse cx="422.7" cy="172.4" rx="3.50" ry="4.00" fill="#64660c" opacity="0.85"/>
<ellipse cx="422.7" cy="173.5" rx="3.31" ry="2.98" fill="url(#dot3)"/>
<ellipse cx="414.2" cy="172.9" rx="3.50" ry="4.00" fill="#64660c" opacity="0.85"/>
<ellipse cx="414.2" cy="174.0" rx="3.31" ry="2.98" fill="url(#dot3)"/>
<ellipse cx="405.8" cy="172.4" rx="3.50" ry="4.00" fill="#64660c" opacity="0.85"/>
<ellipse cx="405.8" cy="173.6" rx="3.31" ry="2.98" fill="url(#dot3)"/>
<ellipse cx="397.4" cy="171.0" rx="3.50" ry="4.00" fill="#64660c" opacity="0.85"/>
<ellipse cx="397.4" cy="172.2" rx="3.31" ry="2.98" fill="url(#dot3)"/>
<ellipse cx="389.3" cy="168.8" rx="3.50" ry="4.00" fill="#64660c" opacity="0.85"/>
<ellipse cx="389.3" cy="169.9" rx="3.31" ry="2.98" fill="url(#dot3)"/>
<ellipse cx="381.5" cy="165.6" rx="3.50" ry="4.00" fill="#64660c" opacity="0.85"/>
<ellipse cx="381.5" cy="166.7" rx="3.31" ry="2.98" fill="url(#dot3)"/>
<ellipse cx="374.1" cy="161.6" rx="3.50" ry="4.00" fill="#64660c" opacity="0.85"/>
<ellipse cx="374.1" cy="162.7" rx="3.31" ry="2.98" fill="url(#dot3)"/>
<ellipse cx="367.2" cy="156.7" rx="3.50" ry="4.00" fill="#64660c" opacity="0.85"/>
<ellipse cx="367.2" cy="157.9" rx="3.31" ry="2.98" fill="url(#dot3)"/>
<ellipse cx="361.0" cy="151.2" rx="3.50" ry="4.00" fill="#64660c" opacity="0.85"/>
<ellipse cx="361.0" cy="152.3" rx="3.31" ry="2.98" fill="url(#dot3)"/>
<ellipse cx="355.4" cy="145.0" rx="3.50" ry="4.00" fill="#64660c" opacity="0.85"/>
<ellipse cx="355.4" cy="146.1" rx="3.31" ry="2.98" fill="url(#dot3)"/>
<ellipse cx="350.6" cy="138.2" rx="3.50" ry="4.00" fill="#64660c" opacity="0.85"/>
<ellipse cx="350.6" cy="139.4" rx="3.31" ry="2.98" fill="url(#dot3)"/>
<ellipse cx="346.6" cy="131.0" rx="3.50" ry="4.00" fill="#64660c" opacity="0.85"/>
<ellipse cx="346.6" cy="132.1" rx="3.31" ry="2.98" fill="url(#dot3)"/>
<ellipse cx="343.5" cy="123.3" rx="3.50" ry="4.00" fill="#64660c" opacity="0.85"/>
<ellipse cx="343.5" cy="124.5" rx="3.31" ry="2.98" fill="url(#dot3)"/>
<ellipse cx="341.4" cy="115.4" rx="3.50" ry="4.00" fill="#64660c" opacity="0.85"/>
<ellipse cx="341.4" cy="116.5" rx="3.31" ry="2.98" fill="url(#dot3)"/>
<ellipse cx="340.1" cy="107.3" rx="3.50" ry="4.00" fill="#64660c" opacity="0.85"/>
<ellipse cx="340.1" cy="108.4" rx="3.31" ry="2.98" fill="url(#dot3)"/>
<ellipse cx="339.9" cy="99.1" rx="3.50" ry="4.00" fill="#64660c" opacity="0.85"/>
<ellipse cx="339.9" cy="100.2" rx="3.31" ry="2.98" fill="url(#dot3)"/>
<ellipse cx="340.6" cy="90.9" rx="3.50" ry="4.00" fill="#64660c" opacity="0.85"/>
<ellipse cx="340.6" cy="92.0" rx="3.31" ry="2.98" fill="url(#dot3)"/>
<ellipse cx="342.2" cy="82.8" rx="3.50" ry="4.00" fill="#64660c" opacity="0.85"/>
<ellipse cx="342.2" cy="83.9" rx="3.31" ry="2.98" fill="url(#dot3)"/>
<ellipse cx="344.8" cy="75.0" rx="3.50" ry="4.00" fill="#64660c" opacity="0.85"/>
<ellipse cx="344.8" cy="76.1" rx="3.31" ry="2.98" fill="url(#dot3)"/>
<ellipse cx="348.3" cy="67.5" rx="3.50" ry="4.00" fill="#64660c" opacity="0.85"/>
<ellipse cx="348.3" cy="68.6" rx="3.31" ry="2.98" fill="url(#dot3)"/>
<ellipse cx="352.7" cy="60.4" rx="3.50" ry="4.00" fill="#64660c" opacity="0.85"/>
<ellipse cx="352.7" cy="61.6" rx="3.31" ry="2.98" fill="url(#dot3)"/>
<ellipse cx="357.8" cy="53.9" rx="3.50" ry="4.00" fill="#64660c" opacity="0.85"/>
<ellipse cx="357.8" cy="55.0" rx="3.31" ry="2.98" fill="url(#dot3)"/>
<ellipse cx="363.7" cy="48.0" rx="3.50" ry="4.00" fill="#64660c" opacity="0.85"/>
<ellipse cx="363.7" cy="49.1" rx="3.31" ry="2.98" fill="url(#dot3)"/>
<ellipse cx="370.2" cy="42.8" rx="3.50" ry="4.00" fill="#64660c" opacity="0.85"/>
<ellipse cx="370.2" cy="43.9" rx="3.31" ry="2.98" fill="url(#dot3)"/>
<ellipse cx="377.4" cy="38.3" rx="3.50" ry="4.00" fill="#64660c" opacity="0.85"/>
<ellipse cx="377.4" cy="39.5" rx="3.31" ry="2.98" fill="url(#dot3)"/>
<ellipse cx="384.9" cy="34.7" rx="3.50" ry="4.00" fill="#64660c" opacity="0.85"/>
<ellipse cx="384.9" cy="35.8" rx="3.31" ry="2.98" fill="url(#dot3)"/>
<ellipse cx="392.9" cy="31.9" rx="3.50" ry="4.00" fill="#64660c" opacity="0.85"/>
<ellipse cx="392.9" cy="33.0" rx="3.31" ry="2.98" fill="url(#dot3)"/>
<ellipse cx="401.1" cy="30.0" rx="3.50" ry="4.00" fill="#64660c" opacity="0.85"/>
<ellipse cx="401.1" cy="31.1" rx="3.31" ry="2.98" fill="url(#dot3)"/>
<ellipse cx="409.6" cy="29.1" rx="3.50" ry="4.00" fill="#64660c" opacity="0.85"/>
<ellipse cx="409.6" cy="30.2" rx="3.31" ry="2.98" fill="url(#dot3)"/>
<ellipse cx="418.0" cy="29.0" rx="3.50" ry="4.00" fill="#64660c" opacity="0.85"/>
<ellipse cx="418.0" cy="30.2" rx="3.31" ry="2.98" fill="url(#dot3)"/>
<ellipse cx="426.4" cy="29.9" rx="3.50" ry="4.00" fill="#64660c" opacity="0.85"/>
<ellipse cx="426.4" cy="31.1" rx="3.31" ry="2.98" fill="url(#dot3)"/>
<ellipse cx="434.7" cy="31.8" rx="3.50" ry="4.00" fill="#64660c" opacity="0.85"/>
<ellipse cx="434.7" cy="32.9" rx="3.31" ry="2.98" fill="url(#dot3)"/>
<ellipse cx="442.7" cy="34.5" rx="3.50" ry="4.00" fill="#64660c" opacity="0.85"/>
<ellipse cx="442.7" cy="35.6" rx="3.31" ry="2.98" fill="url(#dot3)"/>
<ellipse cx="450.3" cy="38.1" rx="3.50" ry="4.00" fill="#64660c" opacity="0.85"/>
<ellipse cx="450.3" cy="39.3" rx="3.31" ry="2.98" fill="url(#dot3)"/>
<ellipse cx="457.4" cy="42.6" rx="3.50" ry="4.00" fill="#64660c" opacity="0.85"/>
<ellipse cx="457.4" cy="43.7" rx="3.31" ry="2.98" fill="url(#dot3)"/>
<ellipse cx="464.0" cy="47.7" rx="3.50" ry="4.00" fill="#64660c" opacity="0.85"/>
<ellipse cx="464.0" cy="48.9" rx="3.31" ry="2.98" fill="url(#dot3)"/>
<ellipse cx="469.9" cy="53.6" rx="3.50" ry="4.00" fill="#64660c" opacity="0.85"/>
<ellipse cx="469.9" cy="54.7" rx="3.31" ry="2.98" fill="url(#dot3)"/>
<ellipse cx="475.1" cy="60.1" rx="3.50" ry="4.00" fill="#64660c" opacity="0.85"/>
<ellipse cx="475.1" cy="61.2" rx="3.31" ry="2.98" fill="url(#dot3)"/>
<ellipse cx="479.5" cy="67.1" rx="3.50" ry="4.00" fill="#64660c" opacity="0.85"/>
<ellipse cx="479.5" cy="68.3" rx="3.31" ry="2.98" fill="url(#dot3)"/>
<ellipse cx="483.0" cy="74.6" rx="3.50" ry="4.00" fill="#64660c" opacity="0.85"/>
<ellipse cx="483.0" cy="75.7" rx="3.31" ry="2.98" fill="url(#dot3)"/>
<ellipse cx="485.7" cy="82.4" rx="3.50" ry="4.00" fill="#64660c" opacity="0.85"/>
<ellipse cx="485.7" cy="83.5" rx="3.31" ry="2.98" fill="url(#dot3)"/>
<ellipse cx="487.4" cy="90.5" rx="3.50" ry="4.00" fill="#64660c" opacity="0.85"/>
<ellipse cx="487.4" cy="91.6" rx="3.31" ry="2.98" fill="url(#dot3)"/>
<ellipse cx="488.1" cy="98.6" rx="3.50" ry="4.00" fill="#64660c" opacity="0.85"/>
<ellipse cx="488.1" cy="99.8" rx="3.31" ry="2.98" fill="url(#dot3)"/>
<ellipse cx="487.9" cy="106.9" rx="3.50" ry="4.00" fill="#64660c" opacity="0.85"/>
<ellipse cx="487.9" cy="108.0" rx="3.31" ry="2.98" fill="url(#dot3)"/>
<ellipse cx="486.7" cy="115.0" rx="3.50" ry="4.00" fill="#64660c" opacity="0.85"/>
<ellipse cx="486.7" cy="116.1" rx="3.31" ry="2.98" fill="url(#dot3)"/>
<ellipse cx="484.6" cy="122.9" rx="3.50" ry="4.00" fill="#64660c" opacity="0.85"/>
<ellipse cx="484.6" cy="124.1" rx="3.31" ry="2.98" fill="url(#dot3)"/>
<ellipse cx="481.5" cy="130.6" rx="3.50" ry="4.00" fill="#64660c" opacity="0.85"/>
<ellipse cx="481.5" cy="131.7" rx="3.31" ry="2.98" fill="url(#dot3)"/>
<ellipse cx="477.6" cy="137.9" rx="3.50" ry="4.00" fill="#64660c" opacity="0.85"/>
<ellipse cx="477.6" cy="139.0" rx="3.31" ry="2.98" fill="url(#dot3)"/>
<ellipse cx="472.9" cy="144.7" rx="3.50" ry="4.00" fill="#64660c" opacity="0.85"/>
<ellipse cx="472.9" cy="145.8" rx="3.31" ry="2.98" fill="url(#dot3)"/>
<ellipse cx="467.3" cy="150.9" rx="3.50" ry="4.00" fill="#64660c" opacity="0.85"/>
<ellipse cx="467.3" cy="152.0" rx="3.31" ry="2.98" fill="url(#dot3)"/>
<ellipse cx="461.1" cy="156.5" rx="3.50" ry="4.00" fill="#64660c" opacity="0.85"/>
<ellipse cx="461.1" cy="157.6" rx="3.31" ry="2.98" fill="url(#dot3)"/>
<ellipse cx="454.3" cy="161.3" rx="3.50" ry="4.00" fill="#64660c" opacity="0.85"/>
<ellipse cx="454.3" cy="162.5" rx="3.31" ry="2.98" fill="url(#dot3)"/>
<ellipse cx="446.9" cy="165.4" rx="3.50" ry="4.00" fill="#64660c" opacity="0.85"/>
<ellipse cx="446.9" cy="166.5" rx="3.31" ry="2.98" fill="url(#dot3)"/>
<ellipse cx="439.1" cy="168.6" rx="3.50" ry="4.00" fill="#64660c" opacity="0.85"/>
<ellipse cx="439.1" cy="169.7" rx="3.31" ry="2.98" fill="url(#dot3)"/>
<ellipse cx="348.1" cy="54.9" rx="3.10" ry="3.60" fill="#6a6c0e" opacity="0.8"/>
<ellipse cx="348.1" cy="56.4" rx="2.85" ry="2.17" fill="url(#dot3)"/>
<ellipse cx="353.0" cy="48.9" rx="3.10" ry="3.60" fill="#6a6c0e" opacity="0.8"/>
<ellipse cx="353.0" cy="50.4" rx="2.85" ry="2.17" fill="url(#dot3)"/>
<ellipse cx="358.6" cy="43.3" rx="3.10" ry="3.60" fill="#6a6c0e" opacity="0.8"/>
<ellipse cx="358.6" cy="44.8" rx="2.85" ry="2.17" fill="url(#dot3)"/>
<ellipse cx="364.7" cy="38.3" rx="3.10" ry="3.60" fill="#6a6c0e" opacity="0.8"/>
<ellipse cx="364.7" cy="39.9" rx="2.85" ry="2.17" fill="url(#dot3)"/>
<ellipse cx="371.2" cy="33.9" rx="3.10" ry="3.60" fill="#6a6c0e" opacity="0.8"/>
<ellipse cx="371.2" cy="35.5" rx="2.85" ry="2.17" fill="url(#dot3)"/>
<ellipse cx="378.2" cy="30.2" rx="3.10" ry="3.60" fill="#6a6c0e" opacity="0.8"/>
<ellipse cx="378.2" cy="31.7" rx="2.85" ry="2.17" fill="url(#dot3)"/>
<ellipse cx="385.5" cy="27.1" rx="3.10" ry="3.60" fill="#6a6c0e" opacity="0.8"/>
<ellipse cx="385.5" cy="28.6" rx="2.85" ry="2.17" fill="url(#dot3)"/>
<ellipse cx="393.1" cy="24.8" rx="3.10" ry="3.60" fill="#6a6c0e" opacity="0.8"/>
<ellipse cx="393.1" cy="26.3" rx="2.85" ry="2.17" fill="url(#dot3)"/>
<ellipse cx="400.9" cy="23.1" rx="3.10" ry="3.60" fill="#6a6c0e" opacity="0.8"/>
<ellipse cx="400.9" cy="24.7" rx="2.85" ry="2.17" fill="url(#dot3)"/>
<ellipse cx="408.8" cy="22.3" rx="3.10" ry="3.60" fill="#6a6c0e" opacity="0.8"/>
<ellipse cx="408.8" cy="23.8" rx="2.85" ry="2.17" fill="url(#dot3)"/>
<ellipse cx="416.8" cy="22.1" rx="3.10" ry="3.60" fill="#6a6c0e" opacity="0.8"/>
<ellipse cx="416.8" cy="23.7" rx="2.85" ry="2.17" fill="url(#dot3)"/>
<ellipse cx="424.7" cy="22.8" rx="3.10" ry="3.60" fill="#6a6c0e" opacity="0.8"/>
<ellipse cx="424.7" cy="24.3" rx="2.85" ry="2.17" fill="url(#dot3)"/>
<ellipse cx="432.5" cy="24.2" rx="3.10" ry="3.60" fill="#6a6c0e" opacity="0.8"/>
<ellipse cx="432.5" cy="25.7" rx="2.85" ry="2.17" fill="url(#dot3)"/>
<ellipse cx="440.2" cy="26.3" rx="3.10" ry="3.60" fill="#6a6c0e" opacity="0.8"/>
<ellipse cx="440.2" cy="27.8" rx="2.85" ry="2.17" fill="url(#dot3)"/>
<ellipse cx="447.6" cy="29.2" rx="3.10" ry="3.60" fill="#6a6c0e" opacity="0.8"/>
<ellipse cx="447.6" cy="30.7" rx="2.85" ry="2.17" fill="url(#dot3)"/>
<ellipse cx="454.7" cy="32.7" rx="3.10" ry="3.60" fill="#6a6c0e" opacity="0.8"/>
<ellipse cx="454.7" cy="34.2" rx="2.85" ry="2.17" fill="url(#dot3)"/>
<ellipse cx="461.4" cy="36.9" rx="3.10" ry="3.60" fill="#6a6c0e" opacity="0.8"/>
<ellipse cx="461.4" cy="38.4" rx="2.85" ry="2.17" fill="url(#dot3)"/>
<ellipse cx="467.6" cy="41.7" rx="3.10" ry="3.60" fill="#6a6c0e" opacity="0.8"/>
<ellipse cx="467.6" cy="43.2" rx="2.85" ry="2.17" fill="url(#dot3)"/>
<ellipse cx="473.3" cy="47.1" rx="3.10" ry="3.60" fill="#6a6c0e" opacity="0.8"/>
<ellipse cx="473.3" cy="48.6" rx="2.85" ry="2.17" fill="url(#dot3)"/>
<ellipse cx="478.5" cy="53.0" rx="3.10" ry="3.60" fill="#6a6c0e" opacity="0.8"/>
<ellipse cx="478.5" cy="54.5" rx="2.85" ry="2.17" fill="url(#dot3)"/>
<ellipse cx="483.0" cy="59.4" rx="3.10" ry="3.60" fill="#6a6c0e" opacity="0.8"/>
<ellipse cx="483.0" cy="60.9" rx="2.85" ry="2.17" fill="url(#dot3)"/>
<ellipse cx="486.9" cy="66.1" rx="3.10" ry="3.60" fill="#6a6c0e" opacity="0.8"/>
<ellipse cx="486.9" cy="67.7" rx="2.85" ry="2.17" fill="url(#dot3)"/>
<ellipse cx="490.0" cy="73.2" rx="3.10" ry="3.60" fill="#6a6c0e" opacity="0.8"/>
<ellipse cx="490.0" cy="74.8" rx="2.85" ry="2.17" fill="url(#dot3)"/>
<ellipse cx="492.5" cy="80.6" rx="3.10" ry="3.60" fill="#6a6c0e" opacity="0.8"/>
<ellipse cx="492.5" cy="82.1" rx="2.85" ry="2.17" fill="url(#dot3)"/>
<ellipse cx="494.1" cy="88.2" rx="3.10" ry="3.60" fill="#6a6c0e" opacity="0.8"/>
<ellipse cx="494.1" cy="89.7" rx="2.85" ry="2.17" fill="url(#dot3)"/>
<ellipse cx="495.0" cy="95.8" rx="3.10" ry="3.60" fill="#6a6c0e" opacity="0.8"/>
<ellipse cx="495.0" cy="97.4" rx="2.85" ry="2.17" fill="url(#dot3)"/>
<ellipse cx="495.1" cy="103.6" rx="3.10" ry="3.60" fill="#6a6c0e" opacity="0.8"/>
<ellipse cx="495.1" cy="105.1" rx="2.85" ry="2.17" fill="url(#dot3)"/>
<ellipse cx="494.5" cy="111.3" rx="3.10" ry="3.60" fill="#6a6c0e" opacity="0.8"/>
<ellipse cx="494.5" cy="112.8" rx="2.85" ry="2.17" fill="url(#dot3)"/>
<ellipse cx="493.0" cy="118.9" rx="3.10" ry="3.60" fill="#6a6c0e" opacity="0.8"/>
<ellipse cx="493.0" cy="120.4" rx="2.85" ry="2.17" fill="url(#dot3)"/>
<ellipse cx="490.9" cy="126.3" rx="3.10" ry="3.60" fill="#6a6c0e" opacity="0.8"/>
<ellipse cx="490.9" cy="127.9" rx="2.85" ry="2.17" fill="url(#dot3)"/>
<ellipse cx="487.9" cy="133.5" rx="3.10" ry="3.60" fill="#6a6c0e" opacity="0.8"/>
<ellipse cx="487.9" cy="135.0" rx="2.85" ry="2.17" fill="url(#dot3)"/>
<ellipse cx="484.3" cy="140.4" rx="3.10" ry="3.60" fill="#6a6c0e" opacity="0.8"/>
<ellipse cx="484.3" cy="141.9" rx="2.85" ry="2.17" fill="url(#dot3)"/>
<ellipse cx="479.9" cy="146.9" rx="3.10" ry="3.60" fill="#6a6c0e" opacity="0.8"/>
<ellipse cx="479.9" cy="148.4" rx="2.85" ry="2.17" fill="url(#dot3)"/>
<ellipse cx="475.0" cy="152.9" rx="3.10" ry="3.60" fill="#6a6c0e" opacity="0.8"/>
<ellipse cx="475.0" cy="154.5" rx="2.85" ry="2.17" fill="url(#dot3)"/>
<ellipse cx="469.4" cy="158.5" rx="3.10" ry="3.60" fill="#6a6c0e" opacity="0.8"/>
<ellipse cx="469.4" cy="160.0" rx="2.85" ry="2.17" fill="url(#dot3)"/>
<ellipse cx="463.3" cy="163.5" rx="3.10" ry="3.60" fill="#6a6c0e" opacity="0.8"/>
<ellipse cx="463.3" cy="165.0" rx="2.85" ry="2.17" fill="url(#dot3)"/>
<ellipse cx="456.8" cy="167.9" rx="3.10" ry="3.60" fill="#6a6c0e" opacity="0.8"/>
<ellipse cx="456.8" cy="169.4" rx="2.85" ry="2.17" fill="url(#dot3)"/>
<ellipse cx="449.8" cy="171.6" rx="3.10" ry="3.60" fill="#6a6c0e" opacity="0.8"/>
<ellipse cx="449.8" cy="173.2" rx="2.85" ry="2.17" fill="url(#dot3)"/>
<ellipse cx="442.5" cy="174.7" rx="3.10" ry="3.60" fill="#6a6c0e" opacity="0.8"/>
<ellipse cx="442.5" cy="176.2" rx="2.85" ry="2.17" fill="url(#dot3)"/>
<ellipse cx="434.9" cy="177.0" rx="3.10" ry="3.60" fill="#6a6c0e" opacity="0.8"/>
<ellipse cx="434.9" cy="178.6" rx="2.85" ry="2.17" fill="url(#dot3)"/>
<ellipse cx="427.1" cy="178.7" rx="3.10" ry="3.60" fill="#6a6c0e" opacity="0.8"/>
<ellipse cx="427.1" cy="180.2" rx="2.85" ry="2.17" fill="url(#dot3)"/>
<ellipse cx="419.2" cy="179.5" rx="3.10" ry="3.60" fill="#6a6c0e" opacity="0.8"/>
<ellipse cx="419.2" cy="181.1" rx="2.85" ry="2.17" fill="url(#dot3)"/>
<ellipse cx="411.2" cy="179.7" rx="3.10" ry="3.60" fill="#6a6c0e" opacity="0.8"/>
<ellipse cx="411.2" cy="181.2" rx="2.85" ry="2.17" fill="url(#dot3)"/>
<ellipse cx="403.3" cy="179.0" rx="3.10" ry="3.60" fill="#6a6c0e" opacity="0.8"/>
<ellipse cx="403.3" cy="180.5" rx="2.85" ry="2.17" fill="url(#dot3)"/>
<ellipse cx="395.5" cy="177.6" rx="3.10" ry="3.60" fill="#6a6c0e" opacity="0.8"/>
<ellipse cx="395.5" cy="179.2" rx="2.85" ry="2.17" fill="url(#dot3)"/>
<ellipse cx="387.8" cy="175.5" rx="3.10" ry="3.60" fill="#6a6c0e" opacity="0.8"/>
<ellipse cx="387.8" cy="177.0" rx="2.85" ry="2.17" fill="url(#dot3)"/>
<ellipse cx="380.4" cy="172.6" rx="3.10" ry="3.60" fill="#6a6c0e" opacity="0.8"/>
<ellipse cx="380.4" cy="174.2" rx="2.85" ry="2.17" fill="url(#dot3)"/>
<ellipse cx="373.3" cy="169.1" rx="3.10" ry="3.60" fill="#6a6c0e" opacity="0.8"/>
<ellipse cx="373.3" cy="170.6" rx="2.85" ry="2.17" fill="url(#dot3)"/>
<ellipse cx="366.6" cy="164.9" rx="3.10" ry="3.60" fill="#6a6c0e" opacity="0.8"/>
<ellipse cx="366.6" cy="166.4" rx="2.85" ry="2.17" fill="url(#dot3)"/>
<ellipse cx="360.4" cy="160.1" rx="3.10" ry="3.60" fill="#6a6c0e" opacity="0.8"/>
<ellipse cx="360.4" cy="161.6" rx="2.85" ry="2.17" fill="url(#dot3)"/>
<ellipse cx="354.7" cy="154.7" rx="3.10" ry="3.60" fill="#6a6c0e" opacity="0.8"/>
<ellipse cx="354.7" cy="156.2" rx="2.85" ry="2.17" fill="url(#dot3)"/>
<ellipse cx="349.5" cy="148.8" rx="3.10" ry="3.60" fill="#6a6c0e" opacity="0.8"/>
<ellipse cx="349.5" cy="150.3" rx="2.85" ry="2.17" fill="url(#dot3)"/>
<ellipse cx="345.0" cy="142.4" rx="3.10" ry="3.60" fill="#6a6c0e" opacity="0.8"/>
<ellipse cx="345.0" cy="144.0" rx="2.85" ry="2.17" fill="url(#dot3)"/>
<ellipse cx="341.1" cy="135.7" rx="3.10" ry="3.60" fill="#6a6c0e" opacity="0.8"/>
<ellipse cx="341.1" cy="137.2" rx="2.85" ry="2.17" fill="url(#dot3)"/>
<ellipse cx="338.0" cy="128.6" rx="3.10" ry="3.60" fill="#6a6c0e" opacity="0.8"/>
<ellipse cx="338.0" cy="130.1" rx="2.85" ry="2.17" fill="url(#dot3)"/>
<ellipse cx="335.5" cy="121.2" rx="3.10" ry="3.60" fill="#6a6c0e" opacity="0.8"/>
<ellipse cx="335.5" cy="122.7" rx="2.85" ry="2.17" fill="url(#dot3)"/>
<ellipse cx="333.9" cy="113.6" rx="3.10" ry="3.60" fill="#6a6c0e" opacity="0.8"/>
<ellipse cx="333.9" cy="115.2" rx="2.85" ry="2.17" fill="url(#dot3)"/>
<ellipse cx="333.0" cy="106.0" rx="3.10" ry="3.60" fill="#6a6c0e" opacity="0.8"/>
<ellipse cx="333.0" cy="107.5" rx="2.85" ry="2.17" fill="url(#dot3)"/>
<ellipse cx="332.9" cy="98.2" rx="3.10" ry="3.60" fill="#6a6c0e" opacity="0.8"/>
<ellipse cx="332.9" cy="99.8" rx="2.85" ry="2.17" fill="url(#dot3)"/>
<ellipse cx="333.5" cy="90.5" rx="3.10" ry="3.60" fill="#6a6c0e" opacity="0.8"/>
<ellipse cx="333.5" cy="92.0" rx="2.85" ry="2.17" fill="url(#dot3)"/>
<ellipse cx="335.0" cy="82.9" rx="3.10" ry="3.60" fill="#6a6c0e" opacity="0.8"/>
<ellipse cx="335.0" cy="84.4" rx="2.85" ry="2.17" fill="url(#dot3)"/>
<ellipse cx="337.1" cy="75.5" rx="3.10" ry="3.60" fill="#6a6c0e" opacity="0.8"/>
<ellipse cx="337.1" cy="77.0" rx="2.85" ry="2.17" fill="url(#dot3)"/>
<ellipse cx="340.1" cy="68.3" rx="3.10" ry="3.60" fill="#6a6c0e" opacity="0.8"/>
<ellipse cx="340.1" cy="69.8" rx="2.85" ry="2.17" fill="url(#dot3)"/>
<ellipse cx="343.7" cy="61.4" rx="3.10" ry="3.60" fill="#6a6c0e" opacity="0.8"/>
<ellipse cx="343.7" cy="62.9" rx="2.85" ry="2.17" fill="url(#dot3)"/>
<ellipse cx="486.4" cy="53.2" rx="2.60" ry="3.10" fill="#74760f" opacity="0.75"/>
<ellipse cx="486.4" cy="55.2" rx="2.28" ry="1.17" fill="url(#dot3)"/>
<ellipse cx="490.3" cy="59.4" rx="2.60" ry="3.10" fill="#74760f" opacity="0.75"/>
<ellipse cx="490.3" cy="61.4" rx="2.28" ry="1.17" fill="url(#dot3)"/>
<ellipse cx="493.7" cy="65.9" rx="2.60" ry="3.10" fill="#74760f" opacity="0.75"/>
<ellipse cx="493.7" cy="67.9" rx="2.28" ry="1.17" fill="url(#dot3)"/>
<ellipse cx="496.5" cy="72.7" rx="2.60" ry="3.10" fill="#74760f" opacity="0.75"/>
<ellipse cx="496.5" cy="74.7" rx="2.28" ry="1.17" fill="url(#dot3)"/>
<ellipse cx="498.7" cy="79.7" rx="2.60" ry="3.10" fill="#74760f" opacity="0.75"/>
<ellipse cx="498.7" cy="81.7" rx="2.28" ry="1.17" fill="url(#dot3)"/>
<ellipse cx="500.3" cy="86.8" rx="2.60" ry="3.10" fill="#74760f" opacity="0.75"/>
<ellipse cx="500.3" cy="88.8" rx="2.28" ry="1.17" fill="url(#dot3)"/>
<ellipse cx="501.2" cy="94.1" rx="2.60" ry="3.10" fill="#74760f" opacity="0.75"/>
<ellipse cx="501.2" cy="96.1" rx="2.28" ry="1.17" fill="url(#dot3)"/>
<ellipse cx="501.5" cy="101.4" rx="2.60" ry="3.10" fill="#74760f" opacity="0.75"/>
<ellipse cx="501.5" cy="103.4" rx="2.28" ry="1.17" fill="url(#dot3)"/>
<ellipse cx="501.1" cy="108.7" rx="2.60" ry="3.10" fill="#74760f" opacity="0.75"/>
<ellipse cx="501.1" cy="110.7" rx="2.28" ry="1.17" fill="url(#dot3)"/>
<ellipse cx="500.1" cy="115.9" rx="2.60" ry="3.10" fill="#74760f" opacity="0.75"/>
<ellipse cx="500.1" cy="117.9" rx="2.28" ry="1.17" fill="url(#dot3)"/>
<ellipse cx="498.5" cy="123.0" rx="2.60" ry="3.10" fill="#74760f" opacity="0.75"/>
<ellipse cx="498.5" cy="125.1" rx="2.28" ry="1.17" fill="url(#dot3)"/>
<ellipse cx="496.2" cy="130.0" rx="2.60" ry="3.10" fill="#74760f" opacity="0.75"/>
<ellipse cx="496.2" cy="132.0" rx="2.28" ry="1.17" fill="url(#dot3)"/>
<ellipse cx="493.3" cy="136.8" rx="2.60" ry="3.10" fill="#74760f" opacity="0.75"/>
<ellipse cx="493.3" cy="138.8" rx="2.28" ry="1.17" fill="url(#dot3)"/>
<ellipse cx="489.9" cy="143.3" rx="2.60" ry="3.10" fill="#74760f" opacity="0.75"/>
<ellipse cx="489.9" cy="145.3" rx="2.28" ry="1.17" fill="url(#dot3)"/>
<ellipse cx="485.8" cy="149.4" rx="2.60" ry="3.10" fill="#74760f" opacity="0.75"/>
<ellipse cx="485.8" cy="151.5" rx="2.28" ry="1.17" fill="url(#dot3)"/>
<ellipse cx="481.3" cy="155.2" rx="2.60" ry="3.10" fill="#74760f" opacity="0.75"/>
<ellipse cx="481.3" cy="157.3" rx="2.28" ry="1.17" fill="url(#dot3)"/>
<ellipse cx="476.2" cy="160.7" rx="2.60" ry="3.10" fill="#74760f" opacity="0.75"/>
<ellipse cx="476.2" cy="162.7" rx="2.28" ry="1.17" fill="url(#dot3)"/>
<ellipse cx="470.7" cy="165.6" rx="2.60" ry="3.10" fill="#74760f" opacity="0.75"/>
<ellipse cx="470.7" cy="167.6" rx="2.28" ry="1.17" fill="url(#dot3)"/>
<ellipse cx="464.7" cy="170.1" rx="2.60" ry="3.10" fill="#74760f" opacity="0.75"/>
<ellipse cx="464.7" cy="172.1" rx="2.28" ry="1.17" fill="url(#dot3)"/>
<ellipse cx="458.4" cy="174.1" rx="2.60" ry="3.10" fill="#74760f" opacity="0.75"/>
<ellipse cx="458.4" cy="176.1" rx="2.28" ry="1.17" fill="url(#dot3)"/>
<ellipse cx="451.8" cy="177.5" rx="2.60" ry="3.10" fill="#74760f" opacity="0.75"/>
<ellipse cx="451.8" cy="179.6" rx="2.28" ry="1.17" fill="url(#dot3)"/>
<ellipse cx="444.8" cy="180.4" rx="2.60" ry="3.10" fill="#74760f" opacity="0.75"/>
<ellipse cx="444.8" cy="182.4" rx="2.28" ry="1.17" fill="url(#dot3)"/>
<ellipse cx="437.7" cy="182.7" rx="2.60" ry="3.10" fill="#74760f" opacity="0.75"/>
<ellipse cx="437.7" cy="184.7" rx="2.28" ry="1.17" fill="url(#dot3)"/>
<ellipse cx="430.4" cy="184.3" rx="2.60" ry="3.10" fill="#74760f" opacity="0.75"/>
<ellipse cx="430.4" cy="186.4" rx="2.28" ry="1.17" fill="url(#dot3)"/>
<ellipse cx="422.9" cy="185.4" rx="2.60" ry="3.10" fill="#74760f" opacity="0.75"/>
<ellipse cx="422.9" cy="187.4" rx="2.28" ry="1.17" fill="url(#dot3)"/>
<ellipse cx="415.4" cy="185.8" rx="2.60" ry="3.10" fill="#74760f" opacity="0.75"/>
<ellipse cx="415.4" cy="187.9" rx="2.28" ry="1.17" fill="url(#dot3)"/>
<ellipse cx="407.9" cy="185.6" rx="2.60" ry="3.10" fill="#74760f" opacity="0.75"/>
<ellipse cx="407.9" cy="187.7" rx="2.28" ry="1.17" fill="url(#dot3)"/>
<ellipse cx="400.4" cy="184.8" rx="2.60" ry="3.10" fill="#74760f" opacity="0.75"/>
<ellipse cx="400.4" cy="186.8" rx="2.28" ry="1.17" fill="url(#dot3)"/>
<ellipse cx="393.0" cy="183.4" rx="2.60" ry="3.10" fill="#74760f" opacity="0.75"/>
<ellipse cx="393.0" cy="185.4" rx="2.28" ry="1.17" fill="url(#dot3)"/>
<ellipse cx="385.8" cy="181.3" rx="2.60" ry="3.10" fill="#74760f" opacity="0.75"/>
<ellipse cx="385.8" cy="183.3" rx="2.28" ry="1.17" fill="url(#dot3)"/>
<ellipse cx="378.8" cy="178.7" rx="2.60" ry="3.10" fill="#74760f" opacity="0.75"/>
<ellipse cx="378.8" cy="180.7" rx="2.28" ry="1.17" fill="url(#dot3)"/>
<ellipse cx="372.0" cy="175.4" rx="2.60" ry="3.10" fill="#74760f" opacity="0.75"/>
<ellipse cx="372.0" cy="177.5" rx="2.28" ry="1.17" fill="url(#dot3)"/>
<ellipse cx="365.6" cy="171.6" rx="2.60" ry="3.10" fill="#74760f" opacity="0.75"/>
<ellipse cx="365.6" cy="173.7" rx="2.28" ry="1.17" fill="url(#dot3)"/>
<ellipse cx="359.5" cy="167.3" rx="2.60" ry="3.10" fill="#74760f" opacity="0.75"/>
<ellipse cx="359.5" cy="169.4" rx="2.28" ry="1.17" fill="url(#dot3)"/>
<ellipse cx="353.8" cy="162.5" rx="2.60" ry="3.10" fill="#74760f" opacity="0.75"/>
<ellipse cx="353.8" cy="164.6" rx="2.28" ry="1.17" fill="url(#dot3)"/>
<ellipse cx="348.6" cy="157.3" rx="2.60" ry="3.10" fill="#74760f" opacity="0.75"/>
<ellipse cx="348.6" cy="159.3" rx="2.28" ry="1.17" fill="url(#dot3)"/>
<ellipse cx="343.8" cy="151.6" rx="2.60" ry="3.10" fill="#74760f" opacity="0.75"/>
<ellipse cx="343.8" cy="153.7" rx="2.28" ry="1.17" fill="url(#dot3)"/>
<ellipse cx="339.6" cy="145.6" rx="2.60" ry="3.10" fill="#74760f" opacity="0.75"/>
<ellipse cx="339.6" cy="147.6" rx="2.28" ry="1.17" fill="url(#dot3)"/>
<ellipse cx="335.9" cy="139.2" rx="2.60" ry="3.10" fill="#74760f" opacity="0.75"/>
<ellipse cx="335.9" cy="141.2" rx="2.28" ry="1.17" fill="url(#dot3)"/>
<ellipse cx="332.8" cy="132.5" rx="2.60" ry="3.10" fill="#74760f" opacity="0.75"/>
<ellipse cx="332.8" cy="134.6" rx="2.28" ry="1.17" fill="url(#dot3)"/>
<ellipse cx="330.3" cy="125.7" rx="2.60" ry="3.10" fill="#74760f" opacity="0.75"/>
<ellipse cx="330.3" cy="127.7" rx="2.28" ry="1.17" fill="url(#dot3)"/>
<ellipse cx="328.4" cy="118.6" rx="2.60" ry="3.10" fill="#74760f" opacity="0.75"/>
<ellipse cx="328.4" cy="120.6" rx="2.28" ry="1.17" fill="url(#dot3)"/>
<ellipse cx="327.2" cy="111.4" rx="2.60" ry="3.10" fill="#74760f" opacity="0.75"/>
<ellipse cx="327.2" cy="113.4" rx="2.28" ry="1.17" fill="url(#dot3)"/>
<ellipse cx="326.5" cy="104.1" rx="2.60" ry="3.10" fill="#74760f" opacity="0.75"/>
<ellipse cx="326.5" cy="106.1" rx="2.28" ry="1.17" fill="url(#dot3)"/>
<ellipse cx="326.6" cy="96.8" rx="2.60" ry="3.10" fill="#74760f" opacity="0.75"/>
<ellipse cx="326.6" cy="98.8" rx="2.28" ry="1.17" fill="url(#dot3)"/>
<ellipse cx="327.3" cy="89.5" rx="2.60" ry="3.10" fill="#74760f" opacity="0.75"/>
<ellipse cx="327.3" cy="91.5" rx="2.28" ry="1.17" fill="url(#dot3)"/>
<ellipse cx="328.6" cy="82.3" rx="2.60" ry="3.10" fill="#74760f" opacity="0.75"/>
<ellipse cx="328.6" cy="84.3" rx="2.28" ry="1.17" fill="url(#dot3)"/>
<ellipse cx="330.6" cy="75.2" rx="2.60" ry="3.10" fill="#74760f" opacity="0.75"/>
<ellipse cx="330.6" cy="77.3" rx="2.28" ry="1.17" fill="url(#dot3)"/>
<ellipse cx="333.2" cy="68.4" rx="2.60" ry="3.10" fill="#74760f" opacity="0.75"/>
<ellipse cx="333.2" cy="70.4" rx="2.28" ry="1.17" fill="url(#dot3)"/>
<ellipse cx="336.3" cy="61.8" rx="2.60" ry="3.10" fill="#74760f" opacity="0.75"/>
<ellipse cx="336.3" cy="63.8" rx="2.28" ry="1.17" fill="url(#dot3)"/>
<ellipse cx="340.1" cy="55.4" rx="2.60" ry="3.10" fill="#74760f" opacity="0.75"/>
<ellipse cx="340.1" cy="57.4" rx="2.28" ry="1.17" fill="url(#dot3)"/>
<ellipse cx="344.4" cy="49.4" rx="2.60" ry="3.10" fill="#74760f" opacity="0.75"/>
<ellipse cx="344.4" cy="51.5" rx="2.28" ry="1.17" fill="url(#dot3)"/>
<ellipse cx="349.2" cy="43.8" rx="2.60" ry="3.10" fill="#74760f" opacity="0.75"/>
<ellipse cx="349.2" cy="45.8" rx="2.28" ry="1.17" fill="url(#dot3)"/>
<ellipse cx="354.5" cy="38.6" rx="2.60" ry="3.10" fill="#74760f" opacity="0.75"/>
<ellipse cx="354.5" cy="40.6" rx="2.28" ry="1.17" fill="url(#dot3)"/>
<ellipse cx="360.2" cy="33.9" rx="2.60" ry="3.10" fill="#74760f" opacity="0.75"/>
<ellipse cx="360.2" cy="35.9" rx="2.28" ry="1.17" fill="url(#dot3)"/>
<ellipse cx="366.4" cy="29.6" rx="2.60" ry="3.10" fill="#74760f" opacity="0.75"/>
<ellipse cx="366.4" cy="31.7" rx="2.28" ry="1.17" fill="url(#dot3)"/>
<ellipse cx="372.9" cy="25.9" rx="2.60" ry="3.10" fill="#74760f" opacity="0.75"/>
<ellipse cx="372.9" cy="28.0" rx="2.28" ry="1.17" fill="url(#dot3)"/>
<ellipse cx="379.7" cy="22.8" rx="2.60" ry="3.10" fill="#74760f" opacity="0.75"/>
<ellipse cx="379.7" cy="24.8" rx="2.28" ry="1.17" fill="url(#dot3)"/>
<ellipse cx="386.7" cy="20.2" rx="2.60" ry="3.10" fill="#74760f" opacity="0.75"/>
<ellipse cx="386.7" cy="22.2" rx="2.28" ry="1.17" fill="url(#dot3)"/>
<ellipse cx="394.0" cy="18.2" rx="2.60" ry="3.10" fill="#74760f" opacity="0.75"/>
<ellipse cx="394.0" cy="20.2" rx="2.28" ry="1.17" fill="url(#dot3)"/>
<ellipse cx="401.3" cy="16.9" rx="2.60" ry="3.10" fill="#74760f" opacity="0.75"/>
<ellipse cx="401.3" cy="18.9" rx="2.28" ry="1.17" fill="url(#dot3)"/>
<ellipse cx="408.8" cy="16.1" rx="2.60" ry="3.10" fill="#74760f" opacity="0.75"/>
<ellipse cx="408.8" cy="18.1" rx="2.28" ry="1.17" fill="url(#dot3)"/>
<ellipse cx="416.4" cy="16.0" rx="2.60" ry="3.10" fill="#74760f" opacity="0.75"/>
<ellipse cx="416.4" cy="18.0" rx="2.28" ry="1.17" fill="url(#dot3)"/>
<ellipse cx="423.9" cy="16.5" rx="2.60" ry="3.10" fill="#74760f" opacity="0.75"/>
<ellipse cx="423.9" cy="18.5" rx="2.28" ry="1.17" fill="url(#dot3)"/>
<ellipse cx="431.3" cy="17.6" rx="2.60" ry="3.10" fill="#74760f" opacity="0.75"/>
<ellipse cx="431.3" cy="19.7" rx="2.28" ry="1.17" fill="url(#dot3)"/>
<ellipse cx="438.6" cy="19.4" rx="2.60" ry="3.10" fill="#74760f" opacity="0.75"/>
<ellipse cx="438.6" cy="21.4" rx="2.28" ry="1.17" fill="url(#dot3)"/>
<ellipse cx="445.8" cy="21.7" rx="2.60" ry="3.10" fill="#74760f" opacity="0.75"/>
<ellipse cx="445.8" cy="23.8" rx="2.28" ry="1.17" fill="url(#dot3)"/>
<ellipse cx="452.7" cy="24.7" rx="2.60" ry="3.10" fill="#74760f" opacity="0.75"/>
<ellipse cx="452.7" cy="26.7" rx="2.28" ry="1.17" fill="url(#dot3)"/>
<ellipse cx="459.3" cy="28.2" rx="2.60" ry="3.10" fill="#74760f" opacity="0.75"/>
<ellipse cx="459.3" cy="30.2" rx="2.28" ry="1.17" fill="url(#dot3)"/>
<ellipse cx="465.5" cy="32.2" rx="2.60" ry="3.10" fill="#74760f" opacity="0.75"/>
<ellipse cx="465.5" cy="34.3" rx="2.28" ry="1.17" fill="url(#dot3)"/>
<ellipse cx="471.4" cy="36.8" rx="2.60" ry="3.10" fill="#74760f" opacity="0.75"/>
<ellipse cx="471.4" cy="38.8" rx="2.28" ry="1.17" fill="url(#dot3)"/>
<ellipse cx="476.9" cy="41.8" rx="2.60" ry="3.10" fill="#74760f" opacity="0.75"/>
<ellipse cx="476.9" cy="43.9" rx="2.28" ry="1.17" fill="url(#dot3)"/>
<ellipse cx="481.9" cy="47.3" rx="2.60" ry="3.10" fill="#74760f" opacity="0.75"/>
<ellipse cx="481.9" cy="49.3" rx="2.28" ry="1.17" fill="url(#dot3)"/>
<ellipse cx="326.1" cy="72.5" rx="1.90" ry="2.40" fill="#8a8a1a" opacity="0.6"/>
<ellipse cx="328.6" cy="66.1" rx="1.90" ry="2.40" fill="#8a8a1a" opacity="0.6"/>
<ellipse cx="331.6" cy="59.8" rx="1.90" ry="2.40" fill="#8a8a1a" opacity="0.6"/>
<ellipse cx="335.1" cy="53.8" rx="1.90" ry="2.40" fill="#8a8a1a" opacity="0.6"/>
<ellipse cx="339.0" cy="48.1" rx="1.90" ry="2.40" fill="#8a8a1a" opacity="0.6"/>
<ellipse cx="343.4" cy="42.7" rx="1.90" ry="2.40" fill="#8a8a1a" opacity="0.6"/>
<ellipse cx="348.2" cy="37.6" rx="1.90" ry="2.40" fill="#8a8a1a" opacity="0.6"/>
<ellipse cx="353.4" cy="32.9" rx="1.90" ry="2.40" fill="#8a8a1a" opacity="0.6"/>
<ellipse cx="358.9" cy="28.6" rx="1.90" ry="2.40" fill="#8a8a1a" opacity="0.6"/>
<ellipse cx="364.8" cy="24.7" rx="1.90" ry="2.40" fill="#8a8a1a" opacity="0.6"/>
<ellipse cx="370.9" cy="21.3" rx="1.90" ry="2.40" fill="#8a8a1a" opacity="0.6"/>
<ellipse cx="377.3" cy="18.3" rx="1.90" ry="2.40" fill="#8a8a1a" opacity="0.6"/>
<ellipse cx="384.0" cy="15.9" rx="1.90" ry="2.40" fill="#8a8a1a" opacity="0.6"/>
<ellipse cx="390.8" cy="13.9" rx="1.90" ry="2.40" fill="#8a8a1a" opacity="0.6"/>
<ellipse cx="397.7" cy="12.4" rx="1.90" ry="2.40" fill="#8a8a1a" opacity="0.6"/>
<ellipse cx="404.7" cy="11.5" rx="1.90" ry="2.40" fill="#8a8a1a" opacity="0.6"/>
<ellipse cx="411.8" cy="11.0" rx="1.90" ry="2.40" fill="#8a8a1a" opacity="0.6"/>
<ellipse cx="418.9" cy="11.1" rx="1.90" ry="2.40" fill="#8a8a1a" opacity="0.6"/>
<ellipse cx="426.0" cy="11.8" rx="1.90" ry="2.40" fill="#8a8a1a" opacity="0.6"/>
<ellipse cx="433.0" cy="12.9" rx="1.90" ry="2.40" fill="#8a8a1a" opacity="0.6"/>
<ellipse cx="439.8" cy="14.6" rx="1.90" ry="2.40" fill="#8a8a1a" opacity="0.6"/>
<ellipse cx="446.6" cy="16.7" rx="1.90" ry="2.40" fill="#8a8a1a" opacity="0.6"/>
<ellipse cx="453.1" cy="19.4" rx="1.90" ry="2.40" fill="#8a8a1a" opacity="0.6"/>
<ellipse cx="459.4" cy="22.6" rx="1.90" ry="2.40" fill="#8a8a1a" opacity="0.6"/>
<ellipse cx="465.5" cy="26.2" rx="1.90" ry="2.40" fill="#8a8a1a" opacity="0.6"/>
<ellipse cx="471.2" cy="30.2" rx="1.90" ry="2.40" fill="#8a8a1a" opacity="0.6"/>
<ellipse cx="476.6" cy="34.7" rx="1.90" ry="2.40" fill="#8a8a1a" opacity="0.6"/>
<ellipse cx="481.7" cy="39.5" rx="1.90" ry="2.40" fill="#8a8a1a" opacity="0.6"/>
<ellipse cx="486.3" cy="44.7" rx="1.90" ry="2.40" fill="#8a8a1a" opacity="0.6"/>
<ellipse cx="490.5" cy="50.3" rx="1.90" ry="2.40" fill="#8a8a1a" opacity="0.6"/>
<ellipse cx="494.3" cy="56.1" rx="1.90" ry="2.40" fill="#8a8a1a" opacity="0.6"/>
<ellipse cx="497.6" cy="62.2" rx="1.90" ry="2.40" fill="#8a8a1a" opacity="0.6"/>
<ellipse cx="500.4" cy="68.5" rx="1.90" ry="2.40" fill="#8a8a1a" opacity="0.6"/>
<ellipse cx="502.7" cy="75.0" rx="1.90" ry="2.40" fill="#8a8a1a" opacity="0.6"/>
<ellipse cx="504.5" cy="81.7" rx="1.90" ry="2.40" fill="#8a8a1a" opacity="0.6"/>
<ellipse cx="505.7" cy="88.5" rx="1.90" ry="2.40" fill="#8a8a1a" opacity="0.6"/>
<ellipse cx="506.4" cy="95.3" rx="1.90" ry="2.40" fill="#8a8a1a" opacity="0.6"/>
<ellipse cx="506.6" cy="102.2" rx="1.90" ry="2.40" fill="#8a8a1a" opacity="0.6"/>
<ellipse cx="506.2" cy="109.1" rx="1.90" ry="2.40" fill="#8a8a1a" opacity="0.6"/>
<ellipse cx="505.3" cy="115.9" rx="1.90" ry="2.40" fill="#8a8a1a" opacity="0.6"/>
<ellipse cx="503.9" cy="122.7" rx="1.90" ry="2.40" fill="#8a8a1a" opacity="0.6"/>
<ellipse cx="501.9" cy="129.3" rx="1.90" ry="2.40" fill="#8a8a1a" opacity="0.6"/>
<ellipse cx="499.4" cy="135.7" rx="1.90" ry="2.40" fill="#8a8a1a" opacity="0.6"/>
<ellipse cx="496.4" cy="142.0" rx="1.90" ry="2.40" fill="#8a8a1a" opacity="0.6"/>
<ellipse cx="492.9" cy="148.0" rx="1.90" ry="2.40" fill="#8a8a1a" opacity="0.6"/>
<ellipse cx="489.0" cy="153.7" rx="1.90" ry="2.40" fill="#8a8a1a" opacity="0.6"/>
<ellipse cx="484.6" cy="159.1" rx="1.90" ry="2.40" fill="#8a8a1a" opacity="0.6"/>
<ellipse cx="479.8" cy="164.2" rx="1.90" ry="2.40" fill="#8a8a1a" opacity="0.6"/>
<ellipse cx="474.6" cy="168.9" rx="1.90" ry="2.40" fill="#8a8a1a" opacity="0.6"/>
<ellipse cx="469.1" cy="173.2" rx="1.90" ry="2.40" fill="#8a8a1a" opacity="0.6"/>
<ellipse cx="463.2" cy="177.1" rx="1.90" ry="2.40" fill="#8a8a1a" opacity="0.6"/>
<ellipse cx="457.1" cy="180.5" rx="1.90" ry="2.40" fill="#8a8a1a" opacity="0.6"/>
<ellipse cx="450.7" cy="183.5" rx="1.90" ry="2.40" fill="#8a8a1a" opacity="0.6"/>
<ellipse cx="444.0" cy="185.9" rx="1.90" ry="2.40" fill="#8a8a1a" opacity="0.6"/>
<ellipse cx="437.2" cy="187.9" rx="1.90" ry="2.40" fill="#8a8a1a" opacity="0.6"/>
<ellipse cx="430.3" cy="189.4" rx="1.90" ry="2.40" fill="#8a8a1a" opacity="0.6"/>
<ellipse cx="423.3" cy="190.3" rx="1.90" ry="2.40" fill="#8a8a1a" opacity="0.6"/>
<ellipse cx="416.2" cy="190.8" rx="1.90" ry="2.40" fill="#8a8a1a" opacity="0.6"/>
<ellipse cx="409.1" cy="190.7" rx="1.90" ry="2.40" fill="#8a8a1a" opacity="0.6"/>
<ellipse cx="402.0" cy="190.0" rx="1.90" ry="2.40" fill="#8a8a1a" opacity="0.6"/>
<ellipse cx="395.0" cy="188.9" rx="1.90" ry="2.40" fill="#8a8a1a" opacity="0.6"/>
<ellipse cx="388.2" cy="187.2" rx="1.90" ry="2.40" fill="#8a8a1a" opacity="0.6"/>
<ellipse cx="381.4" cy="185.1" rx="1.90" ry="2.40" fill="#8a8a1a" opacity="0.6"/>
<ellipse cx="374.9" cy="182.4" rx="1.90" ry="2.40" fill="#8a8a1a" opacity="0.6"/>
<ellipse cx="368.6" cy="179.2" rx="1.90" ry="2.40" fill="#8a8a1a" opacity="0.6"/>
<ellipse cx="362.5" cy="175.6" rx="1.90" ry="2.40" fill="#8a8a1a" opacity="0.6"/>
<ellipse cx="356.8" cy="171.6" rx="1.90" ry="2.40" fill="#8a8a1a" opacity="0.6"/>
<ellipse cx="351.4" cy="167.1" rx="1.90" ry="2.40" fill="#8a8a1a" opacity="0.6"/>
<ellipse cx="346.3" cy="162.3" rx="1.90" ry="2.40" fill="#8a8a1a" opacity="0.6"/>
<ellipse cx="341.7" cy="157.1" rx="1.90" ry="2.40" fill="#8a8a1a" opacity="0.6"/>
<ellipse cx="337.5" cy="151.5" rx="1.90" ry="2.40" fill="#8a8a1a" opacity="0.6"/>
<ellipse cx="333.7" cy="145.7" rx="1.90" ry="2.40" fill="#8a8a1a" opacity="0.6"/>
<ellipse cx="330.4" cy="139.6" rx="1.90" ry="2.40" fill="#8a8a1a" opacity="0.6"/>
<ellipse cx="327.6" cy="133.3" rx="1.90" ry="2.40" fill="#8a8a1a" opacity="0.6"/>
<ellipse cx="325.3" cy="126.8" rx="1.90" ry="2.40" fill="#8a8a1a" opacity="0.6"/>
<ellipse cx="323.5" cy="120.1" rx="1.90" ry="2.40" fill="#8a8a1a" opacity="0.6"/>
<ellipse cx="322.3" cy="113.3" rx="1.90" ry="2.40" fill="#8a8a1a" opacity="0.6"/>
<ellipse cx="321.6" cy="106.5" rx="1.90" ry="2.40" fill="#8a8a1a" opacity="0.6"/>
<ellipse cx="321.4" cy="99.6" rx="1.90" ry="2.40" fill="#8a8a1a" opacity="0.6"/>
<ellipse cx="321.8" cy="92.7" rx="1.90" ry="2.40" fill="#8a8a1a" opacity="0.6"/>
<ellipse cx="322.7" cy="85.9" rx="1.90" ry="2.40" fill="#8a8a1a" opacity="0.6"/>
<ellipse cx="324.1" cy="79.1" rx="1.90" ry="2.40" fill="#8a8a1a" opacity="0.6"/>
</g>
<line x1="411" y1="107.3" x2="487.3" y2="173.3" stroke="#f21d1d" stroke-width="1.3" stroke-dasharray="4.2 2.2"/>
</g>
<path d="M321.5 17V183.3" fill="none" stroke="#3a3a50" stroke-width="0.75"/><path d="M321.1 183.3H488.2" fill="none" stroke="#44444a" stroke-width="0.6"/>
<line x1="316" y1="35.50" x2="321.5" y2="35.50" stroke="#444" stroke-width="0.8"/>
<text x="311.8" y="39.60" font-size="11.5" text-anchor="end">20</text>
<line x1="340.20" y1="183.3" x2="340.20" y2="189" stroke="#444" stroke-width="0.8"/>
<text x="338.20" y="202.1" font-size="11.5" text-anchor="middle">20</text>
<line x1="316" y1="72.25" x2="321.5" y2="72.25" stroke="#444" stroke-width="0.8"/>
<text x="311.8" y="76.35" font-size="11.5" text-anchor="end">40</text>
<line x1="377.16" y1="183.3" x2="377.16" y2="189" stroke="#444" stroke-width="0.8"/>
<text x="375.16" y="202.1" font-size="11.5" text-anchor="middle">40</text>
<line x1="316" y1="109.00" x2="321.5" y2="109.00" stroke="#444" stroke-width="0.8"/>
<text x="311.8" y="113.10" font-size="11.5" text-anchor="end">60</text>
<line x1="414.12" y1="183.3" x2="414.12" y2="189" stroke="#444" stroke-width="0.8"/>
<text x="412.12" y="202.1" font-size="11.5" text-anchor="middle">60</text>
<line x1="316" y1="145.75" x2="321.5" y2="145.75" stroke="#444" stroke-width="0.8"/>
<text x="311.8" y="149.85" font-size="11.5" text-anchor="end">80</text>
<line x1="451.08" y1="183.3" x2="451.08" y2="189" stroke="#444" stroke-width="0.8"/>
<text x="449.08" y="202.1" font-size="11.5" text-anchor="middle">80</text>
<line x1="316" y1="182.50" x2="321.5" y2="182.50" stroke="#444" stroke-width="0.8"/>
<line x1="488.04" y1="183.3" x2="488.04" y2="189" stroke="#444" stroke-width="0.8"/>
<text x="293.8" y="191.0" font-size="11">100 µm</text>
<text x="472.8" y="202.2" font-size="11">100 µm</text>
<rect x="518.7" y="18.5" width="9" height="164.5" fill="url(#cb)"/>
<text x="497.8" y="15" font-size="11.5">465.2 nm</text>
<text x="511" y="196.5" font-size="11.5">−735</text>
<text x="277.1" y="19.5" font-size="17">(b)</text>
<rect x="56.6" y="221.7" width="208.20000000000002" height="152.8" fill="none" stroke="#111" stroke-width="1.3"/>
<line x1="56.6" y1="374.50" x2="59.9" y2="374.50" stroke="#111" stroke-width="1"/>
<text x="53.5" y="378.20" font-size="12.5" text-anchor="end">−800</text>
<line x1="56.6" y1="362.75" x2="58.5" y2="362.75" stroke="#111" stroke-width="1"/>
<line x1="56.6" y1="351.00" x2="59.9" y2="351.00" stroke="#111" stroke-width="1"/>
<text x="53.5" y="354.70" font-size="12.5" text-anchor="end">−600</text>
<line x1="56.6" y1="339.25" x2="58.5" y2="339.25" stroke="#111" stroke-width="1"/>
<line x1="56.6" y1="327.50" x2="59.9" y2="327.50" stroke="#111" stroke-width="1"/>
<text x="53.5" y="331.20" font-size="12.5" text-anchor="end">−400</text>
<line x1="56.6" y1="315.75" x2="58.5" y2="315.75" stroke="#111" stroke-width="1"/>
<line x1="56.6" y1="304.00" x2="59.9" y2="304.00" stroke="#111" stroke-width="1"/>
<text x="53.5" y="307.70" font-size="12.5" text-anchor="end">−200</text>
<line x1="56.6" y1="292.25" x2="58.5" y2="292.25" stroke="#111" stroke-width="1"/>
<line x1="56.6" y1="280.50" x2="59.9" y2="280.50" stroke="#111" stroke-width="1"/>
<text x="53.5" y="284.20" font-size="12.5" text-anchor="end">0</text>
<line x1="56.6" y1="268.75" x2="58.5" y2="268.75" stroke="#111" stroke-width="1"/>
<line x1="56.6" y1="257.00" x2="59.9" y2="257.00" stroke="#111" stroke-width="1"/>
<text x="53.5" y="260.70" font-size="12.5" text-anchor="end">200</text>
<line x1="56.6" y1="245.25" x2="58.5" y2="245.25" stroke="#111" stroke-width="1"/>
<line x1="56.6" y1="233.50" x2="59.9" y2="233.50" stroke="#111" stroke-width="1"/>
<text x="53.5" y="237.20" font-size="12.5" text-anchor="end">400</text>
<line x1="72.40" y1="374.5" x2="72.40" y2="371.2" stroke="#111" stroke-width="1"/>
<text x="72.30" y="387.7" font-size="12.5" text-anchor="middle">0</text>
<line x1="88.45" y1="374.5" x2="88.45" y2="372.6" stroke="#111" stroke-width="1"/>
<line x1="104.50" y1="374.5" x2="104.50" y2="371.2" stroke="#111" stroke-width="1"/>
<text x="104.40" y="387.7" font-size="12.5" text-anchor="middle">10</text>
<line x1="120.55" y1="374.5" x2="120.55" y2="372.6" stroke="#111" stroke-width="1"/>
<line x1="136.60" y1="374.5" x2="136.60" y2="371.2" stroke="#111" stroke-width="1"/>
<text x="136.50" y="387.7" font-size="12.5" text-anchor="middle">20</text>
<line x1="152.65" y1="374.5" x2="152.65" y2="372.6" stroke="#111" stroke-width="1"/>
<line x1="168.70" y1="374.5" x2="168.70" y2="371.2" stroke="#111" stroke-width="1"/>
<text x="168.60" y="387.7" font-size="12.5" text-anchor="middle">30</text>
<line x1="184.75" y1="374.5" x2="184.75" y2="372.6" stroke="#111" stroke-width="1"/>
<line x1="200.80" y1="374.5" x2="200.80" y2="371.2" stroke="#111" stroke-width="1"/>
<text x="200.70" y="387.7" font-size="12.5" text-anchor="middle">40</text>
<line x1="216.85" y1="374.5" x2="216.85" y2="372.6" stroke="#111" stroke-width="1"/>
<line x1="232.90" y1="374.5" x2="232.90" y2="371.2" stroke="#111" stroke-width="1"/>
<text x="232.80" y="387.7" font-size="12.5" text-anchor="middle">50</text>
<line x1="248.95" y1="374.5" x2="248.95" y2="372.6" stroke="#111" stroke-width="1"/>
<line x1="265.00" y1="374.5" x2="265.00" y2="371.2" stroke="#111" stroke-width="1"/>
<text x="264.90" y="387.7" font-size="12.5" text-anchor="middle">60</text>
<polyline fill="none" stroke="#111" stroke-width="1.25" stroke-linejoin="round" stroke-linecap="round" points="72.4,250.5 74,250.8 75.5,251.6 77,251.8 78.5,251.0 80,251.6 81.5,251.0 83,251.2 85,250.8 87,251.2 89,250.8 91,251.0 93,250.9 95.3,251.2 96.6,255 98,268 99.5,280 101,289 102.6,292.6 104,290.5 105.5,281 107.4,266.3 109,256.5 110.4,252.3 111.4,251.8 112.5,254.5 114,266.3 115.3,280 116.6,292.6 118,303 119.3,309 120.6,311 122,308.5 123.3,301 124.5,292.6 125.8,282 127.1,272.5 128.2,270 129,268.2 129.8,273 131,292.6 132.3,312 133.7,329.5 134.8,337 135.9,340 137.2,336 139,326.8 141,315 142.9,303 144.5,292 145.6,283.5 146.2,281.6 146.8,292 147.6,319 148.5,333 149.5,339.5 150.6,334 152.1,324.2 153.5,321.5 155,319 156.5,315 158,309 160.3,295.3 161.5,288 162.4,285.3 164,286.8 164.8,300 165.6,319 166.8,333 168.2,340 169.5,339 170.8,336 172.7,328 174.7,319 176.5,309 178.2,298 179.5,287 180.5,276.8 181.2,287 182.1,300.5 183,306.5 184,309.2 185.3,312 185.6,318 186.5,326 187.4,330.8 189,329.8 190.5,328 191.8,322 193.2,313.7 194.5,301 195.8,287.4 197,276 197.9,272 198.8,276 199.7,282 201,289.5 202.4,296.6 203.7,302.5 205,307 206.8,310.5 208,309 209,304.5 210.3,296 211.6,284.7 212.5,272 213.4,261 214.2,258 215,257 216,255.5 217.1,254.5 217.7,258 218.2,266.3 219.2,272.5 220.3,276.8 221.4,279.8 222.4,280.8 223.5,279.8 224.7,276.8 225.7,274.5 226.6,271.6 227.6,265 228.7,257 229.4,255.6 230.2,255.8 231,257.8 231.8,258.4 232.8,256.6 233.9,256.3 235.2,257 236.6,255.8 238,256.2 239.2,257.4 240.5,258.2 241.8,257.5 243,256.8 244.5,255.8 245.3,253 246,251 246.8,250.3 247.6,250.5 248.4,253 249.2,256.5"/>
<text x="150.5" y="409.1" font-size="14.3" text-anchor="middle">XY-axis (µm)</text>
<text transform="translate(23.8,303.3) rotate(-90)" font-size="14.3" text-anchor="middle">Depth (nm)</text>
<text x="5.7" y="226.6" font-size="17">(c)</text>
<rect x="325.4" y="222.25" width="208.80000000000007" height="153.64999999999998" fill="none" stroke="#111" stroke-width="1.3"/>
<text x="321.6" y="379.70" font-size="12.5" text-anchor="end">0.2</text>
<line x1="325.4" y1="350.29" x2="327.29999999999995" y2="350.29" stroke="#111" stroke-width="1"/>
<line x1="325.4" y1="324.68" x2="328.7" y2="324.68" stroke="#111" stroke-width="1"/>
<text x="321.6" y="328.48" font-size="12.5" text-anchor="end">0.4</text>
<line x1="325.4" y1="299.07" x2="327.29999999999995" y2="299.07" stroke="#111" stroke-width="1"/>
<line x1="325.4" y1="273.47" x2="328.7" y2="273.47" stroke="#111" stroke-width="1"/>
<text x="321.6" y="277.27" font-size="12.5" text-anchor="end">0.6</text>
<line x1="325.4" y1="247.86" x2="327.29999999999995" y2="247.86" stroke="#111" stroke-width="1"/>
<text x="321.6" y="226.05" font-size="12.5" text-anchor="end">0.8</text>
<text x="323.50" y="389.2" font-size="12.5" text-anchor="middle">−5</text>
<line x1="337.00" y1="375.9" x2="337.00" y2="374.0" stroke="#111" stroke-width="1"/>
<line x1="348.60" y1="375.9" x2="348.60" y2="372.59999999999997" stroke="#111" stroke-width="1"/>
<text x="346.70" y="389.2" font-size="12.5" text-anchor="middle">−4</text>
<line x1="360.20" y1="375.9" x2="360.20" y2="374.0" stroke="#111" stroke-width="1"/>
<line x1="371.80" y1="375.9" x2="371.80" y2="372.59999999999997" stroke="#111" stroke-width="1"/>
<text x="369.90" y="389.2" font-size="12.5" text-anchor="middle">−3</text>
<line x1="383.40" y1="375.9" x2="383.40" y2="374.0" stroke="#111" stroke-width="1"/>
<line x1="395.00" y1="375.9" x2="395.00" y2="372.59999999999997" stroke="#111" stroke-width="1"/>
<text x="393.10" y="389.2" font-size="12.5" text-anchor="middle">−2</text>
<line x1="406.60" y1="375.9" x2="406.60" y2="374.0" stroke="#111" stroke-width="1"/>
<line x1="418.20" y1="375.9" x2="418.20" y2="372.59999999999997" stroke="#111" stroke-width="1"/>
<text x="416.30" y="389.2" font-size="12.5" text-anchor="middle">−1</text>
<line x1="429.80" y1="375.9" x2="429.80" y2="374.0" stroke="#111" stroke-width="1"/>
<line x1="441.40" y1="375.9" x2="441.40" y2="372.59999999999997" stroke="#111" stroke-width="1"/>
<text x="441.70" y="389.2" font-size="12.5" text-anchor="middle">0</text>
<line x1="453.00" y1="375.9" x2="453.00" y2="374.0" stroke="#111" stroke-width="1"/>
<line x1="464.60" y1="375.9" x2="464.60" y2="372.59999999999997" stroke="#111" stroke-width="1"/>
<text x="464.90" y="389.2" font-size="12.5" text-anchor="middle">1</text>
<line x1="476.20" y1="375.9" x2="476.20" y2="374.0" stroke="#111" stroke-width="1"/>
<line x1="487.80" y1="375.9" x2="487.80" y2="372.59999999999997" stroke="#111" stroke-width="1"/>
<text x="488.10" y="389.2" font-size="12.5" text-anchor="middle">2</text>
<line x1="499.40" y1="375.9" x2="499.40" y2="374.0" stroke="#111" stroke-width="1"/>
<line x1="511.00" y1="375.9" x2="511.00" y2="372.59999999999997" stroke="#111" stroke-width="1"/>
<text x="511.30" y="389.2" font-size="12.5" text-anchor="middle">3</text>
<line x1="522.60" y1="375.9" x2="522.60" y2="374.0" stroke="#111" stroke-width="1"/>
<text x="534.50" y="389.2" font-size="12.5" text-anchor="middle">4</text>
<polyline fill="none" stroke="#111" stroke-width="1.3" points="348.6,333.2 371.8,289.3 395.0,267.7 418.2,257.3 441.4,240.8 464.6,240.8 487.8,299.7 511.0,336.5"/>
<path d="M348.6 326.6V340.1M346.5 326.6h4.2M346.5 340.1h4.2" stroke="#111" stroke-width="1.05" fill="none"/>
<rect x="346.3" y="330.9" width="4.6" height="4.6" fill="#111"/>
<path d="M371.8 283.3V295.9M369.7 283.3h4.2M369.7 295.9h4.2" stroke="#111" stroke-width="1.05" fill="none"/>
<rect x="369.5" y="287.0" width="4.6" height="4.6" fill="#111"/>
<path d="M395.0 262V272.8M392.9 262h4.2M392.9 272.8h4.2" stroke="#111" stroke-width="1.05" fill="none"/>
<rect x="392.7" y="265.4" width="4.6" height="4.6" fill="#111"/>
<path d="M418.2 250.1V264.5M416.1 250.1h4.2M416.1 264.5h4.2" stroke="#111" stroke-width="1.05" fill="none"/>
<rect x="415.9" y="255.0" width="4.6" height="4.6" fill="#111"/>
<path d="M441.4 233.2V249M439.3 233.2h4.2M439.3 249h4.2" stroke="#111" stroke-width="1.05" fill="none"/>
<rect x="439.1" y="238.5" width="4.6" height="4.6" fill="#111"/>
<path d="M464.6 234.6V247.4M462.5 234.6h4.2M462.5 247.4h4.2" stroke="#111" stroke-width="1.05" fill="none"/>
<rect x="462.3" y="238.5" width="4.6" height="4.6" fill="#111"/>
<path d="M487.8 292.3V307.2M485.7 292.3h4.2M485.7 307.2h4.2" stroke="#111" stroke-width="1.05" fill="none"/>
<rect x="485.5" y="297.4" width="4.6" height="4.6" fill="#111"/>
<path d="M511.0 331.1V341.6M508.9 331.1h4.2M508.9 341.6h4.2" stroke="#111" stroke-width="1.05" fill="none"/>
<rect x="508.7" y="334.2" width="4.6" height="4.6" fill="#111"/>
<text x="421" y="409.1" font-size="14.3" text-anchor="middle">Focus position (µm)</text>
<text transform="translate(296.8,303.3) rotate(-90)" font-size="14.3" text-anchor="middle">Depth (µm)</text>
<text x="274.8" y="226.5" font-size="17">(d)</text>
</svg></body></html>
